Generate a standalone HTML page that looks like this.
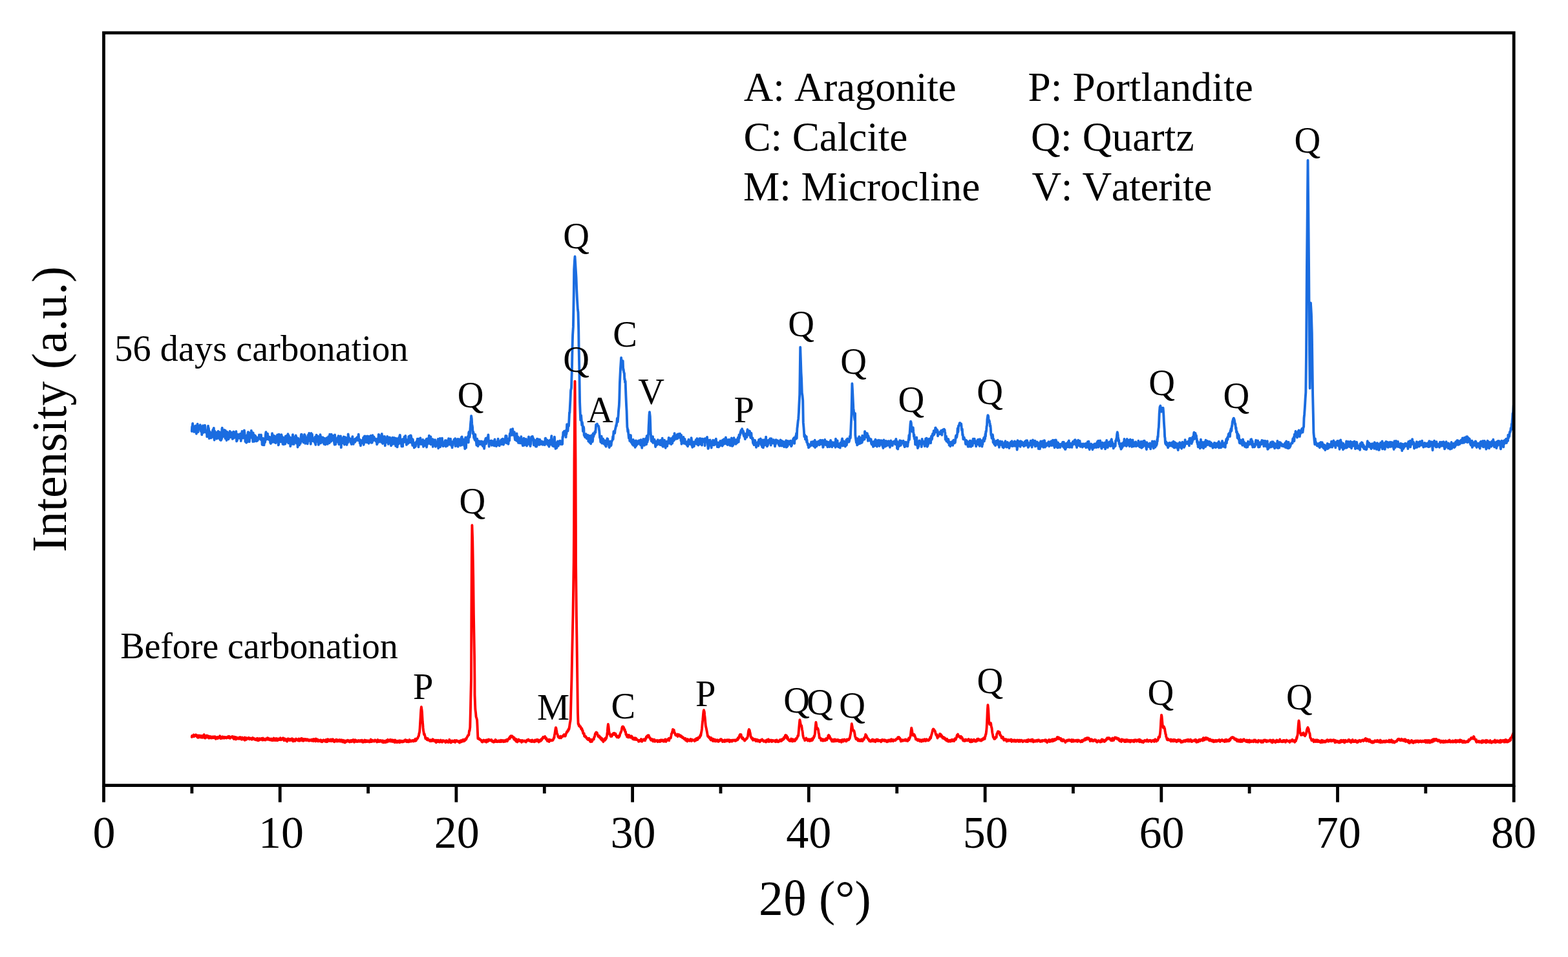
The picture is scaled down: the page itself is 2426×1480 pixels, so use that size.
<!DOCTYPE html>
<html lang="en">
<head>
<meta charset="utf-8">
<title>XRD patterns before and after carbonation</title>
<style>
html,body{margin:0;padding:0;background:#fff;}
body{width:2426px;height:1480px;overflow:hidden;}
svg{display:block;}
text{font-family:"Liberation Serif",serif;fill:#000;font-kerning:none;font-variant-ligatures:none;}
.frame line{stroke:#000;stroke-width:4.8;stroke-linecap:butt;}
.curve{fill:none;stroke-linejoin:round;stroke-linecap:round;}
</style>
</head>
<body>
<svg width="2426" height="1480" viewBox="0 0 2426 1480">
<rect x="0" y="0" width="2426" height="1480" fill="#ffffff"/>
<g class="curves">
<path class="curve" stroke="#1a6ce0" stroke-width="3.9" d="M296.8 667.0L297.2 659.8L297.6 660.3L298.1 655.0L298.5 662.9L298.9 660.0L299.3 658.9L299.7 665.3L300.2 667.8L300.6 660.8L301.0 661.8L301.4 662.8L301.8 664.6L302.3 664.3L302.7 658.4L303.1 659.8L303.5 668.1L303.9 670.7L304.4 661.7L304.8 658.2L305.2 664.0L305.6 655.6L306.0 661.2L306.5 668.0L306.9 664.1L307.3 660.3L307.7 663.5L308.1 658.7L308.6 661.5L309.0 661.1L309.4 660.4L309.8 657.3L310.2 662.1L310.7 665.0L311.1 667.3L311.5 666.0L311.9 666.7L312.3 672.3L312.8 659.7L313.2 669.8L313.6 663.0L314.0 658.2L314.4 661.7L314.9 662.1L315.3 668.7L315.7 662.5L316.1 665.4L316.5 663.7L317.0 657.8L317.4 659.9L317.8 665.6L318.2 666.0L318.6 668.7L319.1 666.3L319.5 666.4L319.9 668.5L320.3 675.4L320.7 667.5L321.2 668.2L321.6 667.4L322.0 658.8L322.4 670.5L322.8 662.0L323.3 667.1L323.7 678.0L324.1 667.0L324.5 667.6L324.9 677.2L325.4 668.6L325.8 671.3L326.2 676.7L326.6 677.3L327.0 674.7L327.5 672.8L327.9 676.0L328.3 672.6L328.7 670.6L329.1 665.3L329.6 666.4L330.0 663.7L330.4 672.5L330.8 661.9L331.2 676.3L331.7 680.5L332.1 666.5L332.5 668.3L332.9 670.0L333.3 674.9L333.8 669.2L334.2 673.3L334.6 671.3L335.0 672.3L335.4 678.5L335.9 668.4L336.3 672.6L336.7 674.5L337.1 676.5L337.5 666.9L338.0 676.1L338.4 675.0L338.8 677.9L339.2 673.7L339.6 668.2L340.1 675.2L340.5 680.2L340.9 674.6L341.3 673.9L341.7 680.9L342.2 680.4L342.6 670.8L343.0 678.6L343.4 663.1L343.8 661.8L344.3 674.2L344.7 671.7L345.1 675.2L345.5 675.1L345.9 672.1L346.4 674.8L346.8 672.8L347.2 665.0L347.6 673.0L348.0 673.4L348.5 678.0L348.9 665.9L349.3 672.1L349.7 671.9L350.1 674.3L350.6 681.0L351.0 673.0L351.4 667.9L351.8 672.6L352.2 676.6L352.7 669.6L353.1 672.1L353.5 679.2L353.9 677.6L354.3 673.0L354.8 669.1L355.2 671.3L355.6 667.0L356.0 676.4L356.4 674.2L356.9 674.5L357.3 668.5L357.7 670.4L358.1 675.7L358.5 674.5L359.0 671.0L359.4 675.7L359.8 678.9L360.2 672.4L360.6 670.7L361.1 667.6L361.5 667.8L361.9 677.6L362.3 675.9L362.7 674.0L363.2 669.4L363.6 671.5L364.0 676.3L364.4 673.0L364.8 670.6L365.3 667.1L365.7 675.5L366.1 682.3L366.5 681.5L366.9 681.1L367.4 673.8L367.8 676.2L368.2 671.6L368.6 677.7L369.0 672.3L369.5 672.8L369.9 673.6L370.3 677.6L370.7 673.7L371.1 673.3L371.6 671.0L372.0 678.3L372.4 670.6L372.8 682.0L373.2 675.6L373.7 675.2L374.1 673.1L374.5 666.9L374.9 668.6L375.3 673.4L375.8 677.6L376.2 667.3L376.6 669.6L377.0 673.5L377.4 667.6L377.9 665.6L378.3 668.9L378.7 671.6L379.1 673.7L379.5 682.9L380.0 675.8L380.4 677.1L380.8 682.3L381.2 684.6L381.6 673.5L382.1 679.2L382.5 683.4L382.9 672.5L383.3 673.4L383.7 668.3L384.2 668.3L384.6 671.9L385.0 676.6L385.4 680.4L385.8 683.1L386.3 677.9L386.7 669.8L387.1 677.3L387.5 673.8L387.9 674.2L388.4 672.5L388.8 665.9L389.2 675.0L389.6 668.1L390.0 675.0L390.5 677.7L390.9 676.9L391.3 683.0L391.7 669.5L392.1 678.5L392.6 682.5L393.0 680.9L393.4 682.7L393.8 673.0L394.2 680.3L394.7 681.0L395.1 674.0L395.5 675.9L395.9 679.1L396.3 675.9L396.8 682.3L397.2 678.6L397.6 681.3L398.0 681.7L398.4 681.0L398.9 680.5L399.3 676.9L399.7 678.1L400.1 675.9L400.5 677.9L401.0 672.5L401.4 677.3L401.8 678.0L402.2 674.0L402.6 674.0L403.1 679.5L403.5 679.9L403.9 672.4L404.3 677.3L404.7 677.1L405.2 678.3L405.6 687.6L406.0 684.7L406.4 686.5L406.8 688.1L407.3 677.9L407.7 679.7L408.1 683.7L408.5 688.3L408.9 682.6L409.4 684.4L409.8 684.4L410.2 682.9L410.6 678.4L411.0 671.2L411.5 668.1L411.9 679.8L412.3 677.2L412.7 673.4L413.1 677.5L413.6 676.7L414.0 670.7L414.4 679.2L414.8 674.8L415.2 674.8L415.7 678.7L416.1 677.4L416.5 680.1L416.9 677.8L417.3 676.0L417.8 677.3L418.2 684.7L418.6 677.4L419.0 686.0L419.4 676.5L419.9 684.2L420.3 682.0L420.7 676.4L421.1 670.2L421.5 683.8L422.0 672.6L422.4 673.2L422.8 676.5L423.2 675.2L423.6 676.5L424.1 676.7L424.5 674.1L424.9 684.1L425.3 676.3L425.7 679.4L426.2 680.6L426.6 685.0L427.0 681.0L427.4 679.9L427.8 680.1L428.3 674.0L428.7 675.8L429.1 672.4L429.5 672.6L429.9 679.3L430.4 679.3L430.8 688.3L431.2 686.8L431.6 671.7L432.0 677.6L432.5 672.5L432.9 680.6L433.3 678.3L433.7 679.2L434.1 678.6L434.6 683.3L435.0 680.2L435.4 672.2L435.8 674.3L436.2 676.9L436.7 678.9L437.1 676.0L437.5 686.9L437.9 679.8L438.3 684.0L438.8 677.2L439.2 687.2L439.6 678.3L440.0 686.2L440.4 677.2L440.9 682.0L441.3 686.6L441.7 674.7L442.1 678.0L442.5 682.9L443.0 680.8L443.4 674.0L443.8 680.9L444.2 676.1L444.6 683.3L445.1 678.3L445.5 671.2L445.9 676.7L446.3 685.3L446.7 673.5L447.2 676.5L447.6 680.9L448.0 684.2L448.4 684.9L448.8 676.5L449.3 690.1L449.7 680.5L450.1 681.4L450.5 683.0L450.9 683.4L451.4 680.7L451.8 682.0L452.2 686.9L452.6 675.5L453.0 672.1L453.5 682.1L453.9 682.3L454.3 684.2L454.7 687.0L455.1 676.7L455.6 679.5L456.0 680.0L456.4 684.3L456.8 683.7L457.2 674.7L457.7 673.4L458.1 680.2L458.5 675.5L458.9 685.6L459.3 678.4L459.8 678.0L460.2 679.8L460.6 691.5L461.0 682.8L461.4 677.9L461.9 684.7L462.3 683.6L462.7 685.4L463.1 688.4L463.5 681.4L464.0 683.0L464.4 683.2L464.8 685.8L465.2 681.4L465.6 676.0L466.1 671.6L466.5 674.8L466.9 671.9L467.3 682.6L467.7 680.6L468.2 681.3L468.6 677.6L469.0 676.1L469.4 676.2L469.8 684.4L470.3 678.3L470.7 677.9L471.1 672.0L471.5 680.2L471.9 673.4L472.4 685.9L472.8 679.6L473.2 681.6L473.6 677.1L474.0 676.5L474.5 681.6L474.9 679.7L475.3 682.8L475.7 686.4L476.1 683.2L476.6 672.9L477.0 677.4L477.4 675.6L477.8 674.6L478.2 669.9L478.7 670.9L479.1 677.0L479.5 677.0L479.9 682.5L480.3 681.3L480.8 686.7L481.2 670.4L481.6 670.1L482.0 678.0L482.4 677.0L482.9 671.8L483.3 677.0L483.7 679.1L484.1 682.0L484.5 677.9L485.0 680.3L485.4 680.3L485.8 678.5L486.2 683.0L486.6 679.7L487.1 684.8L487.5 675.8L487.9 685.1L488.3 687.8L488.7 680.8L489.2 683.5L489.6 672.6L490.0 678.5L490.4 673.9L490.8 679.5L491.3 680.1L491.7 674.6L492.1 677.4L492.5 678.2L492.9 687.9L493.4 678.3L493.8 677.7L494.2 680.0L494.6 680.8L495.0 677.4L495.5 672.3L495.9 675.6L496.3 685.3L496.7 679.2L497.1 676.7L497.6 676.4L498.0 682.8L498.4 680.3L498.8 676.7L499.2 683.7L499.7 676.5L500.1 678.3L500.5 684.9L500.9 683.1L501.3 686.7L501.8 680.7L502.2 678.0L502.6 681.2L503.0 681.6L503.4 687.6L503.9 685.6L504.3 682.8L504.7 683.7L505.1 684.2L505.5 677.3L506.0 682.7L506.4 682.4L506.8 686.9L507.2 679.4L507.6 684.3L508.1 675.3L508.5 680.6L508.9 684.0L509.3 679.6L509.7 685.1L510.2 671.6L510.6 678.9L511.0 679.1L511.4 678.0L511.8 672.8L512.3 682.7L512.7 671.6L513.1 679.9L513.5 677.2L513.9 681.0L514.4 676.7L514.8 673.6L515.2 676.4L515.6 676.4L516.0 679.7L516.5 676.7L516.9 682.7L517.3 685.8L517.7 687.6L518.1 672.5L518.6 680.7L519.0 687.4L519.4 686.8L519.8 680.6L520.2 680.6L520.7 679.5L521.1 681.1L521.5 679.1L521.9 678.3L522.3 677.0L522.8 678.9L523.2 683.9L523.6 674.2L524.0 682.3L524.4 687.2L524.9 680.0L525.3 685.7L525.7 677.9L526.1 685.7L526.5 679.4L527.0 674.4L527.4 682.2L527.8 692.1L528.2 681.9L528.6 683.4L529.1 677.9L529.5 677.8L529.9 682.8L530.3 680.7L530.7 682.9L531.2 685.0L531.6 675.5L532.0 678.5L532.4 682.7L532.8 687.6L533.3 676.0L533.7 677.0L534.1 679.8L534.5 683.3L534.9 676.7L535.4 681.8L535.8 683.8L536.2 684.5L536.6 687.9L537.0 678.0L537.5 678.3L537.9 684.7L538.3 684.2L538.7 671.4L539.1 675.2L539.6 681.2L540.0 676.7L540.4 681.0L540.8 679.5L541.2 680.0L541.7 678.5L542.1 679.0L542.5 684.4L542.9 679.9L543.3 683.7L543.8 687.0L544.2 680.1L544.6 680.3L545.0 677.3L545.4 675.1L545.9 686.1L546.3 681.2L546.7 686.9L547.1 684.1L547.5 682.0L548.0 680.0L548.4 681.4L548.8 679.4L549.2 683.8L549.6 678.6L550.1 682.4L550.5 681.9L550.9 678.3L551.3 677.6L551.7 679.5L552.2 679.0L552.6 676.1L553.0 677.6L553.4 677.7L553.8 681.1L554.3 676.7L554.7 671.6L555.1 677.2L555.5 680.7L555.9 681.5L556.4 679.4L556.8 685.7L557.2 685.1L557.6 685.4L558.0 689.2L558.5 681.3L558.9 684.6L559.3 681.7L559.7 685.0L560.1 684.8L560.6 682.8L561.0 684.2L561.4 679.6L561.8 685.4L562.2 676.7L562.7 687.8L563.1 684.8L563.5 675.8L563.9 674.7L564.3 684.3L564.8 674.5L565.2 683.0L565.6 678.1L566.0 681.4L566.4 676.9L566.9 681.9L567.3 679.0L567.7 684.4L568.1 674.5L568.5 683.2L569.0 679.8L569.4 682.2L569.8 674.9L570.2 675.7L570.6 685.7L571.1 675.1L571.5 678.6L571.9 679.1L572.3 675.7L572.7 679.8L573.2 674.3L573.6 673.9L574.0 683.7L574.4 680.0L574.8 684.8L575.3 683.1L575.7 684.6L576.1 680.1L576.5 673.1L576.9 677.5L577.4 676.3L577.8 681.2L578.2 678.4L578.6 675.6L579.0 679.7L579.5 677.9L579.9 680.6L580.3 678.1L580.7 681.1L581.1 678.7L581.6 682.5L582.0 679.2L582.4 682.6L582.8 681.8L583.2 687.3L583.7 686.2L584.1 682.6L584.5 678.1L584.9 678.8L585.3 682.4L585.8 671.9L586.2 683.6L586.6 672.4L587.0 679.9L587.4 678.2L587.9 682.5L588.3 682.1L588.7 678.6L589.1 677.1L589.5 680.9L590.0 683.9L590.4 677.6L590.8 671.0L591.2 677.3L591.6 679.7L592.1 686.0L592.5 675.0L592.9 678.0L593.3 684.4L593.7 683.0L594.2 675.2L594.6 683.7L595.0 675.0L595.4 679.3L595.8 689.2L596.3 680.9L596.7 680.2L597.1 684.7L597.5 678.8L597.9 677.7L598.4 679.2L598.8 683.7L599.2 674.9L599.6 677.4L600.0 675.8L600.5 679.1L600.9 686.8L601.3 680.7L601.7 679.8L602.1 683.1L602.6 678.8L603.0 676.4L603.4 684.3L603.8 684.3L604.2 679.2L604.7 684.5L605.1 689.4L605.5 688.4L605.9 686.5L606.3 677.6L606.8 682.6L607.2 676.8L607.6 686.9L608.0 681.3L608.4 684.7L608.9 677.4L609.3 685.5L609.7 677.0L610.1 682.7L610.5 686.5L611.0 685.7L611.4 683.7L611.8 677.6L612.2 689.7L612.6 687.8L613.1 688.5L613.5 685.1L613.9 678.3L614.3 683.8L614.7 691.4L615.2 681.2L615.6 686.5L616.0 681.5L616.4 686.8L616.8 680.0L617.3 676.5L617.7 679.1L618.1 676.6L618.5 673.4L618.9 672.8L619.4 679.9L619.8 680.1L620.2 686.0L620.6 684.0L621.0 686.9L621.5 690.4L621.9 679.7L622.3 680.6L622.7 687.9L623.1 690.3L623.6 679.7L624.0 678.8L624.4 684.0L624.8 680.0L625.2 682.2L625.7 675.4L626.1 680.0L626.5 683.6L626.9 678.3L627.3 674.0L627.8 681.2L628.2 683.7L628.6 679.6L629.0 687.9L629.4 685.4L629.9 683.4L630.3 682.9L630.7 682.2L631.1 684.4L631.5 685.8L632.0 683.5L632.4 675.0L632.8 680.7L633.2 679.2L633.6 678.3L634.1 682.6L634.5 673.8L634.9 684.1L635.3 676.3L635.7 673.5L636.2 675.7L636.6 684.3L637.0 682.1L637.4 678.6L637.8 685.7L638.3 688.9L638.7 679.4L639.1 682.3L639.5 686.2L639.9 684.6L640.4 684.8L640.8 692.4L641.2 685.6L641.6 686.0L642.0 691.3L642.5 686.0L642.9 690.4L643.3 684.4L643.7 683.9L644.1 683.3L644.6 683.0L645.0 681.9L645.4 682.9L645.8 678.8L646.2 680.5L646.7 682.7L647.1 687.8L647.5 691.4L647.9 678.7L648.3 683.8L648.8 679.9L649.2 681.0L649.6 683.3L650.0 678.6L650.4 677.4L650.9 686.9L651.3 685.9L651.7 683.1L652.1 686.2L652.5 684.7L653.0 680.7L653.4 687.2L653.8 681.9L654.2 680.0L654.6 682.5L655.1 690.9L655.5 687.2L655.9 687.4L656.3 685.7L656.7 687.9L657.2 689.0L657.6 681.4L658.0 684.0L658.4 683.9L658.8 688.7L659.3 686.5L659.7 679.0L660.1 691.6L660.5 688.2L660.9 678.5L661.4 686.8L661.8 682.4L662.2 684.6L662.6 685.0L663.0 685.3L663.5 679.9L663.9 673.7L664.3 679.8L664.7 686.1L665.1 685.8L665.6 685.0L666.0 680.2L666.4 675.4L666.8 687.4L667.2 682.7L667.7 680.4L668.1 684.5L668.5 681.1L668.9 685.3L669.3 679.2L669.8 690.9L670.2 686.2L670.6 687.4L671.0 685.7L671.4 680.4L671.9 685.2L672.3 684.6L672.7 685.2L673.1 680.1L673.5 687.1L674.0 690.7L674.4 685.0L674.8 687.4L675.2 688.7L675.6 684.0L676.1 684.6L676.5 688.7L676.9 686.4L677.3 681.1L677.7 679.0L678.2 693.2L678.6 688.4L679.0 681.7L679.4 687.6L679.8 689.5L680.3 686.6L680.7 678.0L681.1 691.2L681.5 687.6L681.9 684.5L682.4 687.1L682.8 684.1L683.2 683.8L683.6 688.1L684.0 677.8L684.5 687.7L684.9 686.2L685.3 690.0L685.7 690.1L686.1 689.8L686.6 688.5L687.0 687.7L687.4 683.9L687.8 687.2L688.2 683.3L688.7 681.2L689.1 684.9L689.5 684.9L689.9 690.5L690.3 681.1L690.8 689.2L691.2 686.5L691.6 683.0L692.0 689.6L692.4 681.9L692.9 685.2L693.3 682.7L693.7 683.1L694.1 678.2L694.5 682.4L695.0 687.6L695.4 684.5L695.8 683.5L696.2 679.2L696.6 686.9L697.1 678.7L697.5 683.2L697.9 688.4L698.3 686.8L698.7 689.4L699.2 687.1L699.6 692.3L700.0 689.1L700.4 688.8L700.8 683.0L701.3 684.5L701.7 684.3L702.1 683.5L702.5 679.7L702.9 681.6L703.4 683.4L703.8 683.6L704.2 678.1L704.6 690.0L705.0 682.5L705.5 683.0L705.9 681.9L706.3 682.6L706.7 689.6L707.1 680.7L707.6 681.9L708.0 679.0L708.4 680.5L708.8 690.7L709.2 685.8L709.7 685.7L710.1 679.2L710.5 683.8L710.9 685.5L711.3 681.0L711.8 680.8L712.2 687.7L712.6 688.9L713.0 685.3L713.4 679.6L713.9 676.2L714.3 688.2L714.7 675.5L715.1 683.0L715.5 682.4L716.0 680.5L716.4 684.6L716.8 679.4L717.2 687.7L717.6 679.8L718.1 685.9L718.5 690.1L718.9 683.6L719.3 694.0L719.7 688.4L720.2 676.5L720.6 689.3L721.0 692.6L721.4 683.2L721.8 681.1L722.3 683.6L722.7 677.6L723.1 683.8L723.5 682.6L723.9 674.9L724.4 680.8L724.8 684.3L725.2 669.4L725.6 667.9L726.0 671.2L726.5 676.1L726.9 673.7L727.3 666.0L727.7 660.8L728.1 655.2L728.6 650.0L729.1 643.1L729.8 647.9L730.2 655.4L730.7 659.0L731.1 660.8L731.5 670.3L731.9 669.7L732.3 668.0L732.8 670.3L733.2 677.1L733.6 674.2L734.0 677.4L734.4 679.9L734.9 680.6L735.3 672.0L735.7 677.6L736.1 678.8L736.5 681.3L737.0 685.0L737.4 688.5L737.8 682.6L738.2 678.8L738.6 684.0L739.1 681.5L739.5 690.0L739.9 685.6L740.3 683.1L740.7 686.4L741.2 682.3L741.6 683.4L742.0 682.7L742.4 685.1L742.8 687.0L743.3 684.6L743.7 685.7L744.1 682.5L744.5 684.3L744.9 683.0L745.4 687.9L745.8 682.6L746.2 685.8L746.6 687.8L747.0 690.0L747.5 683.9L747.9 685.3L748.3 684.7L748.7 685.6L749.1 693.7L749.6 688.8L750.0 681.6L750.4 683.1L750.8 685.5L751.2 678.8L751.7 677.7L752.1 686.3L752.5 679.7L752.9 679.8L753.3 682.4L753.8 676.9L754.2 678.9L754.6 677.5L755.0 676.5L755.4 672.4L755.9 683.1L756.3 684.3L756.7 690.6L757.1 685.5L757.5 684.2L758.0 685.0L758.4 681.9L758.8 685.3L759.2 683.8L759.6 684.9L760.1 683.1L760.5 681.6L760.9 688.7L761.3 683.9L761.7 684.9L762.2 687.7L762.6 687.9L763.0 682.2L763.4 683.5L763.8 688.4L764.3 689.1L764.7 688.7L765.1 689.2L765.5 679.4L765.9 686.4L766.4 683.0L766.8 685.7L767.2 686.4L767.6 688.1L768.0 690.0L768.5 688.2L768.9 685.1L769.3 682.9L769.7 688.3L770.1 684.5L770.6 678.8L771.0 685.0L771.4 685.7L771.8 682.2L772.2 687.2L772.7 689.3L773.1 684.3L773.5 686.9L773.9 686.9L774.3 683.6L774.8 683.6L775.2 680.5L775.6 681.9L776.0 679.8L776.4 687.1L776.9 682.7L777.3 684.5L777.7 678.6L778.1 684.7L778.5 687.3L779.0 687.6L779.4 683.3L779.8 684.0L780.2 681.7L780.6 679.1L781.1 680.5L781.5 684.6L781.9 677.7L782.3 674.0L782.7 679.0L783.2 682.2L783.6 674.1L784.0 685.2L784.4 681.1L784.8 683.5L785.3 679.7L785.7 680.8L786.1 686.1L786.5 686.7L786.9 682.1L787.4 678.2L787.8 677.6L788.2 681.4L788.6 673.0L789.0 670.2L789.5 670.7L789.9 671.1L790.3 664.2L790.7 672.4L791.1 673.0L791.6 668.6L792.0 667.0L792.4 672.2L792.8 671.1L793.2 663.3L793.7 672.9L794.1 670.1L794.5 671.3L794.9 670.8L795.3 672.3L795.8 668.1L796.2 674.1L796.6 677.9L797.0 680.2L797.4 676.6L797.9 673.9L798.3 678.2L798.7 679.1L799.1 681.3L799.5 670.5L800.0 678.2L800.4 682.4L800.8 682.5L801.2 680.3L801.6 675.7L802.1 684.9L802.5 683.1L802.9 683.6L803.3 677.8L803.7 678.7L804.2 685.2L804.6 681.9L805.0 683.8L805.4 680.4L805.8 685.3L806.3 675.3L806.7 679.5L807.1 682.5L807.5 682.2L807.9 686.3L808.4 684.6L808.8 689.2L809.2 683.3L809.6 683.4L810.0 685.4L810.5 677.6L810.9 688.7L811.3 681.2L811.7 687.5L812.1 687.9L812.6 685.6L813.0 683.0L813.4 681.3L813.8 678.9L814.2 687.5L814.7 683.5L815.1 689.5L815.5 681.8L815.9 684.8L816.3 683.0L816.8 686.3L817.2 682.4L817.6 681.4L818.0 675.5L818.4 681.2L818.9 683.8L819.3 687.7L819.7 684.0L820.1 679.7L820.5 690.0L821.0 685.6L821.4 686.8L821.8 679.5L822.2 675.6L822.6 677.8L823.1 675.3L823.5 679.3L823.9 674.9L824.3 679.4L824.7 677.2L825.2 680.9L825.6 678.8L826.0 688.4L826.4 686.0L826.8 685.0L827.3 680.7L827.7 681.3L828.1 685.0L828.5 682.4L828.9 690.5L829.4 685.1L829.8 689.1L830.2 690.6L830.6 686.9L831.0 678.6L831.5 688.2L831.9 681.8L832.3 679.3L832.7 681.4L833.1 679.5L833.6 682.7L834.0 680.4L834.4 687.9L834.8 685.6L835.2 679.7L835.7 683.1L836.1 682.6L836.5 684.9L836.9 685.4L837.3 686.9L837.8 685.1L838.2 682.5L838.6 686.1L839.0 686.4L839.4 683.6L839.9 687.7L840.3 686.2L840.7 683.5L841.1 684.2L841.5 685.2L842.0 685.3L842.4 684.3L842.8 688.1L843.2 686.9L843.6 678.0L844.1 677.7L844.5 681.7L844.9 683.7L845.3 685.2L845.7 684.3L846.2 684.3L846.6 680.4L847.0 687.1L847.4 684.7L847.8 687.6L848.3 688.6L848.7 683.2L849.1 684.4L849.5 690.7L849.9 681.4L850.4 683.3L850.8 682.1L851.2 680.6L851.6 687.6L852.0 682.0L852.5 681.3L852.9 678.2L853.3 674.1L853.7 685.1L854.1 681.9L854.6 683.9L855.0 689.5L855.4 684.9L855.8 686.0L856.2 687.2L856.7 690.4L857.1 679.4L857.5 680.1L857.9 675.6L858.3 681.9L858.8 684.4L859.2 683.8L859.6 693.9L860.0 689.5L860.4 691.7L860.9 686.8L861.3 692.8L861.7 685.6L862.1 687.7L862.5 684.9L863.0 682.5L863.4 689.8L863.8 689.6L864.2 683.2L864.6 687.6L865.1 685.4L865.5 684.9L865.9 685.7L866.3 681.6L866.7 684.9L867.5 686.9L868.0 683.1L868.4 683.2L868.8 686.9L869.3 681.9L869.7 687.2L870.1 686.6L870.5 675.6L870.9 676.7L871.4 668.5L871.8 672.8L872.2 670.6L872.6 670.2L873.0 666.6L873.5 672.6L873.9 671.6L874.3 669.0L874.7 669.9L875.1 672.8L875.6 676.1L876.0 665.2L876.5 671.1L877.2 656.2L877.7 658.6L878.1 660.9L878.5 666.6L878.9 660.4L879.3 658.0L880.0 659.0L880.6 646.5L881.0 637.9L881.4 638.4L881.9 628.7L882.5 617.7L883.1 603.6L883.5 602.3L884.0 599.9L884.4 585.5L884.9 572.9L885.6 535.6L886.1 517.9L886.9 505.4L887.8 451.9L888.2 417.1L889.0 403.1L889.5 396.8L890.3 409.1L890.8 417.7L891.5 428.8L892.1 445.6L892.9 462.1L893.9 478.6L894.5 483.0L895.2 509.3L895.6 537.1L896.4 577.1L897.1 622.5L898.2 649.6L898.7 644.9L899.1 642.4L899.5 647.6L899.9 652.6L900.3 657.6L900.8 653.0L901.4 657.4L902.0 667.1L902.4 659.7L902.9 660.4L903.3 662.2L903.7 673.1L904.1 673.3L904.7 674.8L905.4 676.3L905.8 673.4L906.2 673.4L906.6 671.2L907.1 675.8L907.5 676.5L907.9 678.2L908.3 674.6L908.7 677.3L909.2 674.8L909.6 672.9L910.0 675.5L910.4 682.3L910.8 679.4L911.3 677.9L911.7 681.1L912.1 684.1L912.5 674.0L912.9 679.5L913.5 685.2L914.2 686.1L914.6 682.8L915.0 681.4L915.5 673.1L915.9 675.9L916.3 680.5L916.7 683.1L917.1 681.0L917.6 670.5L918.0 673.4L918.4 675.1L918.8 670.0L919.2 670.6L919.7 671.7L920.1 669.2L920.5 667.1L920.9 667.8L921.3 668.9L921.8 662.4L922.2 656.6L922.6 656.9L923.0 657.7L923.4 658.0L923.9 655.6L924.3 658.4L924.7 658.3L925.4 658.3L926.0 659.0L926.4 660.3L926.8 664.1L927.2 666.1L927.6 670.9L928.1 677.1L928.5 677.0L928.9 678.8L929.3 683.7L929.7 681.4L930.2 681.8L930.6 674.6L931.0 681.1L931.4 685.6L931.8 678.0L932.3 682.3L932.7 682.2L933.1 678.8L933.5 683.5L933.9 682.6L934.4 686.6L934.8 680.9L935.2 684.4L935.6 686.1L936.0 686.8L936.5 688.9L936.9 681.6L937.3 682.3L937.7 690.6L938.1 683.4L938.6 682.2L939.0 684.0L939.4 678.3L939.8 681.9L940.2 678.6L940.7 681.9L941.1 681.9L941.5 687.7L941.9 685.6L942.3 690.8L942.8 691.9L943.2 685.2L943.6 687.4L944.0 682.6L944.4 682.8L945.1 689.4L945.7 688.0L946.1 683.2L946.5 682.8L947.0 681.6L947.4 680.7L947.8 679.3L948.2 674.9L948.6 679.3L949.1 671.9L949.5 667.2L950.1 669.4L950.7 670.0L951.2 669.9L951.6 665.2L952.4 662.1L953.3 657.3L953.7 658.7L954.1 654.9L954.5 652.3L954.9 647.0L955.7 652.5L956.2 646.6L956.6 642.6L957.0 635.7L957.8 627.5L958.3 616.5L958.9 592.7L960.0 570.1L961.1 553.3L961.7 559.4L962.4 565.6L962.9 567.6L963.7 558.1L964.2 572.1L964.6 570.9L965.4 576.5L965.9 576.9L966.3 586.8L966.7 586.0L967.1 591.5L967.6 589.4L968.4 611.6L969.1 627.4L969.6 635.7L970.4 660.5L970.9 662.5L971.3 667.5L971.7 664.7L972.2 670.0L973.0 677.9L973.8 672.7L974.3 681.9L974.7 677.9L975.1 677.8L975.5 674.5L975.9 673.2L976.4 684.0L976.8 681.7L977.2 680.1L977.6 684.6L978.0 685.9L978.5 687.2L979.1 683.3L979.7 680.0L980.1 688.8L980.6 685.2L981.0 682.2L981.4 688.4L981.8 682.1L982.2 685.8L982.7 691.9L983.1 687.2L983.5 682.4L983.9 681.4L984.3 689.5L984.8 682.6L985.2 686.3L985.6 687.6L986.0 683.2L986.4 685.6L986.9 682.2L987.3 686.5L987.7 685.0L988.1 682.7L988.5 683.1L989.0 681.2L989.4 681.2L989.8 685.3L990.2 684.1L990.6 684.8L991.1 688.4L991.5 680.3L991.9 686.6L992.3 686.7L992.7 686.2L993.2 692.7L993.6 689.7L994.0 684.6L994.4 685.9L994.8 687.1L995.3 679.0L995.7 684.2L996.1 681.6L996.5 682.4L996.9 688.9L997.4 680.7L997.8 680.0L998.2 679.1L998.6 685.3L999.0 686.6L999.5 677.8L999.9 687.4L1000.3 686.5L1000.7 674.1L1001.1 676.3L1001.6 683.5L1002.0 680.6L1002.4 680.6L1002.8 672.6L1003.2 671.2L1003.7 658.7L1004.1 651.4L1004.5 641.7L1005.0 637.2L1005.8 644.2L1006.2 654.8L1006.6 668.7L1007.0 672.5L1007.4 678.4L1007.9 682.2L1008.3 679.2L1008.7 682.5L1009.1 683.2L1009.5 681.0L1010.0 675.3L1010.4 684.8L1010.8 681.1L1011.2 682.5L1011.6 683.7L1012.1 683.0L1012.5 679.7L1012.9 684.1L1013.3 682.8L1013.7 686.9L1014.2 691.0L1014.6 682.4L1015.0 688.9L1015.4 685.7L1015.8 688.6L1016.3 684.3L1016.7 687.7L1017.1 682.3L1017.5 687.1L1017.9 680.2L1018.4 682.3L1018.8 681.4L1019.2 685.5L1019.6 685.8L1020.0 685.5L1020.5 684.1L1020.9 687.7L1021.3 684.6L1021.7 681.0L1022.1 688.1L1022.6 684.7L1023.0 686.6L1023.4 685.0L1023.8 683.1L1024.2 684.5L1024.7 677.7L1025.1 690.0L1025.5 682.0L1025.9 690.7L1026.3 687.7L1026.8 681.5L1027.2 686.7L1027.6 683.0L1028.0 680.7L1028.4 689.4L1028.9 689.1L1029.3 687.4L1029.7 692.7L1030.1 688.9L1030.5 687.1L1031.0 690.3L1031.4 682.6L1031.8 688.1L1032.2 690.0L1032.6 685.5L1033.1 683.4L1033.5 685.2L1033.9 685.5L1034.3 682.3L1034.7 676.9L1035.2 681.7L1035.6 679.4L1036.0 685.7L1036.4 678.3L1036.8 678.2L1037.3 680.3L1037.7 683.9L1038.1 678.9L1038.5 687.0L1038.9 682.9L1039.4 681.2L1039.8 677.4L1040.2 685.6L1040.6 680.8L1041.0 680.7L1041.5 674.9L1041.9 681.8L1042.3 681.4L1042.7 676.5L1043.1 680.7L1043.6 670.1L1044.0 676.2L1044.4 676.2L1044.8 677.6L1045.2 673.4L1045.7 673.9L1046.1 678.9L1046.5 678.3L1046.9 673.5L1047.3 673.0L1047.8 672.1L1048.2 678.2L1048.6 674.5L1049.0 674.2L1049.4 671.3L1049.9 672.4L1050.3 673.9L1050.7 671.1L1051.1 676.7L1051.5 675.4L1052.0 670.7L1052.4 672.8L1052.8 676.5L1053.2 674.0L1053.6 681.7L1054.1 672.9L1054.5 686.6L1054.9 676.8L1055.3 681.3L1055.7 680.9L1056.2 683.2L1056.6 678.0L1057.0 681.1L1057.4 675.9L1057.8 684.8L1058.3 683.6L1058.7 685.9L1059.1 685.8L1059.5 678.9L1059.9 682.6L1060.4 683.0L1060.8 683.7L1061.2 683.6L1061.6 687.0L1062.0 685.3L1062.5 683.6L1062.9 687.7L1063.3 689.1L1063.7 687.3L1064.1 690.2L1064.6 682.0L1065.0 684.3L1065.4 679.8L1065.8 682.1L1066.2 685.2L1066.7 686.7L1067.1 682.1L1067.5 686.2L1067.9 685.7L1068.3 686.7L1068.8 685.7L1069.2 682.7L1069.6 677.1L1070.0 680.6L1070.4 689.1L1070.9 687.5L1071.3 691.7L1071.7 685.3L1072.1 690.3L1072.5 685.7L1073.0 683.4L1073.4 686.5L1073.8 690.2L1074.2 685.3L1074.6 683.4L1075.1 685.2L1075.5 685.8L1075.9 686.3L1076.3 683.7L1076.7 680.2L1077.2 680.4L1077.6 681.4L1078.0 682.2L1078.4 678.3L1078.8 687.2L1079.3 686.0L1079.7 684.3L1080.1 687.4L1080.5 688.5L1080.9 682.5L1081.4 683.1L1081.8 684.9L1082.2 678.3L1082.6 681.7L1083.0 681.7L1083.5 686.9L1083.9 678.1L1084.3 684.1L1084.7 682.2L1085.1 682.6L1085.6 682.2L1086.0 688.6L1086.4 680.7L1086.8 678.6L1087.2 683.0L1087.7 679.9L1088.1 683.1L1088.5 681.0L1088.9 680.5L1089.3 683.3L1089.8 680.3L1090.2 678.4L1090.6 689.2L1091.0 678.2L1091.4 683.5L1091.9 679.9L1092.3 682.2L1092.7 679.1L1093.1 683.0L1093.5 677.9L1094.0 675.9L1094.4 679.6L1094.8 686.0L1095.2 688.6L1095.6 693.8L1096.1 693.0L1096.5 680.9L1096.9 685.6L1097.3 683.2L1097.7 687.8L1098.2 688.7L1098.6 680.4L1099.0 689.0L1099.4 687.8L1099.8 685.5L1100.3 685.7L1100.7 692.5L1101.1 686.1L1101.5 682.9L1101.9 686.4L1102.4 688.2L1102.8 687.4L1103.2 680.7L1103.6 683.0L1104.0 686.2L1104.5 688.3L1104.9 687.8L1105.3 682.3L1105.7 687.8L1106.1 686.4L1106.6 680.6L1107.0 682.3L1107.4 684.3L1107.8 678.8L1108.2 683.5L1108.7 685.6L1109.1 685.4L1109.5 688.3L1109.9 691.1L1110.3 684.4L1110.8 688.4L1111.2 684.6L1111.6 690.7L1112.0 691.2L1112.4 688.0L1112.9 685.6L1113.3 689.7L1113.7 687.4L1114.1 682.8L1114.5 682.0L1115.0 683.0L1115.4 688.6L1115.8 686.0L1116.2 686.6L1116.6 686.0L1117.1 688.9L1117.5 689.6L1117.9 680.7L1118.3 686.2L1118.7 688.0L1119.2 687.0L1119.6 685.8L1120.0 679.1L1120.4 685.4L1120.8 680.0L1121.3 686.2L1121.7 681.1L1122.1 681.0L1122.5 680.8L1122.9 676.4L1123.4 683.0L1123.8 679.1L1124.2 686.6L1124.6 682.8L1125.0 680.1L1125.5 688.0L1125.9 684.5L1126.3 682.0L1126.7 684.2L1127.1 684.7L1127.6 685.6L1128.0 679.8L1128.4 685.5L1128.8 684.3L1129.2 688.8L1129.7 686.2L1130.1 683.1L1130.5 689.1L1130.9 682.7L1131.3 683.0L1131.8 677.5L1132.2 679.1L1132.6 687.7L1133.0 689.9L1133.4 683.5L1133.9 689.0L1134.3 686.4L1134.7 687.6L1135.1 679.7L1135.5 677.1L1136.0 684.5L1136.4 683.8L1136.8 684.1L1137.2 680.9L1137.6 685.7L1138.1 680.1L1138.5 686.7L1138.9 685.1L1139.3 680.2L1139.7 684.6L1140.2 685.0L1140.6 681.6L1141.0 678.9L1141.4 681.4L1141.8 676.7L1142.3 680.0L1142.7 683.6L1143.1 675.4L1143.5 672.4L1143.9 677.6L1144.4 672.3L1144.8 673.2L1145.2 672.4L1145.6 668.3L1146.0 669.9L1146.5 665.5L1146.9 665.6L1147.3 665.8L1147.7 667.1L1148.1 663.2L1148.6 666.2L1149.0 668.9L1149.4 668.6L1149.8 666.5L1150.2 672.4L1150.7 668.8L1151.1 674.9L1151.5 674.4L1151.9 675.4L1152.3 673.6L1152.8 679.1L1153.2 676.9L1153.6 672.1L1154.0 674.8L1154.4 670.6L1154.9 674.0L1155.3 676.2L1155.7 674.7L1156.1 667.3L1156.5 664.3L1157.0 665.7L1157.4 666.1L1157.8 668.5L1158.2 666.2L1158.6 672.0L1159.1 667.4L1159.5 673.0L1159.9 666.6L1160.3 669.4L1160.7 672.2L1161.2 676.6L1161.6 677.0L1162.0 671.9L1162.4 669.8L1162.8 675.7L1163.3 677.7L1163.7 677.7L1164.1 679.8L1164.5 677.4L1164.9 684.0L1165.4 685.9L1165.8 680.2L1166.2 680.7L1166.6 688.1L1167.0 687.8L1167.5 681.2L1167.9 682.1L1168.3 681.0L1168.7 688.0L1169.1 686.4L1169.6 686.0L1170.0 691.8L1170.4 685.2L1170.8 685.5L1171.2 686.1L1171.7 684.6L1172.1 688.8L1172.5 683.7L1172.9 683.5L1173.3 689.5L1173.8 682.0L1174.2 680.0L1174.6 684.4L1175.0 682.8L1175.4 682.6L1175.9 684.5L1176.3 686.0L1176.7 678.4L1177.1 683.3L1177.5 680.0L1178.0 688.5L1178.4 681.1L1178.8 686.7L1179.2 691.3L1179.6 689.7L1180.1 686.7L1180.5 680.4L1180.9 692.4L1181.3 685.0L1181.7 689.5L1182.2 686.5L1182.6 684.7L1183.0 688.6L1183.4 680.0L1183.8 681.3L1184.3 683.5L1184.7 686.4L1185.1 675.6L1185.5 685.4L1185.9 682.6L1186.4 687.0L1186.8 690.2L1187.2 686.3L1187.6 689.2L1188.0 688.0L1188.5 681.0L1188.9 683.7L1189.3 683.6L1189.7 684.8L1190.1 684.2L1190.6 682.0L1191.0 679.0L1191.4 682.8L1191.8 678.1L1192.2 684.2L1192.7 688.6L1193.1 680.0L1193.5 678.4L1193.9 685.2L1194.3 681.5L1194.8 681.7L1195.2 685.4L1195.6 685.1L1196.0 682.6L1196.4 683.8L1196.9 680.2L1197.3 682.5L1197.7 684.0L1198.1 686.3L1198.5 687.0L1199.0 690.3L1199.4 685.2L1199.8 687.6L1200.2 684.2L1200.6 680.1L1201.1 684.0L1201.5 684.3L1201.9 684.7L1202.3 683.7L1202.7 683.2L1203.2 681.3L1203.6 682.9L1204.0 683.5L1204.4 684.9L1204.8 687.6L1205.3 687.1L1205.7 687.4L1206.1 689.6L1206.5 685.5L1206.9 682.6L1207.4 680.5L1207.8 686.1L1208.2 688.7L1208.6 685.6L1209.0 689.5L1209.5 681.8L1209.9 685.1L1210.3 686.9L1210.7 682.7L1211.1 689.2L1211.6 685.2L1212.0 685.4L1212.4 683.1L1212.8 689.8L1213.2 691.1L1213.7 685.4L1214.1 683.8L1214.5 687.1L1214.9 689.7L1215.3 687.4L1215.8 687.3L1216.2 681.2L1216.6 691.6L1217.0 688.5L1217.4 691.2L1217.9 686.5L1218.3 689.0L1218.7 689.8L1219.1 682.0L1219.5 683.8L1220.0 686.0L1220.4 686.3L1220.8 684.9L1221.2 685.5L1221.6 687.0L1222.1 684.6L1222.5 682.0L1222.9 687.3L1223.3 681.7L1223.7 687.9L1224.2 690.1L1225.0 688.6L1225.4 683.8L1225.8 685.1L1226.3 685.0L1226.7 683.2L1227.1 679.8L1227.5 678.2L1227.9 680.5L1228.4 678.6L1228.8 677.1L1229.2 685.8L1229.6 677.4L1230.2 678.2L1230.9 676.6L1231.3 673.8L1231.7 678.7L1232.1 670.1L1232.7 677.9L1233.4 662.5L1233.8 659.9L1234.2 655.7L1234.7 650.9L1235.2 648.0L1235.9 637.6L1236.3 627.8L1237.2 610.3L1237.7 575.5L1238.2 537.0L1238.9 557.2L1239.5 575.9L1240.1 586.2L1240.8 607.5L1241.5 611.8L1242.2 619.1L1242.8 653.4L1243.5 661.2L1243.9 666.3L1244.4 675.1L1245.2 672.5L1245.6 674.8L1246.0 679.6L1246.4 674.4L1247.2 675.6L1247.7 675.2L1248.1 683.7L1248.5 680.2L1248.9 684.7L1249.4 685.7L1249.8 688.2L1250.2 688.1L1250.6 686.3L1251.0 692.4L1251.5 690.1L1252.2 691.3L1252.7 688.0L1253.1 687.7L1253.6 688.7L1254.0 689.2L1254.4 689.3L1254.8 687.7L1255.2 683.5L1255.7 683.7L1256.1 686.9L1256.5 687.7L1256.9 688.5L1257.3 686.0L1257.8 682.9L1258.2 688.0L1258.6 689.3L1259.0 689.9L1259.4 689.4L1259.9 683.6L1260.3 685.6L1260.7 680.8L1261.1 692.0L1261.5 686.6L1262.0 685.4L1262.4 687.2L1262.8 683.9L1263.2 683.5L1263.6 690.0L1264.1 686.9L1264.5 683.9L1264.9 688.2L1265.3 686.4L1265.7 684.9L1266.2 682.6L1266.6 687.0L1267.0 682.4L1267.4 687.3L1267.8 688.1L1268.3 682.5L1268.7 686.7L1269.1 680.8L1269.5 687.1L1269.9 681.8L1270.4 681.6L1270.8 684.4L1271.2 686.7L1271.6 685.9L1272.0 683.6L1272.5 680.8L1272.9 683.6L1273.3 691.7L1273.7 691.4L1274.1 684.0L1274.6 685.5L1275.0 682.3L1275.4 687.8L1275.8 684.3L1276.2 680.0L1276.7 685.2L1277.1 684.8L1277.5 683.1L1277.9 685.5L1278.3 688.4L1278.8 682.8L1279.2 685.8L1279.6 683.1L1280.0 685.3L1280.4 691.3L1280.9 689.6L1281.3 685.4L1281.7 684.1L1282.1 688.4L1282.5 685.2L1283.0 685.8L1283.4 691.1L1283.8 685.1L1284.2 682.9L1284.6 685.6L1285.1 681.0L1285.5 684.5L1285.9 682.9L1286.3 685.4L1286.7 685.5L1287.2 691.4L1287.6 688.0L1288.0 686.0L1288.4 687.3L1288.8 684.3L1289.3 684.7L1289.7 684.8L1290.1 685.1L1290.5 689.2L1290.9 687.7L1291.4 684.9L1291.8 687.7L1292.2 683.3L1292.6 691.7L1293.0 678.7L1293.5 682.4L1293.9 684.7L1294.3 680.9L1294.7 682.9L1295.1 687.3L1295.6 681.4L1296.0 690.4L1296.4 688.1L1296.8 685.9L1297.2 691.4L1297.7 688.3L1298.1 687.9L1298.5 687.0L1298.9 688.0L1299.3 686.4L1299.8 692.6L1300.2 687.7L1300.6 684.4L1301.0 685.2L1301.4 688.4L1301.9 683.7L1302.3 683.1L1302.7 679.7L1303.1 678.4L1303.5 689.5L1304.0 683.3L1304.4 689.2L1304.8 686.6L1305.2 687.2L1305.6 682.4L1306.1 685.6L1306.5 687.3L1306.9 683.8L1307.3 688.3L1307.7 690.5L1308.4 689.2L1309.0 688.2L1309.4 680.1L1309.8 688.5L1310.3 685.9L1310.7 680.1L1311.1 678.4L1311.5 680.3L1311.9 680.7L1312.4 683.3L1312.8 679.5L1313.4 683.5L1314.0 681.8L1314.5 679.4L1314.9 674.6L1315.3 677.9L1315.8 677.1L1316.6 659.4L1317.4 641.4L1317.9 618.3L1318.4 593.3L1319.1 605.4L1319.7 618.4L1320.3 631.2L1320.8 634.5L1321.6 643.6L1322.4 649.8L1323.0 639.3L1323.3 672.7L1324.1 678.7L1324.9 684.4L1325.4 677.9L1325.8 680.9L1326.2 688.3L1326.6 687.3L1327.1 681.0L1327.5 684.2L1327.9 686.8L1328.4 681.4L1329.2 675.1L1329.6 682.2L1330.0 686.0L1330.4 678.9L1330.8 685.7L1331.3 682.4L1331.7 677.7L1332.1 681.8L1332.5 676.9L1332.9 684.9L1333.4 680.9L1333.8 684.1L1334.2 673.7L1334.6 678.5L1335.0 681.1L1335.5 679.7L1335.9 677.4L1336.3 674.8L1336.7 675.0L1337.1 677.2L1337.6 679.4L1338.0 667.2L1338.4 668.4L1338.8 669.1L1339.2 670.4L1339.7 671.2L1340.1 669.9L1340.5 672.3L1340.9 676.3L1341.3 676.3L1341.8 670.2L1342.2 673.2L1342.6 675.0L1343.0 681.9L1343.4 674.0L1343.9 676.0L1344.3 677.6L1344.7 677.9L1345.1 681.0L1345.5 678.1L1346.0 678.8L1346.4 681.6L1346.8 681.9L1347.2 679.1L1347.6 679.4L1348.1 686.2L1348.5 682.2L1348.9 687.6L1349.3 686.6L1349.7 685.8L1350.2 685.4L1350.6 683.9L1351.0 690.8L1351.4 690.7L1351.8 686.5L1352.3 682.8L1352.7 684.0L1353.1 686.6L1353.5 689.4L1353.9 683.3L1354.4 679.7L1354.8 685.7L1355.2 685.3L1355.6 684.3L1356.0 681.6L1356.5 688.7L1356.9 690.6L1357.3 682.2L1357.7 681.2L1358.1 686.3L1358.6 686.7L1359.0 687.2L1359.4 685.2L1359.8 680.8L1360.2 688.8L1360.7 689.7L1361.1 685.1L1361.5 685.7L1361.9 681.7L1362.3 685.4L1362.8 681.2L1363.2 684.6L1363.6 687.5L1364.0 681.5L1364.4 687.2L1364.9 687.3L1365.3 685.5L1365.7 690.9L1366.1 687.1L1366.5 693.0L1367.0 684.7L1367.4 680.4L1367.8 685.1L1368.2 683.2L1368.6 688.3L1369.1 690.5L1369.5 690.6L1369.9 687.2L1370.3 683.6L1370.7 682.0L1371.2 682.8L1371.6 689.6L1372.0 682.8L1372.4 685.5L1372.8 687.0L1373.3 686.9L1373.7 682.4L1374.1 683.4L1374.5 682.3L1374.9 688.8L1375.4 683.9L1375.8 682.7L1376.2 685.9L1376.6 687.7L1377.0 691.7L1377.5 686.1L1377.9 688.9L1378.3 681.5L1378.7 685.8L1379.1 684.4L1379.6 686.4L1380.0 683.4L1380.4 688.5L1380.8 689.0L1381.2 683.9L1381.7 683.9L1382.1 683.3L1382.5 683.6L1382.9 685.3L1383.3 682.8L1383.8 682.3L1384.2 683.7L1384.6 682.2L1385.0 687.1L1385.4 684.4L1385.9 681.6L1386.3 678.9L1386.7 684.0L1387.1 683.3L1387.5 682.2L1388.0 693.4L1388.4 683.3L1388.8 694.0L1389.2 694.4L1389.6 687.9L1390.1 686.3L1390.5 690.5L1390.9 686.1L1391.3 689.4L1391.7 689.6L1392.2 681.3L1392.6 687.6L1393.0 682.8L1393.4 684.2L1393.8 688.7L1394.3 682.0L1394.7 682.6L1395.1 685.9L1395.5 684.4L1395.9 683.5L1396.4 684.3L1396.8 683.0L1397.2 681.9L1397.6 681.8L1398.0 683.2L1398.5 686.6L1398.9 689.2L1399.3 683.9L1399.7 691.1L1400.1 690.7L1400.6 685.8L1401.0 683.6L1401.4 685.0L1401.8 687.3L1402.2 684.1L1402.7 689.9L1403.1 684.2L1403.5 687.1L1403.9 685.9L1404.3 690.2L1404.8 684.4L1405.2 684.4L1405.6 679.8L1406.0 679.1L1406.4 673.0L1406.9 680.0L1407.3 673.8L1407.7 668.0L1408.1 661.8L1408.5 656.1L1409.1 651.6L1409.8 654.1L1410.2 661.2L1410.6 662.1L1411.1 662.8L1411.5 667.6L1411.9 663.7L1412.3 661.1L1412.7 661.1L1413.2 667.7L1413.6 671.0L1414.0 675.3L1414.4 672.4L1414.8 678.9L1415.3 678.8L1415.7 679.5L1416.1 687.3L1416.5 684.3L1416.9 681.7L1417.4 685.8L1417.8 688.0L1418.2 676.5L1418.6 684.0L1419.0 686.2L1419.5 688.6L1419.9 693.1L1420.3 691.2L1420.7 686.5L1421.1 690.9L1421.6 686.1L1422.0 685.5L1422.4 681.4L1422.8 685.2L1423.2 685.8L1423.7 682.9L1424.1 683.5L1424.5 686.4L1424.9 683.7L1425.3 683.9L1425.8 691.0L1426.2 683.2L1426.6 678.9L1427.0 681.3L1427.4 685.0L1427.9 682.7L1428.3 682.5L1428.7 684.6L1429.1 686.1L1429.5 686.1L1430.0 686.6L1430.4 688.7L1430.8 690.1L1431.2 686.3L1431.6 683.4L1432.1 678.4L1432.5 680.3L1432.9 677.9L1433.3 680.9L1433.7 677.7L1434.2 685.7L1434.6 690.8L1435.0 687.9L1435.4 689.4L1435.8 680.6L1436.3 686.9L1436.7 683.9L1437.1 683.3L1437.5 678.6L1437.9 682.4L1438.4 683.4L1438.8 680.7L1439.2 684.9L1439.6 684.8L1440.0 685.2L1440.5 676.8L1440.9 675.0L1441.3 674.2L1441.7 679.8L1442.1 678.3L1442.6 673.1L1443.0 670.7L1443.4 673.1L1443.8 673.6L1444.2 671.7L1444.7 666.3L1445.1 670.3L1445.5 671.9L1445.9 666.2L1446.3 669.3L1446.8 667.5L1447.2 661.7L1447.6 661.6L1448.0 664.3L1448.4 668.4L1448.9 663.8L1449.3 664.7L1449.7 664.8L1450.1 665.7L1450.5 665.5L1451.0 674.2L1451.4 670.3L1451.8 670.5L1452.2 672.0L1452.6 669.5L1453.1 668.7L1453.5 670.1L1453.9 669.8L1454.3 669.1L1454.7 671.1L1455.2 667.4L1455.6 668.4L1456.0 666.0L1456.4 667.6L1456.8 668.7L1457.3 672.8L1457.7 668.7L1458.1 665.6L1458.5 664.8L1458.9 665.6L1459.4 666.4L1459.8 665.0L1460.2 665.9L1460.6 663.6L1461.0 667.2L1461.5 664.6L1461.9 667.6L1462.3 669.3L1462.7 679.8L1463.1 676.1L1463.6 678.6L1464.0 674.6L1464.4 682.3L1464.8 679.3L1465.2 682.0L1465.7 679.3L1466.1 678.5L1466.5 684.4L1466.9 682.5L1467.3 679.2L1467.8 684.5L1468.2 683.5L1468.6 688.6L1469.0 686.9L1469.4 687.5L1469.9 683.8L1470.3 690.2L1470.7 684.4L1471.1 688.6L1471.5 688.5L1472.0 688.1L1472.4 683.7L1472.8 687.7L1473.2 687.9L1473.6 682.4L1474.1 688.9L1474.5 682.3L1474.9 682.0L1475.3 680.7L1475.7 685.6L1476.2 681.7L1476.6 683.7L1477.0 685.3L1477.4 682.0L1477.8 684.2L1478.3 679.2L1478.7 675.6L1479.1 673.6L1479.5 673.7L1479.9 676.7L1480.4 675.3L1480.8 672.1L1481.2 670.7L1481.6 662.5L1482.0 668.6L1482.5 666.9L1482.9 658.6L1483.3 658.8L1483.7 657.6L1484.1 657.9L1484.6 654.6L1485.2 654.1L1485.8 655.6L1486.2 656.2L1486.7 655.4L1487.1 655.5L1487.5 658.8L1487.9 664.2L1488.3 666.0L1488.8 663.6L1489.2 672.8L1489.6 671.4L1490.0 674.4L1490.4 679.3L1490.9 678.2L1491.3 677.1L1491.7 676.5L1492.1 679.2L1492.5 679.9L1493.0 680.1L1493.4 680.7L1493.8 685.4L1494.2 686.9L1494.6 680.8L1495.1 685.4L1495.5 681.4L1495.9 682.0L1496.3 687.5L1496.7 682.7L1497.2 685.3L1497.6 690.7L1498.0 690.1L1498.4 684.4L1498.8 684.2L1499.3 690.6L1499.7 686.2L1500.1 686.5L1500.5 681.8L1500.9 686.6L1501.4 681.6L1501.8 684.8L1502.2 690.9L1502.6 689.4L1503.0 689.9L1503.5 684.5L1503.9 686.1L1504.3 684.3L1504.7 689.3L1505.1 682.0L1505.6 678.8L1506.0 681.0L1506.4 685.7L1506.8 681.0L1507.2 682.7L1507.7 678.6L1508.1 682.7L1508.5 681.7L1508.9 682.7L1509.3 684.7L1509.8 685.9L1510.2 690.4L1510.6 686.8L1511.0 682.4L1511.4 683.6L1511.9 682.0L1512.3 684.3L1512.7 680.1L1513.1 681.8L1513.5 679.7L1514.0 687.6L1514.4 682.0L1514.8 685.8L1515.2 684.0L1515.6 689.8L1516.1 679.1L1516.5 685.0L1516.9 688.0L1517.3 683.8L1517.7 685.9L1518.2 682.5L1518.6 686.5L1519.0 684.7L1519.4 690.6L1519.8 681.0L1520.3 687.4L1520.7 682.4L1521.1 681.4L1521.5 682.8L1521.9 677.6L1522.4 678.0L1522.8 682.4L1523.2 675.7L1523.6 676.3L1524.0 679.0L1524.5 671.0L1524.9 674.9L1525.3 667.1L1525.7 668.1L1526.1 664.7L1526.6 659.0L1527.0 658.3L1527.4 648.8L1527.8 645.8L1528.4 642.1L1529.1 643.4L1529.5 647.8L1529.9 651.1L1530.3 649.9L1530.8 651.0L1531.2 653.6L1531.6 654.8L1532.0 659.9L1532.4 658.3L1532.9 663.9L1533.3 671.6L1533.7 673.7L1534.1 673.4L1534.5 677.7L1535.0 676.3L1535.4 677.1L1535.8 672.3L1536.2 675.1L1536.6 684.1L1537.1 679.5L1537.5 679.3L1537.9 684.6L1538.3 687.0L1538.7 684.4L1539.2 684.5L1539.6 684.0L1540.0 689.0L1540.4 688.7L1540.8 684.4L1541.3 681.9L1541.7 682.8L1542.1 685.7L1542.5 685.6L1542.9 684.9L1543.4 683.6L1543.8 680.6L1544.2 685.6L1544.6 688.2L1545.0 682.7L1545.5 685.0L1545.9 691.7L1546.3 685.4L1546.7 688.8L1547.1 685.2L1547.6 682.4L1548.0 687.7L1548.4 687.8L1548.8 686.3L1549.2 683.9L1549.7 687.9L1550.1 683.4L1550.5 683.1L1550.9 688.0L1551.3 691.4L1551.8 689.4L1552.2 691.2L1552.6 692.5L1553.0 686.3L1553.4 688.4L1553.9 688.1L1554.3 690.7L1554.7 683.9L1555.1 690.4L1555.5 682.3L1556.0 687.2L1556.4 686.5L1556.8 687.9L1557.2 691.6L1557.6 685.8L1558.1 690.9L1558.5 688.2L1558.9 684.0L1559.3 690.6L1559.7 685.3L1560.2 691.6L1560.6 688.6L1561.0 687.6L1561.4 693.0L1561.8 690.4L1562.3 687.6L1562.7 689.9L1563.1 684.8L1563.5 688.3L1563.9 683.4L1564.4 689.5L1564.8 685.4L1565.2 686.9L1565.6 682.1L1566.0 686.0L1566.5 690.1L1566.9 684.3L1567.3 685.8L1567.7 686.9L1568.1 684.7L1568.6 685.7L1569.0 689.5L1569.4 689.6L1569.8 682.4L1570.2 684.9L1570.7 683.1L1571.1 689.0L1571.5 689.6L1571.9 685.1L1572.3 684.8L1572.8 689.7L1573.2 687.9L1573.6 695.5L1574.0 692.5L1574.4 681.2L1574.9 687.5L1575.3 686.8L1575.7 686.0L1576.1 685.2L1576.5 682.6L1577.0 686.9L1577.4 684.4L1577.8 690.0L1578.2 687.9L1578.6 690.8L1579.1 682.2L1579.5 685.0L1579.9 686.6L1580.3 684.4L1580.7 684.7L1581.2 683.4L1581.6 688.4L1582.0 684.6L1582.4 687.5L1582.8 688.6L1583.3 687.6L1583.7 686.7L1584.1 690.2L1584.5 688.4L1584.9 684.2L1585.4 689.4L1585.8 682.7L1586.2 689.0L1586.6 688.2L1587.0 685.5L1587.5 681.5L1587.9 686.6L1588.3 688.4L1588.7 686.2L1589.1 681.2L1589.6 683.2L1590.0 688.0L1590.4 689.0L1590.8 691.9L1591.2 688.2L1591.7 690.7L1592.1 688.3L1592.5 687.5L1592.9 685.0L1593.3 687.6L1593.8 688.3L1594.2 686.1L1594.6 681.6L1595.0 688.3L1595.4 683.7L1595.9 688.2L1596.3 684.4L1596.7 691.6L1597.1 685.6L1597.5 688.1L1598.0 680.4L1598.4 683.4L1598.8 685.7L1599.2 682.6L1599.6 685.1L1600.1 686.4L1600.5 688.0L1600.9 686.6L1601.3 681.8L1601.7 690.3L1602.2 688.7L1602.6 685.4L1603.0 689.7L1603.4 684.8L1603.8 683.6L1604.3 683.9L1604.7 683.5L1605.1 688.2L1605.5 689.8L1605.9 688.7L1606.4 688.9L1606.8 694.0L1607.2 685.2L1607.6 690.8L1608.0 693.8L1608.5 688.4L1608.9 694.2L1609.3 687.4L1609.7 687.5L1610.1 682.5L1610.6 688.8L1611.0 690.6L1611.4 688.6L1611.8 686.7L1612.2 689.3L1612.7 686.2L1613.1 682.2L1613.5 688.6L1613.9 688.5L1614.3 691.7L1614.8 684.8L1615.2 686.8L1615.6 681.1L1616.0 681.4L1616.4 683.9L1616.9 691.6L1617.3 688.4L1617.7 688.2L1618.1 685.9L1618.5 687.9L1619.0 689.6L1619.4 687.5L1619.8 685.5L1620.2 686.5L1620.6 687.0L1621.1 688.0L1621.5 687.0L1621.9 685.9L1622.3 683.2L1622.7 688.7L1623.2 690.2L1623.6 689.4L1624.0 687.1L1624.4 683.6L1624.8 688.1L1625.3 683.3L1625.7 685.8L1626.1 684.3L1626.5 682.3L1626.9 689.0L1627.4 683.1L1627.8 686.4L1628.2 683.9L1628.6 684.3L1629.0 680.7L1629.5 687.2L1629.9 688.9L1630.3 687.0L1630.7 684.1L1631.1 682.5L1631.6 692.2L1632.0 680.6L1632.4 681.6L1632.8 685.7L1633.2 686.6L1633.7 680.4L1634.1 685.3L1634.5 682.6L1634.9 690.6L1635.3 691.4L1635.8 690.2L1636.2 692.3L1636.6 690.8L1637.0 684.5L1637.4 692.1L1637.9 690.7L1638.3 691.2L1638.7 686.7L1639.1 690.1L1639.5 687.6L1640.0 689.9L1640.4 691.9L1640.8 688.3L1641.2 686.8L1641.6 686.7L1642.1 688.2L1642.5 687.6L1642.9 686.2L1643.3 686.8L1643.7 686.8L1644.2 683.8L1644.6 690.6L1645.0 690.4L1645.4 690.5L1645.8 683.8L1646.3 692.5L1646.7 685.7L1647.1 688.9L1647.5 688.7L1647.9 694.8L1648.4 694.9L1648.8 693.1L1649.2 693.1L1649.6 688.0L1650.0 685.6L1650.5 690.9L1650.9 691.1L1651.3 687.7L1651.7 691.1L1652.1 690.6L1652.6 683.4L1653.0 687.2L1653.4 688.9L1653.8 681.5L1654.2 691.6L1654.7 691.7L1655.1 688.8L1655.5 688.3L1655.9 687.5L1656.3 691.3L1656.8 685.6L1657.2 690.1L1657.6 689.3L1658.0 691.6L1658.4 691.7L1658.9 688.0L1659.3 687.1L1659.7 683.4L1660.1 682.9L1660.5 686.6L1661.0 687.1L1661.4 686.8L1661.8 684.8L1662.2 685.4L1662.6 680.7L1663.1 685.2L1663.5 680.3L1663.9 680.9L1664.3 683.0L1664.7 688.3L1665.2 682.9L1665.6 688.3L1666.0 692.0L1666.4 689.2L1666.8 688.9L1667.3 683.2L1667.7 685.1L1668.1 680.8L1668.5 687.5L1668.9 687.3L1669.4 688.9L1669.8 684.9L1670.2 685.6L1670.6 681.9L1671.0 687.1L1671.5 690.8L1671.9 687.8L1672.3 688.5L1672.7 687.3L1673.1 688.5L1673.6 688.1L1674.0 686.6L1674.4 689.9L1674.8 691.5L1675.2 688.9L1675.7 687.7L1676.1 686.4L1676.5 690.3L1676.9 686.9L1677.3 687.3L1677.8 688.4L1678.2 689.7L1678.6 686.4L1679.0 686.7L1679.4 688.8L1679.9 685.9L1680.3 692.4L1680.7 690.8L1681.1 690.0L1681.5 687.1L1682.0 691.0L1682.4 688.4L1682.8 683.2L1683.2 685.8L1683.6 690.0L1684.1 692.4L1684.5 682.8L1684.9 687.5L1685.3 689.3L1685.7 695.2L1686.2 688.5L1686.6 687.6L1687.0 687.4L1687.4 687.8L1687.8 688.1L1688.3 686.6L1688.7 688.8L1689.1 692.2L1689.5 687.6L1689.9 691.5L1690.4 695.2L1690.8 689.0L1691.2 691.6L1691.6 688.0L1692.0 691.1L1692.5 692.6L1692.9 689.5L1693.3 686.4L1693.7 687.8L1694.1 689.5L1694.6 691.2L1695.0 688.4L1695.4 691.0L1695.8 691.9L1696.2 685.7L1696.7 691.9L1697.1 691.4L1697.5 687.6L1697.9 683.0L1698.3 687.7L1698.8 691.2L1699.2 681.8L1699.6 691.6L1700.0 684.7L1700.4 686.1L1700.9 684.8L1701.3 686.6L1701.7 687.1L1702.1 681.4L1702.5 684.0L1703.0 685.2L1703.4 690.6L1703.8 685.2L1704.2 693.4L1704.6 693.6L1705.1 686.2L1705.5 684.6L1705.9 685.3L1706.3 688.7L1706.7 690.1L1707.2 690.0L1707.6 691.0L1708.0 688.8L1708.4 685.2L1708.8 685.4L1709.3 686.0L1709.7 684.6L1710.1 694.4L1710.5 687.7L1710.9 691.9L1711.4 690.8L1711.8 685.0L1712.2 681.0L1712.6 683.1L1713.0 685.2L1713.5 684.3L1713.9 692.1L1714.3 689.1L1714.7 685.6L1715.1 684.7L1715.6 689.2L1716.0 685.5L1716.4 688.7L1716.8 683.2L1717.2 687.3L1717.7 685.3L1718.1 690.0L1718.5 684.4L1718.9 685.3L1719.3 680.3L1719.8 679.3L1720.2 686.4L1720.6 687.1L1721.0 683.8L1721.4 690.1L1721.9 686.4L1722.3 686.5L1722.7 693.4L1723.1 690.3L1723.5 689.9L1724.0 691.3L1724.4 688.8L1724.8 686.5L1725.2 689.6L1725.6 689.8L1726.1 681.4L1726.5 682.6L1726.9 680.9L1727.3 678.2L1727.7 677.3L1728.2 671.3L1728.8 668.3L1729.4 671.3L1729.8 675.5L1730.3 678.5L1730.7 682.6L1731.1 680.7L1731.5 686.6L1731.9 685.2L1732.4 687.3L1732.8 690.9L1733.2 688.3L1733.6 687.3L1734.0 691.8L1734.5 694.6L1734.9 691.5L1735.3 686.0L1735.7 693.1L1736.1 691.3L1736.6 687.6L1737.0 690.8L1737.4 687.3L1737.8 686.9L1738.2 684.3L1738.7 683.4L1739.1 686.5L1739.5 679.0L1739.9 687.4L1740.3 688.9L1740.8 688.4L1741.2 685.2L1741.6 681.8L1742.0 685.2L1742.4 687.6L1742.9 689.9L1743.3 685.4L1743.7 679.0L1744.1 683.0L1744.5 682.7L1745.0 687.9L1745.4 687.2L1745.8 686.7L1746.2 685.6L1746.6 680.7L1747.1 685.7L1747.5 690.2L1747.9 683.3L1748.3 681.5L1748.7 679.7L1749.2 683.5L1749.6 686.4L1750.0 680.6L1750.4 686.1L1750.8 681.5L1751.3 691.0L1751.7 684.1L1752.1 686.0L1752.5 680.4L1752.9 688.3L1753.4 686.3L1753.8 685.3L1754.2 690.4L1754.6 686.2L1755.0 684.4L1755.5 688.6L1755.9 684.6L1756.3 688.5L1756.7 684.9L1757.1 683.4L1757.6 690.2L1758.0 686.2L1758.4 688.4L1758.8 688.7L1759.2 686.8L1759.7 688.7L1760.1 685.7L1760.5 686.1L1760.9 689.5L1761.3 681.8L1761.8 686.2L1762.2 684.5L1762.6 688.5L1763.0 685.3L1763.4 691.3L1763.9 690.3L1764.3 687.8L1764.7 691.8L1765.1 683.4L1765.5 682.9L1766.0 688.0L1766.4 692.7L1766.8 688.1L1767.2 689.2L1767.6 687.7L1768.1 691.3L1768.5 684.8L1768.9 682.2L1769.3 683.8L1769.7 685.1L1770.2 685.4L1770.6 681.7L1771.0 688.4L1771.4 683.2L1771.8 689.8L1772.3 686.9L1772.7 687.4L1773.1 687.0L1773.5 693.5L1773.9 695.0L1774.4 684.3L1774.8 688.9L1775.2 690.8L1775.6 686.3L1776.0 687.4L1776.5 687.6L1776.9 690.5L1777.3 686.6L1777.7 691.1L1778.1 687.2L1778.6 687.4L1779.0 685.5L1779.4 688.0L1779.8 689.6L1780.2 694.3L1780.7 690.8L1781.1 690.3L1781.5 690.7L1781.9 686.3L1782.3 689.0L1782.8 682.5L1783.2 685.2L1783.6 690.4L1784.0 685.4L1784.4 683.9L1784.9 693.4L1785.3 686.2L1785.7 687.7L1786.1 682.5L1786.5 684.3L1787.0 687.6L1787.4 691.5L1787.8 688.2L1788.2 685.6L1788.6 685.2L1789.1 689.0L1789.5 685.0L1789.9 686.8L1790.3 679.8L1790.7 682.5L1791.2 675.0L1791.6 675.9L1792.0 668.7L1792.4 663.5L1792.8 660.9L1793.3 649.9L1793.7 639.4L1794.5 629.6L1795.4 627.6L1795.8 631.8L1796.2 631.7L1796.6 636.1L1797.0 636.6L1797.5 633.5L1797.9 632.7L1798.3 631.1L1798.7 631.6L1799.5 630.8L1800.0 636.3L1800.4 642.9L1800.8 651.8L1801.2 658.3L1801.7 665.1L1802.1 675.5L1802.5 677.1L1802.9 684.3L1803.3 686.4L1803.8 683.0L1804.2 683.3L1804.6 688.2L1805.0 687.8L1805.4 688.5L1805.9 685.2L1806.3 689.8L1806.7 686.1L1807.1 692.3L1807.5 685.8L1808.0 686.6L1808.4 686.2L1808.8 685.7L1809.2 689.9L1809.6 684.8L1810.1 685.4L1810.5 687.4L1810.9 687.0L1811.3 686.0L1811.7 689.4L1812.2 688.9L1812.6 686.6L1813.0 684.6L1813.4 685.4L1813.8 687.8L1814.3 690.6L1814.7 684.5L1815.1 686.8L1815.5 682.7L1815.9 688.0L1816.4 692.3L1816.8 683.8L1817.2 684.8L1817.6 692.3L1818.0 686.8L1818.5 684.6L1818.9 686.8L1819.3 688.8L1819.7 688.2L1820.1 688.7L1820.6 691.0L1821.0 686.0L1821.4 692.9L1821.8 687.3L1822.2 692.6L1822.7 696.0L1823.1 692.9L1823.5 689.5L1823.9 686.3L1824.3 685.5L1824.8 691.9L1825.2 684.2L1825.6 688.2L1826.0 687.5L1826.4 691.9L1826.9 687.0L1827.3 691.3L1827.7 687.3L1828.1 693.7L1828.5 685.5L1829.0 684.5L1829.4 683.8L1829.8 690.6L1830.2 685.6L1830.6 689.1L1831.1 686.1L1831.5 684.5L1831.9 691.9L1832.3 691.0L1832.7 686.2L1833.2 689.5L1833.6 680.3L1834.0 686.2L1834.4 683.3L1834.8 685.8L1835.3 683.8L1835.7 685.0L1836.1 686.1L1836.5 685.7L1836.9 684.1L1837.4 683.3L1837.8 686.3L1838.2 685.9L1838.6 682.5L1839.0 683.1L1839.5 683.6L1839.9 689.4L1840.3 678.3L1840.7 681.1L1841.1 677.6L1841.6 681.5L1842.0 677.8L1842.4 680.8L1842.8 680.3L1843.2 685.1L1843.7 686.0L1844.1 683.9L1844.5 683.9L1844.9 682.0L1845.3 675.8L1845.8 678.0L1846.2 679.9L1846.6 675.6L1847.0 670.9L1847.4 668.7L1847.9 672.1L1848.3 678.7L1848.7 670.8L1849.1 675.8L1849.5 669.9L1850.0 674.3L1850.4 674.7L1850.8 673.4L1851.2 676.6L1851.6 678.4L1852.1 684.4L1852.5 681.7L1852.9 687.0L1853.3 684.4L1853.7 691.2L1854.2 684.1L1854.6 689.5L1855.0 688.5L1855.4 691.2L1855.8 690.7L1856.3 684.2L1856.7 693.3L1857.1 686.3L1857.5 686.9L1857.9 679.7L1858.4 691.2L1858.8 688.7L1859.2 689.0L1859.6 687.0L1860.0 691.9L1860.5 684.0L1860.9 689.0L1861.3 686.3L1861.7 688.8L1862.1 693.2L1862.6 685.9L1863.0 688.5L1863.4 683.8L1863.8 688.2L1864.2 685.9L1864.7 688.6L1865.1 690.8L1865.5 680.7L1865.9 680.9L1866.3 685.4L1866.8 687.7L1867.2 684.5L1867.6 688.3L1868.0 686.1L1868.4 682.3L1868.9 686.9L1869.3 684.4L1869.7 683.3L1870.1 687.2L1870.5 687.1L1871.0 688.4L1871.4 683.0L1871.8 683.4L1872.2 689.6L1872.6 688.4L1873.1 689.7L1873.5 688.9L1873.9 684.6L1874.3 685.6L1874.7 689.7L1875.2 688.8L1875.6 687.7L1876.0 690.9L1876.4 692.5L1876.8 687.4L1877.3 688.8L1877.7 688.7L1878.1 686.1L1878.5 687.0L1878.9 684.8L1879.4 691.5L1879.8 689.9L1880.2 688.4L1880.6 685.5L1881.0 692.0L1881.5 686.0L1881.9 691.3L1882.3 690.7L1882.7 687.0L1883.1 685.7L1883.6 686.3L1884.0 690.7L1884.4 688.4L1884.8 690.2L1885.2 684.1L1885.7 682.9L1886.1 692.6L1886.5 684.7L1886.9 690.4L1887.3 691.2L1887.8 687.4L1888.2 687.9L1888.6 688.5L1889.0 692.4L1889.4 686.1L1889.9 686.9L1890.3 690.9L1890.7 683.4L1891.1 682.1L1891.5 686.2L1892.0 685.6L1892.4 689.6L1892.8 690.5L1893.2 687.7L1893.6 688.7L1894.1 685.4L1894.5 691.1L1894.9 690.9L1895.3 688.6L1895.7 691.8L1896.2 683.7L1896.6 685.3L1897.0 681.3L1897.4 679.0L1897.8 685.3L1898.3 679.7L1898.7 677.8L1899.1 676.6L1899.5 679.9L1899.9 675.5L1900.4 674.2L1900.8 671.1L1901.2 674.0L1901.6 673.8L1902.0 669.8L1902.5 669.3L1902.9 675.0L1903.3 669.7L1903.7 665.7L1904.1 667.9L1904.6 662.6L1905.0 665.5L1905.4 666.2L1905.8 658.9L1906.2 659.5L1906.7 653.1L1907.1 651.0L1907.5 650.9L1907.9 648.3L1908.3 647.4L1908.8 646.7L1909.6 648.8L1910.0 650.5L1910.4 653.0L1910.9 656.6L1911.3 655.4L1911.7 659.5L1912.1 663.3L1912.5 661.4L1913.0 668.5L1913.4 668.1L1913.8 667.6L1914.2 671.0L1914.6 677.4L1915.1 672.8L1915.5 671.1L1915.9 676.0L1916.3 679.2L1916.7 673.3L1917.2 679.7L1917.6 684.3L1918.0 685.2L1918.4 684.2L1918.8 684.6L1919.3 680.4L1919.7 685.9L1920.1 681.3L1920.5 681.5L1920.9 686.4L1921.4 683.8L1921.8 683.1L1922.2 688.7L1922.6 686.4L1923.0 679.5L1923.5 682.5L1923.9 683.6L1924.3 688.2L1924.7 683.5L1925.1 686.3L1925.6 687.9L1926.0 690.7L1926.4 689.7L1926.8 689.0L1927.2 687.7L1927.7 685.6L1928.1 691.7L1928.5 689.6L1928.9 687.5L1929.3 686.2L1929.8 689.2L1930.2 691.4L1930.6 688.7L1931.0 682.8L1931.4 685.1L1931.9 684.2L1932.3 685.5L1932.7 687.5L1933.1 684.2L1933.5 683.7L1934.0 683.6L1934.4 683.3L1934.8 684.5L1935.2 679.6L1935.6 683.4L1936.1 679.2L1936.5 687.7L1936.9 681.5L1937.3 687.6L1937.7 682.4L1938.2 691.5L1938.6 688.4L1939.0 687.2L1939.4 686.9L1939.8 687.8L1940.3 687.2L1940.7 691.3L1941.1 690.8L1941.5 690.7L1941.9 686.6L1942.4 687.4L1942.8 682.8L1943.2 680.8L1943.6 685.9L1944.0 684.4L1944.5 687.5L1944.9 685.9L1945.3 685.3L1945.7 686.7L1946.1 681.5L1946.6 687.9L1947.0 691.5L1947.4 690.7L1947.8 690.9L1948.2 684.2L1948.7 691.2L1949.1 689.5L1949.5 688.3L1949.9 687.3L1950.3 687.0L1950.8 686.3L1951.2 683.3L1951.6 685.5L1952.0 686.9L1952.4 681.0L1952.9 685.7L1953.3 682.6L1953.7 685.0L1954.1 683.8L1954.5 684.5L1955.0 681.6L1955.4 690.2L1955.8 685.2L1956.2 683.8L1956.6 689.1L1957.1 684.9L1957.5 681.9L1957.9 687.5L1958.3 689.6L1958.7 690.2L1959.2 687.3L1959.6 684.7L1960.0 691.1L1960.4 684.9L1960.8 682.3L1961.3 694.7L1961.7 694.6L1962.1 692.4L1962.5 693.5L1962.9 691.1L1963.4 689.0L1963.8 689.2L1964.2 687.2L1964.6 691.7L1965.0 687.2L1965.5 686.3L1965.9 684.3L1966.3 688.3L1966.7 691.2L1967.1 689.8L1967.6 685.0L1968.0 683.3L1968.4 684.8L1968.8 686.1L1969.2 685.7L1969.7 683.3L1970.1 690.8L1970.5 688.0L1970.9 690.2L1971.3 688.9L1971.8 685.5L1972.2 693.4L1972.6 688.8L1973.0 688.8L1973.4 687.5L1973.9 686.7L1974.3 690.5L1974.7 688.2L1975.1 691.0L1975.5 691.0L1976.0 692.4L1976.4 681.9L1976.8 690.7L1977.2 692.8L1977.6 687.2L1978.1 689.6L1978.5 692.7L1978.9 686.0L1979.3 692.3L1979.7 684.0L1980.2 689.0L1980.6 686.7L1981.0 684.4L1981.4 685.0L1981.8 688.1L1982.3 688.7L1982.7 688.4L1983.1 686.4L1983.5 689.8L1983.9 688.5L1984.4 688.1L1984.8 689.4L1985.2 688.0L1985.6 690.1L1986.0 689.4L1986.5 690.4L1986.9 688.1L1987.3 686.5L1987.7 687.0L1988.1 687.6L1988.6 684.6L1989.0 692.0L1989.4 686.8L1989.8 687.6L1990.2 682.4L1990.7 685.3L1991.1 690.0L1991.5 692.7L1991.9 684.9L1992.3 692.2L1992.8 689.3L1993.2 693.3L1993.6 683.8L1994.0 687.6L1994.4 690.7L1994.9 692.5L1995.3 688.1L1995.7 691.6L1996.1 689.7L1996.5 689.9L1997.0 687.1L1997.4 686.6L1997.8 686.1L1998.2 685.1L1998.6 684.7L1999.5 685.5L2000.3 678.5L2000.7 678.0L2001.2 679.0L2001.6 678.9L2002.0 675.4L2002.4 682.3L2002.8 671.8L2003.5 673.4L2004.1 674.5L2004.5 667.0L2004.9 670.4L2005.4 670.8L2005.8 668.6L2006.2 673.3L2006.6 674.0L2007.0 676.6L2007.5 674.6L2007.9 669.1L2008.3 674.5L2008.7 666.6L2009.1 670.5L2009.6 665.5L2010.0 672.3L2010.4 670.0L2010.8 675.1L2011.2 672.6L2011.7 668.2L2012.1 669.0L2012.5 670.1L2012.9 666.1L2013.3 665.1L2013.8 667.6L2014.2 663.2L2014.6 662.7L2015.0 667.3L2015.5 668.4L2016.5 661.0L2017.1 660.1L2017.5 646.7L2018.1 641.0L2018.8 631.1L2019.2 624.3L2019.6 616.8L2020.3 606.9L2021.0 547.7L2021.9 418.8L2022.6 348.0L2023.0 301.6L2023.5 248.0L2024.3 329.5L2025.1 415.5L2026.0 544.5L2026.7 600.6L2027.2 545.1L2027.9 468.4L2028.9 485.4L2029.8 515.3L2030.6 575.8L2031.1 610.7L2031.8 640.1L2032.4 669.2L2033.1 676.0L2033.7 682.2L2034.3 687.2L2034.8 678.4L2035.2 684.9L2035.6 682.8L2036.0 684.7L2036.4 685.8L2036.9 686.5L2037.5 689.2L2038.1 686.8L2038.5 686.2L2039.0 689.7L2039.4 688.7L2039.8 688.2L2040.2 686.1L2040.6 688.7L2041.1 685.5L2041.5 691.9L2041.9 692.2L2042.3 688.0L2042.7 684.6L2043.2 690.8L2043.6 684.0L2044.0 688.6L2044.4 686.3L2044.8 690.4L2045.3 684.4L2045.7 684.3L2046.1 687.9L2046.5 686.4L2046.9 692.1L2047.4 687.5L2047.8 688.3L2048.2 693.5L2048.6 687.9L2049.0 689.0L2049.5 688.4L2049.9 688.8L2050.3 696.0L2050.7 694.3L2051.1 690.1L2051.6 690.3L2052.0 690.3L2052.4 691.7L2052.8 690.2L2053.2 690.1L2053.7 686.0L2054.1 694.1L2054.5 686.5L2054.9 688.9L2055.3 688.6L2055.8 692.7L2056.2 689.2L2056.6 689.7L2057.0 687.2L2057.4 687.7L2057.9 690.9L2058.3 691.3L2058.7 691.0L2059.1 691.2L2059.5 691.3L2060.0 682.6L2060.4 688.9L2060.8 690.1L2061.2 691.6L2061.6 687.1L2062.1 685.3L2062.5 684.7L2062.9 685.2L2063.3 681.5L2063.7 685.0L2064.2 689.0L2064.6 683.8L2065.0 684.6L2065.4 685.9L2065.8 686.1L2066.3 692.4L2066.7 684.6L2067.1 687.8L2067.5 684.7L2067.9 683.4L2068.4 686.9L2068.8 685.8L2069.2 681.9L2069.6 683.8L2070.0 689.1L2070.5 687.7L2070.9 682.3L2071.3 689.9L2071.7 689.1L2072.1 689.5L2072.6 694.8L2073.0 681.7L2073.4 685.8L2073.8 687.9L2074.2 680.5L2074.7 688.2L2075.1 686.0L2075.5 683.8L2075.9 691.9L2076.3 690.2L2076.8 686.2L2077.2 690.6L2077.6 686.8L2078.0 695.2L2078.4 685.8L2078.9 690.8L2079.3 689.1L2079.7 693.5L2080.1 688.8L2080.5 688.4L2081.0 691.3L2081.4 689.0L2081.8 690.6L2082.2 692.4L2082.6 692.6L2083.1 682.5L2083.5 689.3L2083.9 692.2L2084.3 690.8L2084.7 691.2L2085.2 685.5L2085.6 688.1L2086.0 682.9L2086.4 684.7L2086.8 684.3L2087.3 688.9L2087.7 686.8L2088.1 691.0L2088.5 688.2L2088.9 686.9L2089.4 682.7L2089.8 690.2L2090.2 689.6L2090.6 689.8L2091.0 693.2L2091.5 683.9L2091.9 688.7L2092.3 688.6L2092.7 689.0L2093.1 688.0L2093.6 689.7L2094.0 683.5L2094.4 687.2L2094.8 684.6L2095.2 687.0L2095.7 682.8L2096.1 688.5L2096.5 689.2L2096.9 694.1L2097.3 685.6L2097.8 688.5L2098.2 690.3L2098.6 688.7L2099.0 683.6L2099.4 685.6L2099.9 689.0L2100.3 693.2L2100.7 691.8L2101.1 689.3L2101.5 693.6L2102.0 693.6L2102.4 692.3L2102.8 691.0L2103.2 693.2L2103.6 691.8L2104.1 695.7L2104.5 686.1L2104.9 688.7L2105.3 688.9L2105.7 689.1L2106.2 686.8L2106.6 684.2L2107.0 687.1L2107.4 690.5L2107.8 684.6L2108.3 689.5L2108.7 691.7L2109.1 689.8L2109.5 687.9L2109.9 688.9L2110.4 694.0L2110.8 691.8L2111.2 691.2L2111.6 691.1L2112.0 692.7L2112.5 694.7L2112.9 693.7L2113.3 691.3L2113.7 691.7L2114.1 695.2L2114.6 694.2L2115.0 689.7L2115.4 685.7L2115.8 682.2L2116.2 684.6L2116.7 687.6L2117.1 688.1L2117.5 685.4L2117.9 684.7L2118.3 691.0L2118.8 687.7L2119.2 686.3L2119.6 686.5L2120.0 691.1L2120.4 686.8L2120.9 690.6L2121.3 693.7L2121.7 693.9L2122.1 691.2L2122.5 690.8L2123.0 686.1L2123.4 692.0L2123.8 690.2L2124.2 687.8L2124.6 687.2L2125.1 686.4L2125.5 688.2L2125.9 686.8L2126.3 693.8L2126.7 684.3L2127.2 690.3L2127.6 687.7L2128.0 685.5L2128.4 690.3L2128.8 693.2L2129.3 688.3L2129.7 694.8L2130.1 688.4L2130.5 690.8L2130.9 685.2L2131.4 685.7L2131.8 689.5L2132.2 689.6L2132.6 692.5L2133.0 695.8L2133.5 693.1L2133.9 695.7L2134.3 690.1L2134.7 686.6L2135.1 691.4L2135.6 691.5L2136.0 684.6L2136.4 686.4L2136.8 689.1L2137.2 687.3L2137.7 684.3L2138.1 688.7L2138.5 682.4L2138.9 694.4L2139.3 691.7L2139.8 685.7L2140.2 691.4L2140.6 693.4L2141.0 692.7L2141.4 688.9L2141.9 685.1L2142.3 686.8L2142.7 694.9L2143.1 689.5L2143.5 686.7L2144.0 686.2L2144.4 682.9L2144.8 686.6L2145.2 688.4L2145.6 684.6L2146.1 690.0L2146.5 683.7L2146.9 691.5L2147.3 689.5L2147.7 691.8L2148.2 689.4L2148.6 684.4L2149.0 685.1L2149.4 687.8L2149.8 684.5L2150.3 690.9L2150.7 683.7L2151.1 690.7L2151.5 686.8L2151.9 688.6L2152.4 690.7L2152.8 684.0L2153.2 687.3L2153.6 688.1L2154.0 687.0L2154.5 684.6L2154.9 687.4L2155.3 688.7L2155.7 689.1L2156.1 692.9L2156.6 694.9L2157.0 689.4L2157.4 682.3L2157.8 683.7L2158.2 690.1L2158.7 692.1L2159.1 687.2L2159.5 686.8L2159.9 681.9L2160.3 689.8L2160.8 685.5L2161.2 685.3L2161.6 690.3L2162.0 689.7L2162.4 690.6L2162.9 683.0L2163.3 687.5L2163.7 686.3L2164.1 691.1L2164.5 691.0L2165.0 688.0L2165.4 687.7L2165.8 691.2L2166.2 689.2L2166.6 692.4L2167.1 685.7L2167.5 691.8L2167.9 686.2L2168.3 689.1L2168.7 690.4L2169.2 697.1L2169.6 691.8L2170.0 686.7L2170.4 687.9L2170.8 692.5L2171.3 694.0L2171.7 690.4L2172.1 692.3L2172.5 691.4L2172.9 686.7L2173.4 689.2L2173.8 690.4L2174.2 685.7L2174.6 686.7L2175.0 688.8L2175.5 686.6L2175.9 688.1L2176.3 687.6L2176.7 686.3L2177.1 690.4L2177.6 687.4L2178.0 690.0L2178.4 694.0L2178.8 686.1L2179.2 683.0L2179.7 690.6L2180.1 685.9L2180.5 684.6L2180.9 690.2L2181.3 686.9L2181.8 681.8L2182.2 691.3L2182.6 687.8L2183.0 685.8L2183.4 687.8L2183.9 686.7L2184.3 683.3L2184.7 685.9L2185.1 679.1L2185.5 684.2L2186.0 683.6L2186.4 686.9L2186.8 687.0L2187.2 684.0L2187.6 686.8L2188.1 693.5L2188.5 688.8L2188.9 687.7L2189.3 691.0L2189.7 692.1L2190.2 686.9L2190.6 687.3L2191.0 686.2L2191.4 688.2L2191.8 683.2L2192.3 691.9L2192.7 684.9L2193.1 690.1L2193.5 684.2L2193.9 689.8L2194.4 684.7L2194.8 690.2L2195.2 684.0L2195.6 689.1L2196.0 690.4L2196.5 684.1L2196.9 682.9L2197.3 682.9L2197.7 685.3L2198.1 687.0L2198.6 685.5L2199.0 688.6L2199.4 687.9L2199.8 687.0L2200.2 681.7L2200.7 685.4L2201.1 686.3L2201.5 688.3L2201.9 685.7L2202.3 691.6L2202.8 690.9L2203.2 688.5L2203.6 688.2L2204.0 688.6L2204.4 684.9L2204.9 686.7L2205.3 690.5L2205.7 687.1L2206.1 686.6L2206.5 686.3L2207.0 687.3L2207.4 689.4L2207.8 689.9L2208.2 685.4L2208.6 689.6L2209.1 688.1L2209.5 690.5L2209.9 691.0L2210.3 685.7L2210.7 685.5L2211.2 682.2L2211.6 690.1L2212.0 690.7L2212.4 688.9L2212.8 683.5L2213.3 684.8L2213.7 683.3L2214.1 684.2L2214.5 687.3L2214.9 683.5L2215.4 685.5L2215.8 683.7L2216.2 692.1L2216.6 696.3L2217.0 684.7L2217.5 689.6L2217.9 687.4L2218.3 686.5L2218.7 688.9L2219.1 681.8L2219.6 687.6L2220.0 686.7L2220.4 687.9L2220.8 684.9L2221.2 690.6L2221.7 691.3L2222.1 688.4L2222.5 683.2L2222.9 691.4L2223.3 688.7L2223.8 688.5L2224.2 690.4L2224.6 686.7L2225.0 690.4L2225.4 688.8L2225.9 687.4L2226.3 686.7L2226.7 687.9L2227.1 691.8L2227.5 686.8L2228.0 683.7L2228.4 688.8L2228.8 685.5L2229.2 687.1L2229.6 686.2L2230.1 689.8L2230.5 688.3L2230.9 683.6L2231.3 684.0L2231.7 684.0L2232.2 686.0L2232.6 686.0L2233.0 689.4L2233.4 683.2L2233.8 690.3L2234.3 684.1L2234.7 688.8L2235.1 694.3L2235.5 689.4L2235.9 693.0L2236.4 689.9L2236.8 687.8L2237.2 691.2L2237.6 683.1L2238.0 690.0L2238.5 686.6L2238.9 688.2L2239.3 689.4L2239.7 689.7L2240.1 689.4L2240.6 693.2L2241.0 685.4L2241.4 689.8L2241.8 691.0L2242.2 687.6L2242.7 690.5L2243.1 692.4L2243.5 694.5L2243.9 689.8L2244.3 688.3L2244.8 687.9L2245.2 685.6L2245.6 684.0L2246.0 693.9L2246.4 692.1L2246.9 690.2L2247.3 685.9L2247.7 689.6L2248.1 691.5L2248.5 688.6L2249.0 690.9L2249.4 685.7L2249.8 689.4L2250.2 692.0L2250.6 689.7L2251.1 690.8L2251.5 690.2L2251.9 685.4L2252.3 683.1L2252.7 684.2L2253.2 685.9L2253.6 685.5L2254.0 687.8L2254.4 681.3L2254.8 686.7L2255.3 681.2L2255.7 685.8L2256.1 685.4L2256.5 687.9L2256.9 685.2L2257.4 686.6L2257.8 686.7L2258.2 682.1L2258.6 686.8L2259.0 682.6L2259.5 682.1L2259.9 685.3L2260.3 682.9L2260.7 680.4L2261.1 683.8L2261.6 683.4L2262.0 680.8L2262.4 685.1L2262.8 677.5L2263.2 682.6L2263.7 682.0L2264.1 679.5L2264.5 680.0L2264.9 684.8L2265.3 677.3L2265.8 676.9L2266.2 682.9L2266.6 677.9L2267.0 683.0L2267.4 683.3L2267.9 677.2L2268.3 682.6L2268.7 675.4L2269.1 678.3L2269.5 679.0L2270.0 675.3L2270.4 684.1L2270.8 676.2L2271.2 678.2L2271.6 683.6L2272.1 677.4L2272.5 682.5L2272.9 681.1L2273.3 680.0L2273.7 678.8L2274.2 681.8L2274.6 684.9L2275.0 687.0L2275.4 683.7L2275.8 688.5L2276.3 685.5L2276.7 687.3L2277.1 683.2L2277.5 681.7L2277.9 691.8L2278.4 683.8L2278.8 690.1L2279.2 688.6L2279.6 685.9L2280.0 684.3L2280.5 684.6L2280.9 688.8L2281.3 684.5L2281.7 688.9L2282.1 684.5L2282.6 682.4L2283.0 683.1L2283.4 682.9L2283.8 688.7L2284.2 690.6L2284.7 691.9L2285.1 687.7L2285.5 686.5L2285.9 685.7L2286.3 690.2L2286.8 685.9L2287.2 685.8L2287.6 689.0L2288.0 690.2L2288.4 690.1L2288.9 691.9L2289.3 688.0L2289.7 693.6L2290.1 685.2L2290.5 683.5L2291.0 689.9L2291.4 682.6L2291.8 685.3L2292.2 683.3L2292.6 689.2L2293.1 686.0L2293.5 689.8L2293.9 685.9L2294.3 681.9L2294.7 691.2L2295.2 691.3L2295.6 686.8L2296.0 685.7L2296.4 683.7L2296.8 681.9L2297.3 685.7L2297.7 683.4L2298.1 686.9L2298.5 687.1L2298.9 691.1L2299.4 694.6L2299.8 691.1L2300.2 687.8L2300.6 686.9L2301.0 691.9L2301.5 681.8L2301.9 682.2L2302.3 682.6L2302.7 692.5L2303.1 683.2L2303.6 689.1L2304.0 693.2L2304.4 689.1L2304.8 684.0L2305.2 688.7L2305.7 686.3L2306.1 688.7L2306.5 687.4L2306.9 688.1L2307.3 690.6L2307.8 686.1L2308.2 682.5L2308.6 685.3L2309.0 686.2L2309.4 687.7L2309.9 688.6L2310.3 679.8L2310.7 685.1L2311.1 682.8L2311.5 687.5L2312.0 691.2L2312.4 684.0L2312.8 685.1L2313.2 684.8L2313.6 687.0L2314.1 689.5L2314.5 688.7L2314.9 687.0L2315.3 693.1L2315.7 683.4L2316.2 690.3L2316.6 682.8L2317.0 689.2L2317.4 684.6L2317.8 682.0L2318.3 685.3L2318.7 683.2L2319.1 686.8L2319.5 682.1L2319.9 688.0L2320.4 686.2L2320.8 685.2L2321.2 688.3L2321.6 692.1L2322.0 694.4L2322.5 689.7L2322.9 687.7L2323.3 681.8L2323.7 686.0L2324.1 689.0L2324.6 686.5L2325.0 682.8L2325.4 685.3L2325.8 690.5L2326.2 691.3L2326.7 681.8L2327.1 686.9L2327.5 682.9L2327.9 685.4L2328.3 680.8L2328.8 682.8L2329.2 685.0L2329.6 682.2L2330.0 679.0L2330.4 678.8L2330.9 685.1L2331.3 680.5L2331.7 680.6L2332.1 682.5L2332.5 680.7L2333.0 681.7L2333.4 672.6L2333.8 677.8L2334.2 673.1L2334.6 672.2L2335.1 675.1L2335.5 671.3L2335.9 667.9L2336.3 668.7L2336.7 667.4L2337.2 665.6L2337.6 662.0L2338.0 663.9L2338.4 664.1L2338.8 655.8L2339.3 658.1L2339.7 650.4L2340.1 646.6L2340.5 639.2L2340.9 641.9L2341.4 634.7L2341.8 626.5"/>
<path class="curve" stroke="#ff0000" stroke-width="3.9" d="M296.8 1139.9L297.2 1137.7L297.6 1137.8L298.1 1138.6L298.5 1138.0L298.9 1138.8L299.3 1138.3L299.7 1136.3L300.2 1139.1L300.6 1138.4L301.0 1137.0L301.4 1137.4L301.8 1138.0L302.3 1137.3L302.7 1137.4L303.1 1136.3L303.5 1138.3L303.9 1138.1L304.4 1138.9L304.8 1137.2L305.2 1140.0L305.6 1138.4L306.0 1138.3L306.5 1140.8L306.9 1138.8L307.3 1137.5L307.7 1138.8L308.1 1137.4L308.6 1140.0L309.0 1138.4L309.4 1138.4L309.8 1140.3L310.2 1137.8L310.7 1140.3L311.1 1137.9L311.5 1139.0L311.9 1137.9L312.3 1140.3L312.8 1140.8L313.2 1138.9L313.6 1139.7L314.0 1138.1L314.4 1139.0L314.9 1138.0L315.3 1136.5L315.7 1136.1L316.1 1139.2L316.5 1141.4L317.0 1139.9L317.4 1139.3L317.8 1141.5L318.2 1139.6L318.6 1139.2L319.1 1138.7L319.5 1137.6L319.9 1137.7L320.3 1137.6L320.7 1140.1L321.2 1139.3L321.6 1140.6L322.0 1139.6L322.4 1138.3L322.8 1140.0L323.3 1141.6L323.7 1139.3L324.1 1138.9L324.5 1139.3L324.9 1140.1L325.4 1140.6L325.8 1139.1L326.2 1141.4L326.6 1139.5L327.0 1139.8L327.5 1141.4L327.9 1141.3L328.3 1139.6L328.7 1140.6L329.1 1140.9L329.6 1140.1L330.0 1139.2L330.4 1141.2L330.8 1141.1L331.2 1140.9L331.7 1139.4L332.1 1139.5L332.5 1139.1L332.9 1139.7L333.3 1142.0L333.8 1142.8L334.2 1141.3L334.6 1140.7L335.0 1141.4L335.4 1141.1L335.9 1140.5L336.3 1139.7L336.7 1140.4L337.1 1142.0L337.5 1140.8L338.0 1140.0L338.4 1140.2L338.8 1139.9L339.2 1140.7L339.6 1140.1L340.1 1138.2L340.5 1140.5L340.9 1140.0L341.3 1142.1L341.7 1140.5L342.2 1141.6L342.6 1139.7L343.0 1140.2L343.4 1141.0L343.8 1141.6L344.3 1140.8L344.7 1139.3L345.1 1141.0L345.5 1141.2L345.9 1141.2L346.4 1140.4L346.8 1141.7L347.2 1139.7L347.6 1139.7L348.0 1141.2L348.5 1140.6L348.9 1140.0L349.3 1140.3L349.7 1140.2L350.1 1140.8L350.6 1141.5L351.0 1141.1L351.4 1140.1L351.8 1139.6L352.2 1139.4L352.7 1140.7L353.1 1139.5L353.5 1138.9L353.9 1141.1L354.3 1139.5L354.8 1138.9L355.2 1141.0L355.6 1139.9L356.0 1141.8L356.4 1140.8L356.9 1140.0L357.3 1139.9L357.7 1140.1L358.1 1140.0L358.5 1139.4L359.0 1140.1L359.4 1139.1L359.8 1140.8L360.2 1139.1L360.6 1140.9L361.1 1141.9L361.5 1142.3L361.9 1142.9L362.3 1139.5L362.7 1141.1L363.2 1141.5L363.6 1141.6L364.0 1140.0L364.4 1141.7L364.8 1143.4L365.3 1140.3L365.7 1142.4L366.1 1142.9L366.5 1140.9L366.9 1142.4L367.4 1141.1L367.8 1141.3L368.2 1141.0L368.6 1141.4L369.0 1141.2L369.5 1142.7L369.9 1140.7L370.3 1141.4L370.7 1142.4L371.1 1141.7L371.6 1140.1L372.0 1142.4L372.4 1141.6L372.8 1142.9L373.2 1142.9L373.7 1143.6L374.1 1142.3L374.5 1140.4L374.9 1141.1L375.3 1143.3L375.8 1142.3L376.2 1143.5L376.6 1142.9L377.0 1142.1L377.4 1143.3L377.9 1141.2L378.3 1140.6L378.7 1144.8L379.1 1140.8L379.5 1142.9L380.0 1142.7L380.4 1142.2L380.8 1141.0L381.2 1143.9L381.6 1141.5L382.1 1141.4L382.5 1141.9L382.9 1142.5L383.3 1141.8L383.7 1142.2L384.2 1141.4L384.6 1142.0L385.0 1140.8L385.4 1141.9L385.8 1143.3L386.3 1142.4L386.7 1143.0L387.1 1142.0L387.5 1141.6L387.9 1142.0L388.4 1142.3L388.8 1143.1L389.2 1142.3L389.6 1143.8L390.0 1142.2L390.5 1142.2L390.9 1140.9L391.3 1141.6L391.7 1142.7L392.1 1141.8L392.6 1142.5L393.0 1143.2L393.4 1142.4L393.8 1142.2L394.2 1143.7L394.7 1143.1L395.1 1143.7L395.5 1144.2L395.9 1144.2L396.3 1143.2L396.8 1142.4L397.2 1142.5L397.6 1142.5L398.0 1141.7L398.4 1145.0L398.9 1143.8L399.3 1144.7L399.7 1142.7L400.1 1145.3L400.5 1143.6L401.0 1143.7L401.4 1142.1L401.8 1143.1L402.2 1143.1L402.6 1143.4L403.1 1143.9L403.5 1143.0L403.9 1143.3L404.3 1142.0L404.7 1141.9L405.2 1143.2L405.6 1144.0L406.0 1144.5L406.4 1143.9L406.8 1141.4L407.3 1143.6L407.7 1144.3L408.1 1142.7L408.5 1142.8L408.9 1144.3L409.4 1143.2L409.8 1143.6L410.2 1142.8L410.6 1144.6L411.0 1144.3L411.5 1142.6L411.9 1142.7L412.3 1142.8L412.7 1142.7L413.1 1143.5L413.6 1141.2L414.0 1143.7L414.4 1142.7L414.8 1141.6L415.2 1141.7L415.7 1142.7L416.1 1143.7L416.5 1143.2L416.9 1144.1L417.3 1143.0L417.8 1142.6L418.2 1144.2L418.6 1143.6L419.0 1143.4L419.4 1144.7L419.9 1142.5L420.3 1142.8L420.7 1144.1L421.1 1145.1L421.5 1143.7L422.0 1145.1L422.4 1142.5L422.8 1143.4L423.2 1142.8L423.6 1141.6L424.1 1143.7L424.5 1144.7L424.9 1143.5L425.3 1143.3L425.7 1145.0L426.2 1142.8L426.6 1142.1L427.0 1142.2L427.4 1142.0L427.8 1145.1L428.3 1144.2L428.7 1142.8L429.1 1142.9L429.5 1145.2L429.9 1142.4L430.4 1142.5L430.8 1144.0L431.2 1144.2L431.6 1143.7L432.0 1142.7L432.5 1142.5L432.9 1144.1L433.3 1143.1L433.7 1141.2L434.1 1144.1L434.6 1144.3L435.0 1143.4L435.4 1143.3L435.8 1143.8L436.2 1143.1L436.7 1142.3L437.1 1143.4L437.5 1141.4L437.9 1142.9L438.3 1141.4L438.8 1143.3L439.2 1143.5L439.6 1145.2L440.0 1142.4L440.4 1142.3L440.9 1143.3L441.3 1142.9L441.7 1144.0L442.1 1144.9L442.5 1144.6L443.0 1145.4L443.4 1143.4L443.8 1146.4L444.2 1146.6L444.6 1144.6L445.1 1142.5L445.5 1143.9L445.9 1144.1L446.3 1142.5L446.7 1144.6L447.2 1144.3L447.6 1143.8L448.0 1145.1L448.4 1145.1L448.8 1143.3L449.3 1143.7L449.7 1143.0L450.1 1143.2L450.5 1144.5L450.9 1144.9L451.4 1143.6L451.8 1142.2L452.2 1144.8L452.6 1142.8L453.0 1144.4L453.5 1146.4L453.9 1144.9L454.3 1143.7L454.7 1143.3L455.1 1145.5L455.6 1144.6L456.0 1145.4L456.4 1145.9L456.8 1145.2L457.2 1145.0L457.7 1143.9L458.1 1142.6L458.5 1143.0L458.9 1144.1L459.3 1143.9L459.8 1144.6L460.2 1143.9L460.6 1144.4L461.0 1145.2L461.4 1143.2L461.9 1143.3L462.3 1142.5L462.7 1145.7L463.1 1144.4L463.5 1144.4L464.0 1145.6L464.4 1145.2L464.8 1143.7L465.2 1144.2L465.6 1142.2L466.1 1143.9L466.5 1143.4L466.9 1141.9L467.3 1145.2L467.7 1143.9L468.2 1145.4L468.6 1144.1L469.0 1145.4L469.4 1145.8L469.8 1143.4L470.3 1142.8L470.7 1143.9L471.1 1144.8L471.5 1144.1L471.9 1143.9L472.4 1144.8L472.8 1142.9L473.2 1144.8L473.6 1144.0L474.0 1145.1L474.5 1143.8L474.9 1143.6L475.3 1144.4L475.7 1143.3L476.1 1144.9L476.6 1144.1L477.0 1144.0L477.4 1143.9L477.8 1145.7L478.2 1144.5L478.7 1145.2L479.1 1145.5L479.5 1144.2L479.9 1145.1L480.3 1144.8L480.8 1144.7L481.2 1144.1L481.6 1144.0L482.0 1144.6L482.4 1145.7L482.9 1143.4L483.3 1144.9L483.7 1144.3L484.1 1145.7L484.5 1145.5L485.0 1146.2L485.4 1143.0L485.8 1143.9L486.2 1144.2L486.6 1145.6L487.1 1144.8L487.5 1144.3L487.9 1145.3L488.3 1146.5L488.7 1142.4L489.2 1143.9L489.6 1145.1L490.0 1145.1L490.4 1144.5L490.8 1143.4L491.3 1144.1L491.7 1146.2L492.1 1146.4L492.5 1145.2L492.9 1144.4L493.4 1145.7L493.8 1145.7L494.2 1146.1L494.6 1145.6L495.0 1145.2L495.5 1145.9L495.9 1144.3L496.3 1146.3L496.7 1146.8L497.1 1144.6L497.6 1146.1L498.0 1145.1L498.4 1147.3L498.8 1146.9L499.2 1145.5L499.7 1146.2L500.1 1144.7L500.5 1144.3L500.9 1144.6L501.3 1145.8L501.8 1146.1L502.2 1146.3L502.6 1145.3L503.0 1146.6L503.4 1146.8L503.9 1145.1L504.3 1144.1L504.7 1146.5L505.1 1147.1L505.5 1145.2L506.0 1143.8L506.4 1145.7L506.8 1146.9L507.2 1143.3L507.6 1144.9L508.1 1143.7L508.5 1143.7L508.9 1145.6L509.3 1144.1L509.7 1145.4L510.2 1146.0L510.6 1145.1L511.0 1144.5L511.4 1143.9L511.8 1144.4L512.3 1143.5L512.7 1146.2L513.1 1144.7L513.5 1144.1L513.9 1143.7L514.4 1144.0L514.8 1144.5L515.2 1143.3L515.6 1146.3L516.0 1144.7L516.5 1145.2L516.9 1146.3L517.3 1147.3L517.7 1146.8L518.1 1144.7L518.6 1145.3L519.0 1145.7L519.4 1146.3L519.8 1145.4L520.2 1143.8L520.7 1143.8L521.1 1145.6L521.5 1144.4L521.9 1146.7L522.3 1145.6L522.8 1144.6L523.2 1144.9L523.6 1144.9L524.0 1145.7L524.4 1146.5L524.9 1144.3L525.3 1144.0L525.7 1145.5L526.1 1145.0L526.5 1146.1L527.0 1146.6L527.4 1145.4L527.8 1145.8L528.2 1144.2L528.6 1145.5L529.1 1145.3L529.5 1145.7L529.9 1147.4L530.3 1147.1L530.7 1144.6L531.2 1145.5L531.6 1147.1L532.0 1147.7L532.4 1145.7L532.8 1146.1L533.3 1145.4L533.7 1148.5L534.1 1146.5L534.5 1146.8L534.9 1146.8L535.4 1147.3L535.8 1146.8L536.2 1145.6L536.6 1146.4L537.0 1145.1L537.5 1145.9L537.9 1144.7L538.3 1145.1L538.7 1146.0L539.1 1146.8L539.6 1146.1L540.0 1145.3L540.4 1146.0L540.8 1145.7L541.2 1147.5L541.7 1146.3L542.1 1146.9L542.5 1146.0L542.9 1145.0L543.3 1146.8L543.8 1147.1L544.2 1145.6L544.6 1144.9L545.0 1146.0L545.4 1145.0L545.9 1146.5L546.3 1145.1L546.7 1144.0L547.1 1145.4L547.5 1146.0L548.0 1147.8L548.4 1145.8L548.8 1146.0L549.2 1145.0L549.6 1144.3L550.1 1144.5L550.5 1146.8L550.9 1144.9L551.3 1146.3L551.7 1146.6L552.2 1145.4L552.6 1147.1L553.0 1145.6L553.4 1146.7L553.8 1145.5L554.3 1146.7L554.7 1145.0L555.1 1146.4L555.5 1145.6L555.9 1146.0L556.4 1146.8L556.8 1146.3L557.2 1145.3L557.6 1145.7L558.0 1146.3L558.5 1144.9L558.9 1146.7L559.3 1146.4L559.7 1144.7L560.1 1145.9L560.6 1144.9L561.0 1147.7L561.4 1146.3L561.8 1146.6L562.2 1147.7L562.7 1146.4L563.1 1146.8L563.5 1145.4L563.9 1145.6L564.3 1144.5L564.8 1146.0L565.2 1147.4L565.6 1146.0L566.0 1146.4L566.4 1144.9L566.9 1145.3L567.3 1146.0L567.7 1147.1L568.1 1146.5L568.5 1145.9L569.0 1146.1L569.4 1145.2L569.8 1145.5L570.2 1147.0L570.6 1145.7L571.1 1146.4L571.5 1147.5L571.9 1145.9L572.3 1146.4L572.7 1145.3L573.2 1147.2L573.6 1143.5L574.0 1144.6L574.4 1144.6L574.8 1147.0L575.3 1146.1L575.7 1145.7L576.1 1144.7L576.5 1146.2L576.9 1146.4L577.4 1146.0L577.8 1145.3L578.2 1145.6L578.6 1146.6L579.0 1146.7L579.5 1146.6L579.9 1145.9L580.3 1144.3L580.7 1146.0L581.1 1145.0L581.6 1145.6L582.0 1145.7L582.4 1145.2L582.8 1145.5L583.2 1147.6L583.7 1146.8L584.1 1145.4L584.5 1144.0L584.9 1145.7L585.3 1146.3L585.8 1147.0L586.2 1145.8L586.6 1145.9L587.0 1145.9L587.4 1146.9L587.9 1145.1L588.3 1146.1L588.7 1145.3L589.1 1146.6L589.5 1145.1L590.0 1146.5L590.4 1145.6L590.8 1146.0L591.2 1147.2L591.6 1147.9L592.1 1145.1L592.5 1147.1L592.9 1146.4L593.3 1146.1L593.7 1148.3L594.2 1147.4L594.6 1148.0L595.0 1146.0L595.4 1145.9L595.8 1147.7L596.3 1148.1L596.7 1146.8L597.1 1146.9L597.5 1145.7L597.9 1145.1L598.4 1145.9L598.8 1147.5L599.2 1144.5L599.6 1145.4L600.0 1143.8L600.5 1145.6L600.9 1146.6L601.3 1144.9L601.7 1145.2L602.1 1146.4L602.6 1145.6L603.0 1144.8L603.4 1144.3L603.8 1143.8L604.2 1146.3L604.7 1144.9L605.1 1146.7L605.5 1146.5L605.9 1144.5L606.3 1144.3L606.8 1146.3L607.2 1146.8L607.6 1147.0L608.0 1144.6L608.4 1146.8L608.9 1145.6L609.3 1144.8L609.7 1146.1L610.1 1147.0L610.5 1148.1L611.0 1145.5L611.4 1144.6L611.8 1147.7L612.2 1146.2L612.6 1146.2L613.1 1145.8L613.5 1146.0L613.9 1148.0L614.3 1146.2L614.7 1145.9L615.2 1146.0L615.6 1147.9L616.0 1146.3L616.4 1147.1L616.8 1145.9L617.3 1145.9L617.7 1145.4L618.1 1147.3L618.5 1148.3L618.9 1146.4L619.4 1145.5L619.8 1145.5L620.2 1147.3L620.6 1147.2L621.0 1146.8L621.5 1146.7L621.9 1145.9L622.3 1147.6L622.7 1146.4L623.1 1146.0L623.6 1146.5L624.0 1147.3L624.4 1146.6L624.8 1145.4L625.2 1146.8L625.7 1145.2L626.1 1145.1L626.5 1144.6L626.9 1145.7L627.3 1144.1L627.8 1144.8L628.2 1146.5L628.6 1146.7L629.0 1147.1L629.4 1145.4L629.9 1144.8L630.3 1145.7L630.7 1145.8L631.1 1147.2L631.5 1146.8L632.0 1146.1L632.4 1147.3L632.8 1146.5L633.2 1145.4L633.6 1144.0L634.1 1146.2L634.5 1146.7L634.9 1146.6L635.3 1146.0L635.7 1145.5L636.2 1145.9L636.6 1146.4L637.0 1145.9L637.4 1145.6L637.8 1145.1L638.3 1145.8L638.7 1145.9L639.1 1145.1L639.5 1146.5L639.9 1146.1L640.4 1145.5L640.8 1144.6L641.2 1145.4L641.6 1145.1L642.0 1145.9L642.5 1142.7L642.9 1144.4L643.3 1144.5L643.7 1145.4L644.1 1144.5L644.6 1143.1L645.0 1142.0L645.4 1142.0L645.8 1142.3L646.2 1141.6L646.7 1140.6L647.1 1139.1L647.5 1138.4L647.9 1138.3L648.3 1134.9L648.8 1133.3L649.2 1131.3L649.6 1126.3L650.0 1119.7L650.4 1113.1L650.9 1104.7L651.3 1098.1L651.9 1093.3L652.5 1097.3L653.0 1101.7L653.4 1109.0L653.8 1116.0L654.2 1119.8L654.6 1125.4L655.1 1130.4L655.5 1131.8L655.9 1135.2L656.3 1136.1L656.7 1135.0L657.2 1137.4L657.6 1138.1L658.0 1140.5L658.4 1142.3L658.8 1141.7L659.3 1141.2L659.7 1142.4L660.1 1142.6L660.5 1144.0L660.9 1142.5L661.4 1143.0L661.8 1142.1L662.2 1144.7L662.6 1144.8L663.0 1144.7L663.5 1144.6L663.9 1144.5L664.3 1144.4L664.7 1144.8L665.1 1144.2L665.6 1146.2L666.0 1145.6L666.4 1144.6L666.8 1144.7L667.2 1146.2L667.7 1145.6L668.1 1145.6L668.5 1145.7L668.9 1145.8L669.3 1143.2L669.8 1144.0L670.2 1143.5L670.6 1145.5L671.0 1144.4L671.4 1144.8L671.9 1145.2L672.3 1146.4L672.7 1145.6L673.1 1145.0L673.5 1146.4L674.0 1144.7L674.4 1145.0L674.8 1148.2L675.2 1145.6L675.6 1145.0L676.1 1144.7L676.5 1145.3L676.9 1146.5L677.3 1147.0L677.7 1146.9L678.2 1146.0L678.6 1144.8L679.0 1146.2L679.4 1147.4L679.8 1147.6L680.3 1146.6L680.7 1147.5L681.1 1146.0L681.5 1145.6L681.9 1144.6L682.4 1146.0L682.8 1146.7L683.2 1146.3L683.6 1147.0L684.0 1147.8L684.5 1146.9L684.9 1145.2L685.3 1145.0L685.7 1145.6L686.1 1145.6L686.6 1146.5L687.0 1146.4L687.4 1145.6L687.8 1146.1L688.2 1146.6L688.7 1146.6L689.1 1146.2L689.5 1148.3L689.9 1147.3L690.3 1145.3L690.8 1145.1L691.2 1145.4L691.6 1146.0L692.0 1147.1L692.4 1146.9L692.9 1147.6L693.3 1148.1L693.7 1147.9L694.1 1147.6L694.5 1146.9L695.0 1145.3L695.4 1143.8L695.8 1145.8L696.2 1147.6L696.6 1146.1L697.1 1147.0L697.5 1148.5L697.9 1146.9L698.3 1145.8L698.7 1147.7L699.2 1146.8L699.6 1146.9L700.0 1145.5L700.4 1146.1L700.8 1146.2L701.3 1146.8L701.7 1147.2L702.1 1146.9L702.5 1145.7L702.9 1146.3L703.4 1145.0L703.8 1147.3L704.2 1148.0L704.6 1146.8L705.0 1145.5L705.5 1145.8L705.9 1145.1L706.3 1146.5L706.7 1146.1L707.1 1145.3L707.6 1146.5L708.0 1146.8L708.4 1146.4L708.8 1147.1L709.2 1146.6L709.7 1146.1L710.1 1146.2L710.5 1147.5L710.9 1148.6L711.3 1147.7L711.8 1147.9L712.2 1147.8L712.6 1145.3L713.0 1146.5L713.4 1145.8L713.9 1147.2L714.4 1147.2L715.1 1144.4L715.5 1145.4L716.0 1145.7L716.4 1144.0L716.8 1143.8L717.2 1144.7L717.6 1146.4L718.1 1144.2L718.5 1145.6L718.9 1144.5L719.3 1144.5L719.7 1145.0L720.2 1142.8L720.6 1142.3L721.4 1143.2L722.3 1140.6L722.7 1139.8L723.1 1139.2L723.5 1139.0L723.9 1137.3L724.4 1137.1L724.8 1136.9L725.3 1136.9L726.0 1129.9L726.5 1130.4L727.3 1124.7L728.0 1095.7L728.5 1071.6L729.0 1049.2L729.4 950.3L729.9 862.1L730.4 812.2L731.2 835.5L732.2 892.2L732.9 950.7L734.0 1013.6L734.4 1051.6L734.5 1074.8L735.4 1097.0L736.1 1102.6L736.6 1108.6L737.4 1110.7L738.1 1113.4L738.6 1123.5L739.4 1142.2L739.9 1141.1L740.3 1141.3L740.7 1141.5L741.2 1142.9L741.6 1143.5L742.0 1142.7L742.4 1143.3L742.8 1144.1L743.3 1143.7L743.7 1144.5L744.4 1145.4L744.9 1144.8L745.4 1147.0L745.8 1145.9L746.2 1147.5L746.6 1147.6L747.0 1145.6L747.5 1146.1L747.9 1145.2L748.3 1144.5L748.7 1145.5L749.1 1145.8L749.6 1146.5L750.0 1146.8L750.4 1145.1L750.8 1145.3L751.2 1145.7L751.7 1146.4L752.1 1144.4L752.5 1147.7L752.9 1146.0L753.3 1147.2L753.8 1144.9L754.2 1144.3L754.6 1145.3L755.0 1146.6L755.4 1145.6L755.9 1143.6L756.3 1145.7L756.7 1143.7L757.1 1144.9L757.5 1145.1L758.0 1144.4L758.4 1144.9L758.8 1145.0L759.2 1144.9L759.6 1145.5L760.1 1145.5L760.5 1144.1L760.9 1144.9L761.3 1146.3L761.7 1146.8L762.2 1145.9L762.6 1146.2L763.0 1146.9L763.4 1147.7L763.8 1147.8L764.3 1146.0L764.7 1146.1L765.1 1147.3L765.5 1146.9L765.9 1146.6L766.4 1144.0L766.8 1146.2L767.2 1144.5L767.6 1147.0L768.0 1146.3L768.5 1146.0L768.9 1145.5L769.3 1146.9L769.7 1145.9L770.1 1147.2L770.6 1146.1L771.0 1145.7L771.4 1146.2L771.8 1146.1L772.2 1145.4L772.7 1147.1L773.1 1147.0L773.5 1146.4L773.9 1147.1L774.3 1146.7L774.8 1144.7L775.2 1146.7L775.6 1146.9L776.0 1146.1L776.4 1146.8L776.9 1145.1L777.3 1145.0L777.7 1145.5L778.1 1145.5L778.5 1145.5L779.0 1147.2L779.4 1145.3L779.8 1146.5L780.2 1145.4L780.6 1146.6L781.1 1147.0L781.5 1146.7L781.9 1144.8L782.3 1145.1L782.7 1146.4L783.2 1145.1L783.6 1145.9L784.0 1143.8L784.4 1146.2L784.8 1146.3L785.3 1145.4L785.7 1143.6L786.1 1143.7L786.5 1143.4L786.9 1143.0L787.4 1142.0L787.8 1141.3L788.2 1141.6L788.6 1142.6L789.0 1139.1L789.5 1139.3L789.9 1138.7L790.3 1139.0L790.7 1138.0L791.1 1139.9L791.6 1139.3L792.0 1138.9L792.4 1138.2L792.8 1139.2L793.2 1139.5L793.7 1140.0L794.1 1139.7L794.5 1141.9L794.9 1140.7L795.3 1143.6L795.8 1140.9L796.2 1142.6L796.6 1142.6L797.0 1144.7L797.4 1142.8L797.9 1145.6L798.3 1142.9L798.7 1146.7L799.1 1145.7L799.5 1145.5L800.0 1146.0L800.4 1147.5L800.8 1146.4L801.2 1143.9L801.6 1146.4L802.1 1145.1L802.5 1143.6L802.9 1146.0L803.3 1144.3L803.7 1145.8L804.2 1146.1L804.6 1145.3L805.0 1146.3L805.4 1145.0L805.8 1146.1L806.3 1145.4L806.7 1145.9L807.1 1147.9L807.5 1146.2L807.9 1145.0L808.4 1146.0L808.8 1145.4L809.2 1146.1L809.6 1146.3L810.0 1146.5L810.5 1146.4L810.9 1145.5L811.3 1145.8L811.7 1146.3L812.1 1145.7L812.6 1146.8L813.0 1146.5L813.4 1147.4L813.8 1147.6L814.2 1145.9L814.7 1146.3L815.1 1144.4L815.5 1144.6L815.9 1145.2L816.3 1145.0L816.8 1145.3L817.2 1144.6L817.6 1143.5L818.0 1145.1L818.4 1145.1L818.9 1145.7L819.3 1145.0L819.7 1145.3L820.1 1145.7L820.5 1146.5L821.0 1145.4L821.4 1146.6L821.8 1144.9L822.2 1145.3L822.6 1147.1L823.1 1145.9L823.5 1144.4L823.9 1146.8L824.3 1146.6L824.7 1146.7L825.2 1145.9L825.6 1146.0L826.0 1145.5L826.4 1145.5L826.8 1147.3L827.3 1144.9L827.7 1144.5L828.1 1144.5L828.5 1146.5L828.9 1145.6L829.4 1144.6L829.8 1144.8L830.2 1145.3L830.6 1146.0L831.0 1143.7L831.5 1145.7L831.9 1144.5L832.3 1144.0L832.7 1144.8L833.1 1146.6L833.6 1147.6L834.0 1145.9L834.4 1146.2L834.8 1145.0L835.2 1145.9L835.7 1146.3L836.1 1144.2L836.5 1144.7L836.9 1145.7L837.3 1143.1L837.8 1143.8L838.2 1144.3L838.6 1141.9L839.0 1142.6L839.4 1142.0L839.9 1141.7L840.3 1139.6L840.7 1141.6L841.1 1139.9L841.5 1140.2L842.0 1140.6L842.4 1140.3L842.8 1140.5L843.2 1139.0L843.6 1140.0L844.1 1140.8L844.5 1142.1L844.9 1143.5L845.3 1141.5L845.7 1143.6L846.2 1143.5L846.6 1143.5L847.0 1146.1L847.4 1144.6L847.8 1145.8L848.3 1145.6L848.7 1144.3L849.1 1143.7L849.5 1147.1L849.9 1144.7L850.4 1143.7L850.8 1145.5L851.2 1145.2L851.6 1144.5L852.0 1145.1L852.5 1145.4L852.9 1144.5L853.5 1145.1L854.1 1144.4L854.6 1144.4L855.0 1145.1L855.4 1144.3L855.8 1144.3L856.2 1142.9L856.7 1142.4L857.1 1140.3L857.5 1140.9L857.9 1136.8L858.3 1135.4L858.8 1131.9L859.2 1129.0L859.9 1125.1L860.4 1126.1L860.9 1128.9L861.3 1130.6L861.7 1134.6L862.1 1134.9L862.5 1135.4L863.0 1137.2L863.4 1139.1L863.8 1139.6L864.2 1140.4L864.6 1139.3L865.1 1139.8L865.5 1141.3L865.9 1139.1L866.5 1139.1L867.2 1138.6L867.6 1139.0L868.0 1141.3L868.4 1140.5L868.8 1140.0L869.3 1139.6L869.7 1139.2L870.1 1139.3L870.5 1138.3L870.9 1138.1L871.4 1137.2L871.8 1138.5L872.2 1136.8L872.6 1136.0L873.0 1137.4L873.5 1137.6L873.9 1138.5L874.7 1138.5L875.6 1135.2L876.0 1134.2L876.4 1133.5L876.8 1132.0L877.2 1132.6L877.7 1132.2L878.1 1130.8L878.5 1129.1L878.9 1129.1L879.3 1130.0L879.8 1127.0L880.4 1127.7L881.0 1124.2L881.4 1121.0L881.9 1117.4L882.3 1116.0L882.8 1112.3L883.8 1072.1L884.4 1051.3L885.2 1011.0L885.6 991.7L886.5 950.7L887.7 868.7L888.1 811.7L888.5 711.8L889.0 650.5L889.5 589.6L890.5 711.8L890.9 811.8L891.0 869.2L891.9 952.3L892.4 985.2L892.8 1015.6L893.3 1053.1L894.0 1102.9L894.6 1119.7L895.3 1119.5L895.7 1122.6L896.1 1121.1L897.0 1123.8L897.8 1123.2L898.2 1124.0L898.7 1125.1L899.1 1127.0L899.5 1127.7L899.9 1128.0L900.3 1126.6L901.0 1130.2L901.6 1129.8L902.0 1133.2L902.4 1134.4L902.9 1134.1L903.3 1135.1L903.7 1134.3L904.1 1138.5L904.5 1137.7L905.1 1139.4L905.8 1138.4L906.2 1139.7L906.6 1139.3L907.1 1140.9L907.5 1141.5L907.9 1141.7L908.3 1142.7L908.7 1141.8L909.2 1141.8L909.6 1141.9L910.0 1144.1L910.4 1142.1L910.8 1144.1L911.3 1141.7L911.7 1142.8L912.1 1144.0L912.5 1143.9L912.9 1146.4L913.5 1147.1L914.2 1143.7L914.6 1143.7L915.0 1144.6L915.5 1146.9L915.9 1146.7L916.3 1145.7L916.7 1143.8L917.1 1144.3L917.6 1143.2L918.0 1143.1L918.4 1143.7L918.8 1143.1L919.2 1140.2L919.7 1139.7L920.1 1139.3L920.5 1136.4L920.9 1134.7L921.3 1134.5L921.8 1133.3L922.2 1132.6L922.6 1132.5L923.0 1132.7L923.4 1133.5L923.9 1133.5L924.3 1135.8L924.7 1136.2L925.1 1137.2L925.5 1139.0L926.0 1139.2L926.4 1139.1L926.8 1138.2L927.2 1138.0L927.6 1140.8L928.1 1139.5L928.5 1139.8L928.9 1140.2L929.3 1142.3L929.7 1143.2L930.2 1143.8L930.6 1142.5L931.0 1141.5L931.4 1144.0L931.8 1145.2L932.3 1144.8L932.7 1144.9L933.1 1146.3L933.5 1147.2L933.9 1145.1L934.4 1143.6L934.8 1144.3L935.2 1144.1L935.6 1142.3L936.0 1144.8L936.5 1143.3L936.9 1143.7L937.3 1142.2L937.7 1140.6L938.1 1141.8L938.6 1139.6L939.0 1137.7L939.4 1135.1L939.8 1131.2L940.2 1125.8L940.9 1120.0L941.5 1123.2L941.9 1127.2L942.3 1131.7L942.8 1133.3L943.2 1135.6L943.6 1135.8L944.0 1135.8L944.4 1138.0L944.9 1138.9L945.3 1136.8L945.7 1136.5L946.1 1136.3L946.5 1138.8L947.0 1136.6L947.4 1137.0L947.8 1135.4L948.2 1136.3L948.6 1135.7L949.1 1133.9L949.5 1135.4L949.9 1135.7L950.3 1133.7L950.7 1136.0L951.2 1136.1L951.6 1135.3L952.0 1136.1L952.4 1134.6L952.8 1136.9L953.3 1138.6L953.7 1137.1L954.1 1138.4L954.5 1140.0L954.9 1139.6L955.4 1139.4L955.8 1139.1L956.2 1140.3L956.6 1140.0L957.0 1140.5L957.5 1137.9L957.9 1139.5L958.3 1137.7L958.7 1138.1L959.1 1136.0L959.6 1134.5L960.0 1133.9L960.4 1132.4L960.8 1132.1L961.2 1131.1L961.7 1129.2L962.1 1126.9L962.5 1125.0L962.9 1124.0L963.6 1123.4L964.2 1123.9L964.6 1124.2L965.0 1125.1L965.4 1125.9L965.9 1127.8L966.3 1129.6L966.7 1128.3L967.1 1131.4L967.5 1131.6L968.0 1131.8L968.4 1135.7L968.8 1136.3L969.2 1137.0L969.6 1135.9L970.1 1139.6L970.5 1138.1L970.9 1137.6L971.3 1139.3L971.7 1139.2L972.2 1140.4L972.6 1140.4L973.0 1136.7L973.4 1140.0L973.8 1138.7L974.3 1139.6L974.7 1140.1L975.1 1138.5L975.5 1140.0L975.9 1140.6L976.4 1139.5L976.8 1139.8L977.2 1138.3L977.6 1139.3L978.0 1139.7L978.5 1141.0L978.9 1142.8L979.3 1141.9L979.7 1141.8L980.1 1142.3L980.6 1143.4L981.0 1142.7L981.4 1141.3L981.8 1143.5L982.2 1142.5L982.7 1143.7L983.1 1141.3L983.5 1141.5L983.9 1143.8L984.3 1142.0L984.8 1143.9L985.2 1143.6L985.6 1143.4L986.0 1144.1L986.4 1144.4L986.9 1144.9L987.3 1144.6L987.7 1144.8L988.1 1146.8L988.5 1146.7L989.0 1146.4L989.4 1146.2L989.8 1145.0L990.2 1145.2L990.6 1144.7L991.1 1146.0L991.5 1143.8L991.9 1143.0L992.3 1144.9L992.7 1145.8L993.2 1146.8L993.6 1146.1L994.0 1144.7L994.4 1145.2L994.8 1144.0L995.3 1144.4L995.7 1144.0L996.1 1143.4L996.5 1144.9L996.9 1144.6L997.4 1144.1L997.8 1144.3L998.2 1145.2L998.6 1142.8L999.0 1141.8L999.5 1142.5L999.9 1139.5L1000.3 1140.9L1000.7 1139.2L1001.1 1138.2L1001.6 1138.1L1002.0 1139.2L1002.4 1137.2L1002.8 1138.7L1003.2 1138.2L1003.7 1137.3L1004.1 1140.3L1004.5 1139.6L1004.9 1139.9L1005.3 1141.4L1005.8 1142.0L1006.2 1143.1L1006.6 1142.1L1007.0 1144.6L1007.4 1143.9L1007.9 1143.5L1008.3 1143.8L1008.7 1145.1L1009.1 1143.1L1009.5 1143.4L1010.0 1145.0L1010.4 1146.5L1010.8 1145.9L1011.2 1145.6L1011.6 1145.3L1012.1 1143.7L1012.5 1145.1L1012.9 1144.0L1013.3 1146.9L1013.7 1146.1L1014.2 1145.6L1014.6 1146.0L1015.0 1146.1L1015.4 1145.9L1015.8 1145.9L1016.3 1145.2L1016.7 1144.7L1017.1 1146.1L1017.5 1147.2L1017.9 1147.1L1018.4 1145.9L1018.8 1146.3L1019.2 1145.3L1019.6 1145.9L1020.0 1144.9L1020.5 1145.7L1020.9 1147.1L1021.3 1145.9L1021.7 1146.8L1022.1 1144.5L1022.6 1144.3L1023.0 1145.0L1023.4 1145.8L1023.8 1145.1L1024.2 1146.0L1024.7 1144.5L1025.1 1146.1L1025.5 1145.9L1025.9 1144.5L1026.3 1146.4L1026.8 1145.9L1027.2 1146.8L1027.6 1145.0L1028.0 1145.8L1028.4 1146.4L1028.9 1143.8L1029.3 1143.3L1029.7 1145.2L1030.1 1145.4L1030.5 1146.9L1031.0 1145.9L1031.4 1143.9L1031.8 1145.4L1032.2 1144.4L1032.6 1144.5L1033.1 1144.0L1033.5 1144.5L1033.9 1142.8L1034.3 1143.0L1034.7 1141.9L1035.2 1145.2L1035.6 1142.0L1036.0 1142.0L1036.4 1141.7L1036.8 1141.5L1037.3 1141.1L1037.7 1141.4L1038.1 1139.3L1038.5 1137.3L1038.9 1134.7L1039.4 1134.0L1039.8 1134.1L1040.2 1131.2L1040.6 1130.2L1041.0 1127.9L1041.5 1130.4L1041.9 1130.2L1042.3 1131.3L1042.7 1128.9L1043.1 1131.5L1043.6 1132.8L1044.0 1133.9L1044.4 1134.0L1044.8 1135.8L1045.2 1136.9L1045.7 1136.7L1046.1 1136.9L1046.5 1137.5L1046.9 1137.3L1047.3 1137.2L1047.8 1136.4L1048.2 1135.6L1048.6 1139.0L1049.0 1136.3L1049.4 1137.4L1049.9 1135.9L1050.3 1136.6L1050.7 1136.2L1051.1 1137.3L1051.5 1136.9L1052.0 1136.9L1052.4 1138.3L1052.8 1139.3L1053.2 1139.2L1053.6 1139.2L1054.1 1138.0L1054.5 1139.2L1054.9 1140.0L1055.3 1139.2L1055.7 1140.9L1056.2 1140.6L1056.6 1141.0L1057.0 1140.3L1057.4 1141.0L1057.8 1142.0L1058.3 1142.6L1058.7 1142.9L1059.1 1142.0L1059.5 1142.7L1059.9 1143.3L1060.4 1141.9L1060.8 1145.1L1061.2 1144.6L1061.6 1144.2L1062.0 1143.4L1062.5 1144.9L1062.9 1144.3L1063.3 1146.5L1063.7 1145.1L1064.1 1143.1L1064.6 1144.9L1065.0 1144.6L1065.4 1145.4L1065.8 1145.3L1066.2 1144.8L1066.7 1145.2L1067.1 1145.7L1067.5 1145.2L1067.9 1144.0L1068.3 1143.1L1068.8 1143.6L1069.2 1144.9L1069.6 1145.3L1070.0 1146.1L1070.4 1143.5L1070.9 1144.9L1071.3 1144.5L1071.7 1144.3L1072.1 1144.8L1072.5 1144.6L1073.0 1144.8L1073.4 1144.6L1073.8 1145.2L1074.2 1145.4L1074.6 1146.2L1075.1 1144.3L1075.5 1143.4L1075.9 1143.5L1076.3 1142.9L1076.7 1145.1L1077.2 1143.7L1077.6 1144.0L1078.0 1141.6L1078.4 1142.0L1078.8 1142.8L1079.3 1144.0L1079.7 1141.7L1080.1 1142.6L1080.5 1140.4L1080.9 1140.8L1081.4 1140.8L1081.8 1140.7L1082.2 1140.9L1082.6 1140.5L1083.0 1138.0L1083.5 1138.8L1083.9 1136.1L1084.3 1137.4L1084.7 1134.4L1085.1 1132.5L1085.6 1130.2L1086.0 1127.0L1086.4 1122.5L1086.8 1117.4L1087.2 1113.9L1087.7 1108.4L1088.1 1103.8L1088.5 1100.0L1089.0 1098.2L1089.8 1101.0L1090.2 1106.0L1090.6 1109.2L1091.0 1113.3L1091.4 1118.3L1091.9 1122.8L1092.3 1124.5L1092.7 1126.1L1093.1 1128.0L1093.5 1130.1L1094.0 1132.6L1094.4 1135.0L1094.8 1137.6L1095.2 1139.0L1095.6 1138.1L1096.1 1139.5L1096.5 1140.0L1096.9 1140.7L1097.3 1139.9L1097.7 1140.1L1098.2 1141.9L1098.6 1142.7L1099.0 1141.0L1099.4 1143.8L1099.8 1144.4L1100.3 1142.6L1100.7 1141.1L1101.1 1142.1L1101.5 1142.8L1101.9 1144.4L1102.4 1142.9L1102.8 1146.1L1103.2 1145.8L1103.6 1143.4L1104.0 1142.9L1104.5 1144.9L1104.9 1145.6L1105.3 1146.2L1105.7 1145.7L1106.1 1145.3L1106.6 1143.8L1107.0 1145.9L1107.4 1146.4L1107.8 1145.3L1108.2 1145.5L1108.7 1145.4L1109.1 1145.4L1109.5 1144.6L1109.9 1145.9L1110.3 1144.3L1110.8 1146.7L1111.2 1145.0L1111.6 1146.9L1112.0 1145.9L1112.4 1146.3L1112.9 1145.5L1113.3 1145.9L1113.7 1144.5L1114.1 1143.8L1114.5 1144.9L1115.0 1144.5L1115.4 1143.2L1115.8 1144.0L1116.2 1143.4L1116.6 1144.9L1117.1 1144.4L1117.5 1145.1L1117.9 1147.1L1118.3 1145.7L1118.7 1146.2L1119.2 1146.1L1119.6 1145.1L1120.0 1144.9L1120.4 1146.4L1120.8 1146.9L1121.3 1144.3L1121.7 1145.7L1122.1 1145.6L1122.5 1145.2L1122.9 1146.5L1123.4 1144.4L1123.8 1145.5L1124.2 1145.0L1124.6 1145.5L1125.0 1146.0L1125.5 1144.3L1125.9 1145.0L1126.3 1144.2L1126.7 1144.3L1127.1 1145.9L1127.6 1146.0L1128.0 1144.3L1128.4 1144.3L1128.8 1147.4L1129.2 1145.2L1129.7 1145.2L1130.1 1146.4L1130.5 1144.9L1130.9 1144.8L1131.3 1146.0L1131.8 1146.4L1132.2 1145.4L1132.6 1146.7L1133.0 1144.9L1133.4 1144.6L1133.9 1145.0L1134.3 1144.9L1134.7 1145.5L1135.1 1145.3L1135.5 1144.6L1136.0 1145.2L1136.4 1144.4L1136.8 1144.5L1137.2 1144.9L1137.6 1145.9L1138.1 1145.0L1138.5 1145.4L1138.9 1145.5L1139.3 1144.1L1139.7 1143.6L1140.2 1143.2L1140.6 1143.9L1141.0 1143.8L1141.4 1144.1L1141.8 1141.0L1142.3 1141.7L1142.7 1141.0L1143.1 1141.7L1143.5 1139.6L1143.9 1138.7L1144.4 1136.7L1144.8 1136.8L1145.2 1135.9L1145.6 1136.1L1146.0 1136.5L1146.5 1136.0L1146.9 1137.8L1147.3 1139.5L1147.7 1141.2L1148.1 1141.0L1148.6 1142.2L1149.0 1142.7L1149.4 1141.0L1149.8 1142.7L1150.2 1142.3L1150.7 1142.6L1151.1 1143.8L1151.5 1144.1L1151.9 1145.6L1152.3 1145.5L1152.8 1144.2L1153.2 1143.9L1153.6 1143.7L1154.0 1143.3L1154.4 1143.5L1154.9 1141.9L1155.3 1142.3L1155.7 1141.2L1156.1 1141.5L1156.5 1140.2L1157.0 1138.8L1157.4 1135.4L1157.8 1132.2L1158.2 1129.9L1158.9 1128.0L1159.5 1128.8L1159.9 1130.2L1160.3 1132.2L1160.7 1133.7L1161.2 1136.9L1161.6 1139.7L1162.0 1139.3L1162.4 1141.1L1162.8 1140.3L1163.3 1142.6L1163.7 1142.6L1164.1 1142.5L1164.5 1141.7L1164.9 1144.8L1165.4 1142.3L1165.8 1143.3L1166.2 1144.4L1166.6 1144.4L1167.0 1144.2L1167.5 1144.0L1167.9 1143.2L1168.3 1144.9L1168.7 1144.7L1169.1 1143.4L1169.6 1146.2L1170.0 1144.6L1170.4 1145.9L1170.8 1143.8L1171.2 1143.8L1171.7 1144.3L1172.1 1144.6L1172.5 1146.4L1172.9 1144.3L1173.3 1146.0L1173.8 1144.9L1174.2 1146.2L1174.6 1145.9L1175.0 1145.2L1175.4 1147.4L1175.9 1145.5L1176.3 1146.7L1176.7 1144.5L1177.1 1145.4L1177.5 1145.4L1178.0 1145.2L1178.4 1144.5L1178.8 1144.1L1179.2 1143.4L1179.6 1145.1L1180.1 1144.6L1180.5 1144.8L1180.9 1145.9L1181.3 1146.7L1181.7 1145.3L1182.2 1146.1L1182.6 1146.3L1183.0 1146.6L1183.4 1146.8L1183.8 1145.9L1184.3 1145.4L1184.7 1146.2L1185.1 1147.6L1185.5 1146.2L1185.9 1146.7L1186.4 1144.3L1186.8 1145.6L1187.2 1146.0L1187.6 1146.4L1188.0 1144.5L1188.5 1143.6L1188.9 1143.2L1189.3 1144.6L1189.7 1147.0L1190.1 1146.0L1190.6 1145.4L1191.0 1146.4L1191.4 1145.0L1191.8 1145.3L1192.2 1145.0L1192.7 1144.5L1193.1 1145.2L1193.5 1146.6L1193.9 1146.3L1194.3 1147.1L1194.8 1144.8L1195.2 1146.4L1195.6 1145.2L1196.0 1145.0L1196.4 1146.0L1196.9 1145.2L1197.3 1146.0L1197.7 1146.2L1198.1 1146.1L1198.5 1146.5L1199.0 1146.6L1199.4 1145.7L1199.8 1144.9L1200.2 1147.3L1200.6 1145.7L1201.1 1145.8L1201.5 1144.9L1201.9 1144.4L1202.3 1145.8L1202.7 1146.7L1203.2 1147.1L1203.6 1146.6L1204.0 1147.3L1204.4 1147.1L1204.8 1146.9L1205.3 1146.1L1205.7 1145.9L1206.1 1145.2L1206.5 1144.3L1206.9 1146.2L1207.4 1144.0L1207.8 1145.1L1208.2 1145.5L1208.6 1143.7L1209.0 1146.0L1209.5 1144.7L1209.9 1145.0L1210.3 1144.5L1210.7 1143.1L1211.1 1143.7L1211.6 1143.0L1212.0 1143.7L1212.4 1142.9L1212.8 1140.4L1213.2 1142.4L1213.7 1141.7L1214.1 1140.7L1214.5 1139.4L1214.9 1137.3L1215.3 1137.6L1215.8 1136.8L1216.2 1139.4L1216.6 1137.5L1217.0 1137.7L1217.4 1139.9L1217.9 1142.2L1218.3 1140.8L1218.7 1140.1L1219.1 1143.9L1219.5 1143.9L1220.0 1143.8L1220.4 1144.7L1220.8 1143.7L1221.2 1144.0L1221.6 1145.8L1222.1 1144.8L1222.5 1145.9L1222.9 1144.9L1223.3 1145.3L1223.7 1144.4L1224.2 1142.6L1224.6 1145.9L1225.0 1145.2L1225.4 1146.3L1225.8 1145.6L1226.3 1146.5L1226.7 1144.7L1227.1 1143.3L1227.5 1144.9L1227.9 1145.8L1228.4 1145.2L1228.8 1144.6L1229.2 1145.9L1229.6 1144.6L1230.0 1145.8L1230.5 1144.9L1230.9 1142.7L1231.3 1142.2L1231.7 1142.7L1232.1 1143.3L1232.6 1141.9L1233.0 1141.2L1233.4 1141.0L1233.8 1139.8L1234.2 1138.2L1234.7 1137.5L1235.1 1137.9L1235.5 1133.9L1235.9 1129.2L1236.3 1124.6L1236.8 1119.2L1237.4 1113.2L1238.0 1115.6L1238.4 1118.5L1238.9 1120.7L1239.3 1122.4L1239.7 1122.8L1240.1 1122.2L1240.5 1124.5L1241.0 1128.6L1241.4 1129.7L1241.8 1132.2L1242.2 1135.7L1242.6 1138.5L1243.1 1140.3L1243.5 1141.6L1243.9 1142.2L1244.3 1142.5L1244.7 1142.6L1245.2 1145.1L1245.6 1144.8L1246.0 1144.0L1246.4 1142.4L1246.8 1143.3L1247.3 1141.4L1247.7 1143.8L1248.1 1142.6L1248.5 1143.5L1248.9 1144.3L1249.4 1143.5L1249.8 1145.6L1250.2 1144.5L1250.6 1144.1L1251.0 1143.2L1251.5 1144.0L1251.9 1143.8L1252.3 1145.1L1252.7 1146.0L1253.1 1145.3L1253.6 1143.3L1254.0 1144.4L1254.4 1145.6L1254.8 1144.8L1255.2 1144.1L1255.7 1144.8L1256.1 1145.2L1256.5 1142.1L1256.9 1144.9L1257.3 1143.8L1257.8 1142.9L1258.2 1141.3L1258.6 1141.3L1259.0 1141.2L1259.4 1138.5L1259.9 1139.0L1260.3 1137.2L1260.7 1136.0L1261.1 1131.6L1261.5 1125.8L1262.4 1116.9L1263.2 1121.9L1263.6 1125.3L1264.1 1127.3L1264.5 1126.7L1264.9 1125.9L1265.3 1126.9L1265.7 1127.5L1266.2 1130.2L1266.6 1133.7L1267.0 1134.4L1267.4 1137.2L1267.8 1141.2L1268.3 1140.7L1268.7 1141.4L1269.1 1141.2L1269.5 1141.8L1269.9 1142.8L1270.4 1145.1L1270.8 1144.4L1271.2 1142.6L1271.6 1144.5L1272.0 1145.3L1272.5 1145.5L1272.9 1143.4L1273.3 1143.9L1273.7 1145.7L1274.1 1143.5L1274.6 1144.9L1275.0 1144.1L1275.4 1143.6L1275.8 1144.1L1276.2 1145.4L1276.7 1145.4L1277.1 1143.4L1277.5 1143.7L1277.9 1143.3L1278.3 1142.0L1278.8 1144.0L1279.2 1144.3L1279.6 1143.7L1280.0 1141.6L1280.4 1142.3L1280.9 1140.6L1281.3 1138.2L1281.7 1137.6L1282.1 1136.8L1282.5 1137.4L1283.0 1139.6L1283.4 1138.4L1283.8 1139.3L1284.2 1142.3L1284.6 1142.4L1285.1 1141.6L1285.5 1143.3L1285.9 1143.9L1286.3 1144.5L1286.7 1145.8L1287.2 1146.4L1287.6 1145.0L1288.0 1144.8L1288.4 1143.9L1288.8 1145.7L1289.3 1146.4L1289.7 1144.6L1290.1 1143.8L1290.5 1146.5L1290.9 1145.7L1291.4 1143.7L1291.8 1143.4L1292.2 1145.1L1292.6 1146.2L1293.0 1144.8L1293.5 1145.6L1293.9 1144.8L1294.3 1145.1L1294.7 1145.9L1295.1 1144.1L1295.6 1145.1L1296.0 1144.6L1296.4 1144.0L1296.8 1144.0L1297.2 1145.9L1297.7 1145.1L1298.1 1145.7L1298.5 1146.9L1298.9 1145.0L1299.3 1145.4L1299.8 1144.7L1300.2 1145.2L1300.6 1145.6L1301.0 1145.6L1301.4 1145.0L1301.9 1147.8L1302.3 1146.5L1302.7 1145.1L1303.1 1143.9L1303.5 1145.3L1304.0 1145.5L1304.4 1146.2L1304.8 1146.5L1305.2 1145.0L1305.6 1145.6L1306.1 1143.4L1306.5 1144.8L1306.9 1145.4L1307.3 1144.3L1307.7 1144.9L1308.2 1145.3L1308.6 1145.4L1309.0 1146.4L1309.4 1143.9L1309.8 1146.0L1310.3 1143.5L1310.7 1144.0L1311.1 1143.7L1311.5 1144.1L1311.9 1143.7L1312.4 1144.3L1312.8 1143.3L1313.2 1144.3L1313.6 1142.5L1314.0 1142.1L1314.5 1142.3L1314.9 1140.9L1315.3 1138.7L1315.7 1136.7L1316.1 1134.7L1316.6 1131.8L1317.0 1127.1L1317.8 1119.3L1318.7 1124.1L1319.1 1127.4L1319.5 1128.4L1319.9 1129.2L1320.3 1129.8L1320.8 1129.4L1321.2 1130.5L1321.6 1130.6L1322.0 1133.2L1322.4 1134.4L1322.9 1138.6L1323.3 1139.6L1323.7 1140.4L1324.1 1142.1L1324.5 1143.0L1325.0 1141.3L1325.4 1141.9L1325.8 1143.7L1326.2 1143.3L1326.6 1143.8L1327.1 1142.6L1327.5 1145.6L1327.9 1145.5L1328.3 1145.2L1328.7 1143.7L1329.2 1145.3L1329.6 1145.7L1330.0 1144.4L1330.4 1144.2L1330.8 1144.1L1331.3 1145.9L1331.7 1145.6L1332.1 1145.3L1332.5 1143.8L1332.9 1143.3L1333.4 1145.4L1333.8 1145.9L1334.2 1145.4L1334.6 1145.9L1335.0 1143.9L1335.5 1143.5L1335.9 1143.3L1336.3 1142.2L1336.7 1143.6L1337.1 1141.2L1337.6 1141.3L1338.0 1140.3L1338.4 1139.0L1338.8 1139.6L1339.2 1135.8L1339.7 1137.3L1340.1 1137.2L1340.5 1137.4L1340.9 1139.0L1341.3 1140.8L1341.8 1140.4L1342.2 1141.5L1342.6 1142.0L1343.0 1142.9L1343.4 1142.7L1343.9 1143.4L1344.3 1144.7L1344.7 1144.0L1345.1 1146.1L1345.5 1146.2L1346.0 1145.2L1346.4 1146.6L1346.8 1146.6L1347.2 1145.9L1347.6 1146.6L1348.1 1145.4L1348.5 1146.0L1348.9 1144.3L1349.3 1146.0L1349.7 1143.5L1350.2 1144.1L1350.6 1145.9L1351.0 1146.3L1351.4 1144.8L1351.8 1144.1L1352.3 1145.3L1352.7 1145.2L1353.1 1146.6L1353.5 1144.9L1353.9 1146.7L1354.4 1147.2L1354.8 1144.2L1355.2 1144.3L1355.6 1144.0L1356.0 1145.4L1356.5 1143.4L1356.9 1145.4L1357.3 1144.3L1357.7 1143.9L1358.1 1145.9L1358.6 1143.9L1359.0 1144.8L1359.4 1145.0L1359.8 1145.9L1360.2 1145.4L1360.7 1145.0L1361.1 1145.5L1361.5 1144.9L1361.9 1145.0L1362.3 1144.8L1362.8 1145.5L1363.2 1147.3L1363.6 1144.9L1364.0 1145.8L1364.4 1144.5L1364.9 1143.9L1365.3 1145.7L1365.7 1145.4L1366.1 1145.4L1366.5 1144.3L1367.0 1144.2L1367.4 1145.6L1367.8 1145.0L1368.2 1144.5L1368.6 1145.9L1369.1 1144.3L1369.5 1144.9L1369.9 1146.3L1370.3 1145.3L1370.7 1146.2L1371.2 1145.2L1371.6 1146.4L1372.0 1145.3L1372.4 1147.4L1372.8 1146.7L1373.3 1145.9L1373.7 1146.3L1374.1 1145.2L1374.5 1144.5L1374.9 1146.5L1375.4 1145.3L1375.8 1145.8L1376.2 1144.8L1376.6 1145.9L1377.0 1144.3L1377.5 1144.7L1377.9 1145.0L1378.3 1146.4L1378.7 1143.4L1379.1 1143.2L1379.6 1143.4L1380.0 1145.2L1380.4 1145.8L1380.8 1144.3L1381.2 1145.4L1381.7 1145.2L1382.1 1146.1L1382.5 1145.8L1382.9 1144.1L1383.3 1144.6L1383.8 1144.4L1384.2 1145.1L1384.6 1144.9L1385.0 1144.7L1385.4 1145.1L1385.9 1144.1L1386.3 1143.8L1386.7 1142.7L1387.1 1142.7L1387.5 1143.4L1388.0 1142.7L1388.4 1142.4L1388.8 1141.2L1389.2 1140.2L1389.6 1141.2L1390.1 1141.8L1390.5 1139.9L1390.9 1139.9L1391.3 1142.6L1391.7 1142.4L1392.2 1141.4L1392.6 1143.5L1393.0 1144.0L1393.4 1143.1L1393.8 1146.5L1394.3 1145.9L1394.7 1145.2L1395.1 1144.7L1395.5 1146.0L1395.9 1145.9L1396.4 1145.0L1396.8 1144.3L1397.2 1144.9L1397.6 1144.5L1398.0 1145.4L1398.5 1144.6L1398.9 1145.1L1399.3 1144.5L1399.7 1144.7L1400.1 1144.7L1400.6 1143.4L1401.0 1145.4L1401.4 1145.0L1401.8 1143.7L1402.2 1145.4L1402.7 1144.5L1403.1 1144.7L1403.5 1145.8L1403.9 1144.9L1404.3 1146.1L1404.8 1144.9L1405.2 1143.2L1405.6 1143.6L1406.0 1141.5L1406.4 1144.4L1406.9 1142.4L1407.3 1142.1L1407.7 1141.1L1408.1 1139.7L1408.5 1138.8L1409.0 1135.6L1409.4 1131.8L1410.2 1125.7L1411.1 1129.8L1411.5 1133.8L1411.9 1134.3L1412.3 1137.1L1412.7 1136.7L1413.2 1136.1L1413.6 1137.5L1414.0 1136.6L1414.4 1135.7L1414.8 1136.7L1415.3 1137.5L1415.7 1139.3L1416.1 1139.8L1416.5 1141.4L1416.9 1143.3L1417.4 1142.3L1417.8 1143.8L1418.2 1143.6L1418.6 1143.1L1419.0 1143.1L1419.5 1144.6L1419.9 1145.3L1420.3 1145.2L1420.7 1143.5L1421.1 1144.9L1421.6 1144.5L1422.0 1144.3L1422.4 1144.0L1422.8 1144.1L1423.2 1146.4L1423.7 1146.2L1424.1 1145.2L1424.5 1144.2L1424.9 1146.4L1425.3 1145.7L1425.8 1146.8L1426.2 1144.5L1426.6 1145.7L1427.0 1144.9L1427.4 1145.1L1427.9 1144.0L1428.3 1146.0L1428.7 1145.1L1429.1 1144.6L1429.5 1145.7L1430.0 1145.3L1430.4 1143.1L1430.8 1144.6L1431.2 1144.4L1431.6 1144.2L1432.1 1146.0L1432.5 1144.2L1432.9 1144.9L1433.3 1143.2L1433.7 1143.3L1434.2 1144.2L1434.6 1144.8L1435.0 1144.9L1435.4 1145.2L1435.8 1144.9L1436.3 1145.3L1436.7 1144.4L1437.1 1144.8L1437.5 1143.2L1437.9 1143.7L1438.4 1143.6L1438.8 1142.1L1439.2 1140.0L1439.6 1140.4L1440.0 1141.7L1440.5 1139.1L1440.9 1137.5L1441.3 1136.0L1441.7 1135.0L1442.1 1133.1L1442.6 1131.3L1443.0 1129.1L1443.4 1128.2L1443.8 1127.5L1444.3 1127.5L1445.1 1128.5L1445.5 1129.2L1445.9 1129.6L1446.3 1130.5L1446.8 1130.8L1447.2 1133.1L1447.6 1134.5L1448.0 1135.9L1448.4 1136.8L1448.9 1136.3L1449.3 1135.8L1449.7 1139.3L1450.1 1138.6L1450.5 1141.5L1451.0 1137.7L1451.4 1138.0L1451.8 1137.8L1452.2 1138.6L1452.6 1139.0L1453.1 1137.7L1453.5 1137.8L1453.9 1135.0L1454.3 1135.5L1454.7 1135.1L1455.2 1135.6L1455.6 1135.8L1456.0 1137.1L1456.4 1139.4L1456.8 1137.1L1457.3 1138.4L1457.7 1139.3L1458.1 1139.5L1458.5 1141.6L1458.9 1139.9L1459.4 1141.2L1459.8 1139.9L1460.2 1142.1L1460.6 1142.3L1461.0 1142.7L1461.5 1142.2L1461.9 1141.2L1462.3 1142.0L1462.7 1143.9L1463.1 1143.5L1463.6 1144.7L1464.0 1143.0L1464.4 1144.9L1464.8 1145.3L1465.2 1142.6L1465.7 1144.6L1466.1 1146.2L1466.5 1144.3L1466.9 1146.4L1467.3 1145.9L1467.8 1146.8L1468.2 1146.0L1468.6 1145.6L1469.0 1145.2L1469.4 1144.7L1469.9 1144.8L1470.3 1144.9L1470.7 1146.7L1471.1 1145.2L1471.5 1144.4L1472.0 1144.6L1472.4 1146.1L1472.8 1143.7L1473.2 1145.6L1473.6 1145.6L1474.1 1145.9L1474.5 1144.3L1474.9 1144.0L1475.3 1145.1L1475.7 1145.5L1476.2 1146.1L1476.6 1144.0L1477.0 1143.1L1477.4 1142.3L1477.8 1143.4L1478.3 1143.3L1478.7 1143.8L1479.1 1141.8L1479.5 1141.7L1479.9 1140.8L1480.4 1138.2L1480.8 1136.9L1481.2 1136.5L1481.6 1136.3L1482.0 1135.5L1482.5 1137.3L1482.9 1138.0L1483.3 1138.9L1483.7 1138.5L1484.1 1138.7L1484.6 1139.8L1485.0 1138.8L1485.4 1140.3L1485.8 1139.7L1486.2 1141.6L1486.7 1138.7L1487.1 1140.5L1487.5 1140.2L1487.9 1139.8L1488.3 1140.8L1488.8 1141.0L1489.2 1142.9L1489.6 1144.5L1490.0 1143.5L1490.4 1145.6L1490.9 1144.4L1491.3 1145.5L1491.7 1145.2L1492.1 1144.0L1492.5 1146.0L1493.0 1145.0L1493.4 1145.8L1493.8 1144.1L1494.2 1143.5L1494.6 1143.9L1495.1 1144.8L1495.5 1145.0L1495.9 1145.0L1496.3 1144.1L1496.7 1145.4L1497.2 1143.9L1497.6 1143.9L1498.0 1145.1L1498.4 1144.4L1498.8 1143.1L1499.3 1144.9L1499.7 1144.3L1500.1 1145.0L1500.5 1146.9L1500.9 1144.9L1501.4 1145.9L1501.8 1145.7L1502.2 1147.4L1502.6 1143.7L1503.0 1145.6L1503.5 1146.4L1503.9 1147.1L1504.3 1145.5L1504.7 1145.2L1505.1 1146.6L1505.6 1144.3L1506.0 1145.0L1506.4 1145.0L1506.8 1145.1L1507.2 1143.8L1507.7 1144.8L1508.1 1144.9L1508.5 1145.2L1508.9 1146.7L1509.3 1146.1L1509.8 1145.6L1510.2 1144.9L1510.6 1146.5L1511.0 1144.8L1511.4 1144.8L1511.9 1142.9L1512.3 1143.2L1512.7 1145.4L1513.1 1144.4L1513.5 1142.6L1514.0 1144.7L1514.4 1144.5L1514.8 1143.3L1515.2 1144.7L1515.6 1144.5L1516.1 1144.7L1516.5 1145.3L1516.9 1144.1L1517.3 1145.4L1517.7 1143.8L1518.2 1143.9L1518.6 1145.5L1519.0 1144.9L1519.4 1143.6L1519.8 1142.9L1520.3 1143.2L1520.7 1142.3L1521.1 1143.9L1521.5 1142.6L1521.9 1141.4L1522.4 1141.5L1522.8 1142.3L1523.2 1140.4L1523.6 1142.9L1524.0 1138.9L1524.5 1139.0L1524.9 1136.0L1525.3 1136.1L1525.7 1133.6L1526.1 1130.8L1526.6 1125.1L1527.0 1117.3L1527.4 1108.8L1527.8 1098.2L1528.4 1090.2L1529.1 1096.8L1529.5 1103.3L1529.9 1110.8L1530.3 1117.0L1530.8 1118.5L1531.2 1120.3L1531.6 1119.2L1532.0 1119.9L1532.4 1118.1L1532.9 1118.2L1533.3 1120.2L1533.7 1122.8L1534.1 1124.9L1534.5 1126.0L1535.0 1130.9L1535.4 1133.6L1535.8 1135.2L1536.2 1137.1L1536.6 1139.8L1537.1 1140.6L1537.5 1141.2L1537.9 1141.5L1538.3 1142.9L1538.7 1142.9L1539.2 1141.9L1539.6 1142.4L1540.0 1141.4L1540.4 1140.0L1540.8 1140.8L1541.3 1140.6L1541.7 1140.2L1542.1 1135.3L1542.5 1135.4L1542.9 1133.8L1543.4 1133.4L1543.8 1131.3L1544.2 1131.8L1544.6 1132.8L1545.0 1131.3L1545.5 1131.9L1545.9 1133.9L1546.3 1133.9L1546.7 1132.4L1547.1 1136.9L1547.6 1135.8L1548.0 1137.6L1548.4 1137.3L1548.8 1138.1L1549.2 1139.2L1549.7 1141.3L1550.1 1140.6L1550.5 1140.4L1550.9 1141.4L1551.3 1141.7L1551.8 1139.8L1552.2 1143.0L1552.6 1142.2L1553.0 1143.8L1553.4 1144.8L1553.9 1144.0L1554.3 1143.8L1554.7 1143.2L1555.1 1144.1L1555.5 1143.3L1556.0 1144.3L1556.4 1143.8L1556.8 1143.4L1557.2 1146.0L1557.6 1146.5L1558.1 1145.1L1558.5 1145.9L1558.9 1145.0L1559.3 1144.1L1559.7 1144.7L1560.2 1144.5L1560.6 1144.1L1561.0 1145.7L1561.4 1145.0L1561.8 1144.6L1562.3 1144.9L1562.7 1144.2L1563.1 1145.0L1563.5 1145.6L1563.9 1143.6L1564.4 1143.5L1564.8 1145.9L1565.2 1146.9L1565.6 1145.2L1566.0 1144.9L1566.5 1144.5L1566.9 1145.7L1567.3 1145.8L1567.7 1145.6L1568.1 1146.4L1568.6 1144.7L1569.0 1145.1L1569.4 1144.4L1569.8 1146.5L1570.2 1146.3L1570.7 1146.4L1571.1 1144.7L1571.5 1146.8L1571.9 1146.0L1572.3 1146.6L1572.8 1146.5L1573.2 1145.4L1573.6 1145.5L1574.0 1144.5L1574.4 1145.4L1574.9 1145.7L1575.3 1144.8L1575.7 1145.8L1576.1 1147.0L1576.5 1145.7L1577.0 1145.2L1577.4 1144.6L1577.8 1145.4L1578.2 1146.8L1578.6 1145.2L1579.1 1145.3L1579.5 1144.7L1579.9 1146.1L1580.3 1145.7L1580.7 1144.7L1581.2 1145.6L1581.6 1145.3L1582.0 1146.3L1582.4 1147.2L1582.8 1146.7L1583.3 1146.7L1583.7 1146.1L1584.1 1145.4L1584.5 1145.2L1584.9 1145.4L1585.4 1145.7L1585.8 1145.4L1586.2 1146.1L1586.6 1145.7L1587.0 1146.6L1587.5 1146.1L1587.9 1145.1L1588.3 1145.9L1588.7 1144.8L1589.1 1147.1L1589.6 1144.5L1590.0 1144.8L1590.4 1147.0L1590.8 1144.2L1591.2 1143.9L1591.7 1144.5L1592.1 1144.6L1592.5 1145.2L1592.9 1145.8L1593.3 1145.9L1593.8 1144.6L1594.2 1145.7L1594.6 1145.1L1595.0 1145.8L1595.4 1146.3L1595.9 1143.8L1596.3 1145.4L1596.7 1146.1L1597.1 1143.8L1597.5 1143.5L1598.0 1146.3L1598.4 1146.0L1598.8 1147.4L1599.2 1146.6L1599.6 1146.8L1600.1 1146.6L1600.5 1146.4L1600.9 1145.2L1601.3 1145.7L1601.7 1146.7L1602.2 1145.6L1602.6 1145.9L1603.0 1145.3L1603.4 1145.3L1603.8 1144.8L1604.3 1146.5L1604.7 1145.3L1605.1 1146.4L1605.5 1144.4L1605.9 1145.7L1606.4 1145.6L1606.8 1144.9L1607.2 1144.2L1607.6 1145.6L1608.0 1145.9L1608.5 1145.4L1608.9 1145.6L1609.3 1146.9L1609.7 1145.7L1610.1 1145.5L1610.6 1146.8L1611.0 1146.2L1611.4 1145.4L1611.8 1146.4L1612.2 1145.2L1612.7 1146.4L1613.1 1144.9L1613.5 1145.3L1613.9 1145.8L1614.3 1145.3L1614.8 1145.3L1615.2 1145.1L1615.6 1145.3L1616.0 1144.7L1616.4 1145.1L1616.9 1144.4L1617.3 1146.5L1617.7 1144.4L1618.1 1146.2L1618.5 1144.4L1619.0 1145.5L1619.4 1147.0L1619.8 1145.6L1620.2 1148.2L1620.6 1145.7L1621.1 1145.7L1621.5 1146.7L1621.9 1145.2L1622.3 1146.5L1622.7 1145.9L1623.2 1144.0L1623.6 1144.9L1624.0 1145.9L1624.4 1147.1L1624.8 1145.5L1625.3 1145.4L1625.7 1146.3L1626.1 1144.4L1626.5 1145.2L1626.9 1144.0L1627.4 1146.2L1627.8 1146.4L1628.2 1144.1L1628.6 1143.4L1629.0 1143.7L1629.5 1146.0L1629.9 1144.6L1630.3 1145.5L1630.7 1143.2L1631.1 1143.8L1631.6 1144.6L1632.0 1145.1L1632.4 1143.5L1632.8 1142.8L1633.2 1143.7L1633.7 1143.3L1634.1 1143.9L1634.5 1143.1L1634.9 1142.1L1635.3 1142.2L1635.8 1139.9L1636.2 1141.6L1636.6 1142.5L1637.0 1142.3L1637.4 1141.1L1637.9 1140.3L1638.3 1142.9L1638.7 1141.8L1639.1 1142.2L1639.5 1142.7L1640.0 1141.8L1640.4 1142.3L1640.8 1143.5L1641.2 1141.9L1641.6 1145.0L1642.1 1144.4L1642.5 1144.6L1642.9 1145.4L1643.3 1146.0L1643.7 1145.9L1644.2 1144.6L1644.6 1143.5L1645.0 1145.9L1645.4 1144.4L1645.8 1144.0L1646.3 1145.8L1646.7 1145.9L1647.1 1145.9L1647.5 1146.2L1647.9 1146.6L1648.4 1148.2L1648.8 1147.0L1649.2 1145.6L1649.6 1145.4L1650.0 1146.2L1650.5 1145.4L1650.9 1144.9L1651.3 1146.1L1651.7 1145.6L1652.1 1144.6L1652.6 1145.5L1653.0 1144.9L1653.4 1144.7L1653.8 1145.0L1654.2 1144.0L1654.7 1145.5L1655.1 1145.5L1655.5 1145.4L1655.9 1145.6L1656.3 1145.2L1656.8 1144.5L1657.2 1145.1L1657.6 1145.1L1658.0 1146.9L1658.4 1144.0L1658.9 1145.6L1659.3 1146.7L1659.7 1144.7L1660.1 1144.7L1660.5 1145.2L1661.0 1144.4L1661.4 1146.7L1661.8 1145.9L1662.2 1145.5L1662.6 1145.3L1663.1 1145.4L1663.5 1145.1L1663.9 1145.0L1664.3 1146.3L1664.7 1144.8L1665.2 1145.4L1665.6 1146.1L1666.0 1145.0L1666.4 1145.5L1666.8 1144.6L1667.3 1146.9L1667.7 1144.8L1668.1 1146.2L1668.5 1145.0L1668.9 1144.5L1669.4 1145.2L1669.8 1145.2L1670.2 1145.5L1670.6 1145.9L1671.0 1146.3L1671.5 1147.0L1671.9 1147.4L1672.3 1145.7L1672.7 1147.1L1673.1 1147.1L1673.6 1144.9L1674.0 1144.7L1674.4 1145.1L1674.8 1146.9L1675.2 1144.8L1675.7 1144.5L1676.1 1145.7L1676.5 1144.3L1676.9 1144.3L1677.3 1145.1L1677.8 1144.5L1678.2 1142.5L1678.6 1143.2L1679.0 1144.6L1679.4 1141.9L1679.9 1144.1L1680.3 1143.2L1680.7 1143.3L1681.1 1143.1L1681.5 1141.2L1682.0 1141.7L1682.4 1141.1L1682.8 1142.2L1683.2 1143.2L1683.6 1141.9L1684.1 1142.6L1684.5 1141.3L1684.9 1142.7L1685.3 1142.6L1685.7 1142.7L1686.2 1144.3L1686.6 1146.2L1687.0 1145.3L1687.4 1145.4L1687.8 1143.4L1688.3 1145.3L1688.7 1144.8L1689.1 1143.3L1689.5 1145.6L1689.9 1144.9L1690.4 1146.0L1690.8 1145.3L1691.2 1144.8L1691.6 1146.2L1692.0 1145.0L1692.5 1145.2L1692.9 1145.5L1693.3 1145.2L1693.7 1143.9L1694.1 1145.0L1694.6 1145.0L1695.0 1144.8L1695.4 1144.3L1695.8 1146.4L1696.2 1146.8L1696.7 1146.7L1697.1 1146.7L1697.5 1147.7L1697.9 1146.1L1698.3 1147.1L1698.8 1145.8L1699.2 1145.4L1699.6 1146.0L1700.0 1145.3L1700.4 1145.4L1700.9 1146.3L1701.3 1145.7L1701.7 1146.8L1702.1 1147.6L1702.5 1147.5L1703.0 1146.2L1703.4 1145.2L1703.8 1147.3L1704.2 1144.4L1704.6 1143.6L1705.1 1143.4L1705.5 1146.5L1705.9 1143.9L1706.3 1144.7L1706.7 1144.9L1707.2 1146.4L1707.6 1144.4L1708.0 1145.9L1708.4 1146.1L1708.8 1146.9L1709.3 1145.1L1709.7 1145.4L1710.1 1144.8L1710.5 1145.7L1710.9 1145.1L1711.4 1143.4L1711.8 1144.3L1712.2 1142.1L1712.6 1142.6L1713.0 1141.2L1713.5 1141.1L1713.9 1141.8L1714.3 1142.7L1714.7 1141.5L1715.1 1141.3L1715.6 1141.0L1716.0 1142.3L1716.4 1141.5L1716.8 1142.3L1717.2 1143.1L1717.7 1143.3L1718.1 1143.5L1718.5 1144.9L1718.9 1143.4L1719.3 1142.5L1719.8 1144.8L1720.2 1145.2L1720.6 1145.4L1721.0 1144.0L1721.4 1141.5L1721.9 1142.5L1722.3 1144.0L1722.7 1143.2L1723.1 1144.9L1723.5 1142.7L1724.0 1143.2L1724.4 1142.5L1724.8 1142.0L1725.2 1140.3L1725.6 1141.5L1726.1 1141.7L1726.5 1141.1L1726.9 1140.7L1727.3 1141.4L1727.7 1141.0L1728.2 1142.4L1728.6 1143.1L1729.0 1142.6L1729.4 1142.3L1729.8 1142.2L1730.3 1143.4L1730.7 1142.0L1731.1 1144.0L1731.5 1145.1L1731.9 1144.5L1732.4 1145.9L1732.8 1143.9L1733.2 1145.4L1733.6 1145.1L1734.0 1145.0L1734.5 1144.7L1734.9 1147.0L1735.3 1143.6L1735.7 1143.3L1736.1 1143.8L1736.6 1145.3L1737.0 1144.9L1737.4 1144.7L1737.8 1144.2L1738.2 1144.5L1738.7 1144.2L1739.1 1146.0L1739.5 1144.3L1739.9 1147.1L1740.3 1146.0L1740.8 1145.0L1741.2 1146.6L1741.6 1147.0L1742.0 1144.7L1742.4 1144.0L1742.9 1146.7L1743.3 1144.6L1743.7 1146.5L1744.1 1146.4L1744.5 1144.2L1745.0 1146.1L1745.4 1146.0L1745.8 1146.8L1746.2 1145.6L1746.6 1145.9L1747.1 1145.5L1747.5 1144.7L1747.9 1146.5L1748.3 1146.5L1748.7 1147.5L1749.2 1146.1L1749.6 1146.3L1750.0 1144.7L1750.4 1145.2L1750.8 1146.5L1751.3 1145.5L1751.7 1145.6L1752.1 1146.4L1752.5 1145.0L1752.9 1146.6L1753.4 1146.4L1753.8 1145.4L1754.2 1144.7L1754.6 1147.2L1755.0 1146.0L1755.5 1144.5L1755.9 1145.0L1756.3 1144.4L1756.7 1144.3L1757.1 1144.2L1757.6 1145.2L1758.0 1146.1L1758.4 1146.5L1758.8 1145.7L1759.2 1146.4L1759.7 1145.9L1760.1 1144.4L1760.5 1144.5L1760.9 1145.4L1761.3 1145.8L1761.8 1146.1L1762.2 1143.9L1762.6 1143.6L1763.0 1147.2L1763.4 1145.5L1763.9 1146.9L1764.3 1145.8L1764.7 1144.3L1765.1 1146.5L1765.5 1145.8L1766.0 1147.6L1766.4 1147.5L1766.8 1146.0L1767.2 1146.2L1767.6 1147.0L1768.1 1146.1L1768.5 1147.5L1768.9 1148.3L1769.3 1145.6L1769.7 1146.2L1770.2 1146.4L1770.6 1146.7L1771.0 1145.6L1771.4 1144.9L1771.8 1146.1L1772.3 1145.3L1772.7 1146.0L1773.1 1145.6L1773.5 1145.3L1773.9 1146.5L1774.4 1146.5L1774.8 1144.0L1775.2 1145.8L1775.6 1145.4L1776.0 1145.3L1776.5 1145.7L1776.9 1146.6L1777.3 1145.5L1777.7 1145.7L1778.1 1145.0L1778.6 1145.9L1779.0 1145.7L1779.4 1144.7L1779.8 1145.1L1780.2 1145.4L1780.7 1146.3L1781.1 1145.3L1781.5 1147.2L1781.9 1145.9L1782.3 1145.8L1782.8 1145.7L1783.2 1145.3L1783.6 1144.9L1784.0 1145.1L1784.4 1144.6L1784.9 1144.6L1785.3 1146.1L1785.7 1146.9L1786.1 1145.7L1786.5 1145.8L1787.0 1144.2L1787.4 1143.3L1787.8 1145.1L1788.2 1145.6L1788.6 1146.4L1789.1 1146.5L1789.5 1144.7L1789.9 1145.6L1790.3 1145.4L1790.7 1144.6L1791.2 1144.9L1791.6 1143.4L1792.0 1143.1L1792.4 1140.4L1792.8 1139.5L1793.3 1140.7L1793.7 1140.6L1794.1 1139.9L1794.5 1136.6L1794.9 1134.4L1795.4 1128.9L1795.8 1123.1L1796.2 1115.1L1797.0 1105.7L1797.5 1108.0L1797.9 1112.1L1798.3 1116.9L1798.7 1122.0L1799.1 1123.7L1799.6 1122.8L1800.0 1125.6L1800.4 1123.3L1800.8 1123.9L1801.2 1124.3L1801.7 1126.7L1802.1 1126.8L1802.5 1130.5L1802.9 1132.2L1803.3 1135.2L1803.8 1135.7L1804.2 1139.0L1804.6 1140.1L1805.0 1140.8L1805.4 1142.8L1805.9 1144.2L1806.3 1144.3L1806.7 1143.7L1807.1 1144.4L1807.5 1142.7L1808.0 1144.0L1808.4 1144.3L1808.8 1144.1L1809.2 1144.1L1809.6 1144.7L1810.1 1144.5L1810.5 1145.0L1810.9 1145.6L1811.3 1143.4L1811.7 1146.6L1812.2 1145.8L1812.6 1145.2L1813.0 1144.1L1813.4 1144.9L1813.8 1144.7L1814.3 1145.8L1814.7 1145.9L1815.1 1146.5L1815.5 1145.4L1815.9 1143.8L1816.4 1144.9L1816.8 1145.4L1817.2 1145.9L1817.6 1143.9L1818.0 1145.1L1818.5 1145.6L1818.9 1144.7L1819.3 1144.7L1819.7 1146.5L1820.1 1145.1L1820.6 1147.2L1821.0 1145.6L1821.4 1144.8L1821.8 1146.0L1822.2 1145.2L1822.7 1145.8L1823.1 1144.0L1823.5 1145.4L1823.9 1144.3L1824.3 1146.0L1824.8 1145.1L1825.2 1144.6L1825.6 1144.3L1826.0 1146.0L1826.4 1146.0L1826.9 1145.5L1827.3 1148.0L1827.7 1146.0L1828.1 1146.7L1828.5 1147.7L1829.0 1147.0L1829.4 1146.7L1829.8 1146.6L1830.2 1147.5L1830.6 1146.6L1831.1 1145.6L1831.5 1145.4L1831.9 1145.1L1832.3 1145.1L1832.7 1145.1L1833.2 1145.6L1833.6 1146.8L1834.0 1145.0L1834.4 1144.8L1834.8 1144.5L1835.3 1145.5L1835.7 1146.0L1836.1 1144.7L1836.5 1145.7L1836.9 1144.1L1837.4 1145.7L1837.8 1146.2L1838.2 1144.9L1838.6 1143.8L1839.0 1146.1L1839.5 1145.5L1839.9 1146.5L1840.3 1144.4L1840.7 1145.0L1841.1 1144.7L1841.6 1145.0L1842.0 1143.7L1842.4 1146.6L1842.8 1146.0L1843.2 1146.2L1843.7 1146.6L1844.1 1147.0L1844.5 1146.2L1844.9 1145.2L1845.3 1145.4L1845.8 1146.0L1846.2 1145.6L1846.6 1145.6L1847.0 1145.6L1847.4 1145.6L1847.9 1144.4L1848.3 1144.5L1848.7 1145.6L1849.1 1146.2L1849.5 1145.7L1850.0 1143.8L1850.4 1144.2L1850.8 1146.2L1851.2 1147.8L1851.6 1147.5L1852.1 1145.9L1852.5 1145.5L1852.9 1145.4L1853.3 1147.4L1853.7 1145.9L1854.2 1144.9L1854.6 1146.8L1855.0 1146.5L1855.4 1143.6L1855.8 1144.6L1856.3 1146.1L1856.7 1146.1L1857.1 1143.7L1857.5 1144.2L1857.9 1145.0L1858.4 1144.9L1858.8 1143.7L1859.2 1144.4L1859.6 1144.7L1860.0 1144.4L1860.5 1143.1L1860.9 1145.5L1861.3 1143.5L1861.7 1141.2L1862.1 1142.2L1862.6 1141.2L1863.0 1142.4L1863.4 1142.8L1863.8 1144.4L1864.2 1142.4L1864.7 1142.2L1865.1 1142.8L1865.5 1142.2L1865.9 1140.8L1866.3 1142.5L1866.8 1142.3L1867.2 1143.4L1867.6 1143.2L1868.0 1141.4L1868.4 1141.6L1868.9 1141.9L1869.3 1142.4L1869.7 1143.6L1870.1 1143.4L1870.5 1143.0L1871.0 1145.3L1871.4 1145.5L1871.8 1144.3L1872.2 1143.2L1872.6 1143.9L1873.1 1144.2L1873.5 1144.7L1873.9 1144.9L1874.3 1146.0L1874.7 1146.1L1875.2 1145.9L1875.6 1144.4L1876.0 1145.3L1876.4 1146.6L1876.8 1145.0L1877.3 1144.8L1877.7 1147.4L1878.1 1146.0L1878.5 1145.1L1878.9 1146.7L1879.4 1145.8L1879.8 1146.1L1880.2 1146.8L1880.6 1145.4L1881.0 1144.8L1881.5 1146.6L1881.9 1146.7L1882.3 1145.1L1882.7 1145.7L1883.1 1146.2L1883.6 1145.3L1884.0 1146.0L1884.4 1145.2L1884.8 1144.9L1885.2 1145.0L1885.7 1145.1L1886.1 1145.4L1886.5 1144.0L1886.9 1144.9L1887.3 1146.5L1887.8 1146.9L1888.2 1145.6L1888.6 1145.9L1889.0 1144.8L1889.4 1144.5L1889.9 1145.3L1890.3 1144.3L1890.7 1144.0L1891.1 1144.2L1891.5 1145.8L1892.0 1145.2L1892.4 1144.7L1892.8 1145.2L1893.2 1145.1L1893.6 1145.5L1894.1 1145.7L1894.5 1147.1L1894.9 1146.2L1895.3 1144.8L1895.7 1144.0L1896.2 1145.8L1896.6 1145.0L1897.0 1146.6L1897.4 1143.6L1897.8 1144.8L1898.3 1146.5L1898.7 1144.7L1899.1 1145.2L1899.5 1145.7L1899.9 1145.2L1900.4 1146.2L1900.8 1144.1L1901.2 1144.2L1901.6 1146.1L1902.0 1144.1L1902.5 1144.2L1902.9 1142.7L1903.3 1144.8L1903.7 1142.4L1904.1 1141.9L1904.6 1141.8L1905.0 1141.2L1905.4 1140.5L1905.8 1141.4L1906.2 1141.1L1906.7 1141.0L1907.1 1140.1L1907.5 1140.2L1907.9 1140.6L1908.3 1141.1L1908.8 1140.8L1909.2 1141.9L1909.6 1142.0L1910.0 1143.4L1910.4 1143.3L1910.9 1143.2L1911.3 1143.5L1911.7 1142.4L1912.1 1144.5L1912.5 1143.5L1913.0 1143.2L1913.4 1144.6L1913.8 1143.9L1914.2 1146.4L1914.6 1145.1L1915.1 1143.8L1915.5 1144.4L1915.9 1144.8L1916.3 1145.3L1916.7 1146.7L1917.2 1146.6L1917.6 1145.9L1918.0 1145.1L1918.4 1144.3L1918.8 1147.0L1919.3 1147.0L1919.7 1143.8L1920.1 1144.9L1920.5 1145.3L1920.9 1145.1L1921.4 1146.9L1921.8 1146.8L1922.2 1146.7L1922.6 1145.2L1923.0 1144.1L1923.5 1145.2L1923.9 1145.2L1924.3 1144.5L1924.7 1143.3L1925.1 1143.8L1925.6 1144.9L1926.0 1145.8L1926.4 1145.0L1926.8 1145.1L1927.2 1145.6L1927.7 1145.7L1928.1 1146.9L1928.5 1145.1L1928.9 1145.8L1929.3 1144.6L1929.8 1147.1L1930.2 1146.9L1930.6 1147.4L1931.0 1146.6L1931.4 1146.1L1931.9 1145.1L1932.3 1146.8L1932.7 1147.6L1933.1 1144.4L1933.5 1147.7L1934.0 1145.8L1934.4 1147.1L1934.8 1146.0L1935.2 1146.4L1935.6 1146.7L1936.1 1145.5L1936.5 1147.1L1936.9 1145.5L1937.3 1146.2L1937.7 1145.7L1938.2 1145.7L1938.6 1145.5L1939.0 1146.3L1939.4 1147.3L1939.8 1145.7L1940.3 1144.4L1940.7 1145.0L1941.1 1144.8L1941.5 1146.5L1941.9 1145.6L1942.4 1144.6L1942.8 1145.8L1943.2 1147.4L1943.6 1147.0L1944.0 1146.1L1944.5 1147.3L1944.9 1146.9L1945.3 1146.1L1945.7 1146.4L1946.1 1147.8L1946.6 1145.3L1947.0 1146.3L1947.4 1144.8L1947.8 1145.9L1948.2 1146.1L1948.7 1145.9L1949.1 1145.7L1949.5 1146.2L1949.9 1146.9L1950.3 1146.8L1950.8 1145.3L1951.2 1147.0L1951.6 1147.9L1952.0 1147.7L1952.4 1147.3L1952.9 1145.5L1953.3 1147.3L1953.7 1147.4L1954.1 1148.0L1954.5 1145.7L1955.0 1145.7L1955.4 1144.9L1955.8 1145.2L1956.2 1144.6L1956.6 1145.5L1957.1 1144.9L1957.5 1144.6L1957.9 1146.2L1958.3 1144.7L1958.7 1145.5L1959.2 1147.0L1959.6 1145.8L1960.0 1147.3L1960.4 1146.0L1960.8 1145.2L1961.3 1145.5L1961.7 1146.3L1962.1 1146.3L1962.5 1146.5L1962.9 1145.5L1963.4 1146.3L1963.8 1145.7L1964.2 1146.0L1964.6 1145.5L1965.0 1144.5L1965.5 1145.5L1965.9 1145.6L1966.3 1144.8L1966.7 1144.9L1967.1 1147.7L1967.6 1146.2L1968.0 1146.6L1968.4 1146.7L1968.8 1148.4L1969.2 1146.1L1969.7 1144.4L1970.1 1146.6L1970.5 1145.6L1970.9 1146.5L1971.3 1145.5L1971.8 1146.7L1972.2 1146.3L1972.6 1145.9L1973.0 1147.7L1973.4 1148.2L1973.9 1145.4L1974.3 1146.2L1974.7 1145.4L1975.1 1145.6L1975.5 1144.5L1976.0 1144.9L1976.4 1147.1L1976.8 1146.2L1977.2 1145.4L1977.6 1147.3L1978.1 1147.2L1978.5 1147.0L1978.9 1145.8L1979.3 1146.8L1979.7 1147.0L1980.2 1143.5L1980.6 1144.3L1981.0 1145.1L1981.4 1146.6L1981.8 1146.4L1982.3 1147.0L1982.7 1146.5L1983.1 1146.4L1983.5 1147.2L1983.9 1147.3L1984.4 1145.8L1984.8 1146.7L1985.2 1145.1L1985.6 1147.0L1986.0 1145.7L1986.5 1145.7L1986.9 1145.0L1987.3 1144.9L1987.7 1145.6L1988.1 1145.6L1988.6 1145.5L1989.0 1147.8L1989.4 1145.8L1989.8 1146.2L1990.2 1146.0L1990.7 1144.6L1991.1 1146.0L1991.5 1145.3L1991.9 1145.6L1992.3 1146.1L1992.8 1146.4L1993.2 1146.5L1993.6 1146.3L1994.0 1145.9L1994.4 1146.4L1994.9 1147.4L1995.3 1147.9L1995.7 1146.8L1996.1 1145.3L1996.5 1145.4L1997.0 1145.5L1997.4 1145.6L1997.8 1146.0L1998.2 1146.2L1998.6 1145.4L1999.1 1144.8L1999.5 1143.9L1999.9 1146.4L2000.3 1146.4L2000.7 1145.5L2001.2 1146.5L2001.6 1146.0L2002.0 1145.3L2002.4 1146.7L2002.8 1145.5L2003.3 1147.8L2003.7 1145.4L2004.1 1144.6L2004.5 1144.9L2004.9 1146.0L2005.4 1143.6L2005.8 1143.4L2006.2 1140.3L2006.6 1141.4L2007.0 1138.5L2007.5 1137.2L2007.9 1134.3L2008.3 1128.0L2008.7 1122.3L2009.5 1114.5L2010.0 1116.6L2010.4 1121.0L2010.8 1126.3L2011.2 1130.2L2011.7 1133.4L2012.1 1134.6L2012.5 1135.1L2012.9 1136.7L2013.3 1135.8L2013.8 1136.3L2014.2 1136.7L2014.6 1135.9L2015.0 1134.3L2015.4 1135.6L2015.9 1135.9L2016.3 1135.0L2016.7 1133.2L2017.1 1134.9L2017.5 1136.2L2018.0 1137.3L2018.4 1136.6L2018.8 1135.7L2019.2 1138.2L2019.6 1137.1L2020.1 1136.3L2020.5 1135.8L2020.9 1134.3L2021.3 1132.0L2021.7 1129.7L2022.2 1127.8L2022.6 1126.7L2023.4 1125.1L2024.3 1126.9L2024.7 1127.5L2025.1 1130.1L2025.5 1132.2L2025.9 1133.8L2026.4 1134.0L2026.8 1136.9L2027.2 1140.9L2027.6 1141.2L2028.0 1141.5L2028.5 1142.8L2028.9 1143.4L2029.3 1145.0L2029.7 1144.1L2030.1 1144.2L2030.6 1145.0L2031.0 1145.3L2031.4 1145.5L2031.8 1143.5L2032.2 1145.0L2032.7 1147.3L2033.1 1144.9L2033.5 1146.4L2033.9 1145.6L2034.3 1146.8L2034.8 1145.4L2035.2 1144.4L2035.6 1144.6L2036.0 1147.1L2036.4 1145.9L2036.9 1145.3L2037.3 1146.8L2037.7 1144.3L2038.1 1145.6L2038.5 1146.9L2039.0 1147.2L2039.4 1146.9L2039.8 1146.4L2040.2 1145.0L2040.6 1146.8L2041.1 1145.9L2041.5 1146.1L2041.9 1147.6L2042.3 1147.8L2042.7 1146.8L2043.2 1147.7L2043.6 1148.3L2044.0 1146.8L2044.4 1146.0L2044.8 1144.8L2045.3 1146.7L2045.7 1145.0L2046.1 1148.0L2046.5 1147.2L2046.9 1145.8L2047.4 1146.9L2047.8 1145.7L2048.2 1145.8L2048.6 1147.6L2049.0 1146.1L2049.5 1147.2L2049.9 1146.4L2050.3 1147.5L2050.7 1146.5L2051.1 1147.4L2051.6 1146.4L2052.0 1145.3L2052.4 1145.5L2052.8 1145.0L2053.2 1146.2L2053.7 1144.1L2054.1 1145.2L2054.5 1144.5L2054.9 1145.8L2055.3 1146.7L2055.8 1145.4L2056.2 1145.6L2056.6 1145.5L2057.0 1146.0L2057.4 1144.5L2057.9 1145.9L2058.3 1145.4L2058.7 1144.4L2059.1 1144.2L2059.5 1146.2L2060.0 1146.2L2060.4 1146.3L2060.8 1145.1L2061.2 1145.4L2061.6 1144.9L2062.1 1144.5L2062.5 1145.4L2062.9 1145.2L2063.3 1144.3L2063.7 1144.5L2064.2 1146.3L2064.6 1145.3L2065.0 1144.7L2065.4 1148.4L2065.8 1145.1L2066.3 1146.7L2066.7 1145.3L2067.1 1146.7L2067.5 1146.6L2067.9 1147.5L2068.4 1146.5L2068.8 1145.9L2069.2 1147.7L2069.6 1146.5L2070.0 1146.5L2070.5 1146.6L2070.9 1146.2L2071.3 1147.2L2071.7 1148.6L2072.1 1148.6L2072.6 1147.4L2073.0 1147.1L2073.4 1146.7L2073.8 1145.6L2074.2 1148.0L2074.7 1146.9L2075.1 1144.6L2075.5 1147.1L2075.9 1145.9L2076.3 1146.7L2076.8 1146.9L2077.2 1146.1L2077.6 1146.5L2078.0 1147.2L2078.4 1144.6L2078.9 1144.6L2079.3 1146.4L2079.7 1146.1L2080.1 1148.5L2080.5 1148.3L2081.0 1147.6L2081.4 1146.3L2081.8 1144.8L2082.2 1145.5L2082.6 1146.2L2083.1 1146.3L2083.5 1145.7L2083.9 1146.4L2084.3 1147.1L2084.7 1146.0L2085.2 1146.2L2085.6 1145.0L2086.0 1146.2L2086.4 1144.0L2086.8 1146.5L2087.3 1146.4L2087.7 1144.2L2088.1 1145.6L2088.5 1146.9L2088.9 1145.2L2089.4 1145.9L2089.8 1147.0L2090.2 1148.3L2090.6 1147.5L2091.0 1146.5L2091.5 1145.7L2091.9 1144.9L2092.3 1146.1L2092.7 1144.0L2093.1 1145.5L2093.6 1147.2L2094.0 1146.1L2094.4 1146.6L2094.8 1146.1L2095.2 1147.0L2095.7 1145.8L2096.1 1147.1L2096.5 1146.4L2096.9 1146.2L2097.3 1144.8L2097.8 1146.9L2098.2 1146.0L2098.6 1146.5L2099.0 1145.7L2099.4 1148.1L2099.9 1146.2L2100.3 1148.2L2100.7 1146.1L2101.1 1146.3L2101.5 1147.4L2102.0 1145.4L2102.4 1145.9L2102.8 1146.3L2103.2 1144.9L2103.6 1144.8L2104.1 1145.5L2104.5 1146.2L2104.9 1145.8L2105.3 1147.0L2105.7 1145.8L2106.2 1145.7L2106.6 1145.0L2107.0 1145.3L2107.4 1144.7L2107.8 1144.7L2108.3 1144.2L2108.7 1144.9L2109.1 1145.0L2109.5 1146.2L2109.9 1145.4L2110.4 1144.4L2110.8 1145.1L2111.2 1145.0L2111.6 1143.1L2112.0 1143.3L2112.5 1142.1L2112.9 1142.0L2113.3 1143.1L2113.7 1145.1L2114.1 1146.1L2114.6 1144.7L2115.0 1143.3L2115.4 1144.5L2115.8 1143.2L2116.2 1144.9L2116.7 1143.8L2117.1 1144.6L2117.5 1146.1L2117.9 1146.7L2118.3 1145.0L2118.8 1145.3L2119.2 1143.8L2119.6 1144.9L2120.0 1147.0L2120.4 1147.2L2120.9 1147.1L2121.3 1146.5L2121.7 1147.9L2122.1 1146.5L2122.5 1146.4L2123.0 1148.6L2123.4 1146.3L2123.8 1147.4L2124.2 1146.8L2124.6 1148.5L2125.1 1146.8L2125.5 1146.8L2125.9 1147.0L2126.3 1147.8L2126.7 1145.7L2127.2 1145.2L2127.6 1146.1L2128.0 1145.7L2128.4 1146.8L2128.8 1145.8L2129.3 1145.5L2129.7 1146.7L2130.1 1146.8L2130.5 1147.2L2130.9 1146.5L2131.4 1144.8L2131.8 1146.4L2132.2 1146.4L2132.6 1146.3L2133.0 1147.0L2133.5 1146.6L2133.9 1147.8L2134.3 1146.4L2134.7 1147.6L2135.1 1145.2L2135.6 1144.5L2136.0 1145.4L2136.4 1148.4L2136.8 1146.2L2137.2 1146.1L2137.7 1146.5L2138.1 1146.1L2138.5 1147.0L2138.9 1146.8L2139.3 1148.0L2139.8 1147.0L2140.2 1146.5L2140.6 1146.9L2141.0 1147.0L2141.4 1145.8L2141.9 1147.5L2142.3 1146.0L2142.7 1147.7L2143.1 1147.0L2143.5 1147.3L2144.0 1147.5L2144.4 1146.5L2144.8 1145.4L2145.2 1145.6L2145.6 1146.9L2146.1 1146.5L2146.5 1146.8L2146.9 1146.6L2147.3 1146.3L2147.7 1147.3L2148.2 1146.5L2148.6 1147.1L2149.0 1145.9L2149.4 1144.6L2149.8 1147.0L2150.3 1147.5L2150.7 1146.3L2151.1 1147.3L2151.5 1146.9L2151.9 1145.5L2152.4 1147.2L2152.8 1144.2L2153.2 1145.8L2153.6 1146.5L2154.0 1145.4L2154.5 1148.1L2154.9 1145.9L2155.3 1147.3L2155.7 1146.1L2156.1 1147.5L2156.6 1146.8L2157.0 1148.4L2157.4 1147.7L2157.8 1148.4L2158.2 1147.4L2158.7 1146.7L2159.1 1146.3L2159.5 1146.7L2159.9 1146.9L2160.3 1146.7L2160.8 1146.7L2161.2 1146.0L2161.6 1146.0L2162.0 1143.9L2162.4 1144.9L2162.9 1142.9L2163.3 1143.8L2163.7 1144.0L2164.1 1142.6L2164.5 1142.6L2165.0 1144.2L2165.4 1143.7L2165.8 1144.6L2166.2 1145.1L2166.6 1144.3L2167.1 1144.0L2167.5 1143.8L2167.9 1145.2L2168.3 1142.7L2168.7 1143.7L2169.2 1144.4L2169.6 1144.3L2170.0 1144.1L2170.4 1143.9L2170.8 1145.4L2171.3 1144.9L2171.7 1143.7L2172.1 1145.7L2172.5 1144.4L2172.9 1145.0L2173.4 1143.5L2173.8 1143.3L2174.2 1145.7L2174.6 1147.0L2175.0 1144.0L2175.5 1145.3L2175.9 1146.1L2176.3 1145.7L2176.7 1146.0L2177.1 1146.2L2177.6 1145.3L2178.0 1147.4L2178.4 1147.4L2178.8 1146.6L2179.2 1144.8L2179.7 1148.8L2180.1 1147.7L2180.5 1148.4L2180.9 1149.1L2181.3 1148.2L2181.8 1146.8L2182.2 1147.6L2182.6 1147.2L2183.0 1146.3L2183.4 1146.8L2183.9 1144.9L2184.3 1145.2L2184.7 1147.2L2185.1 1148.2L2185.5 1145.9L2186.0 1147.7L2186.4 1147.1L2186.8 1148.9L2187.2 1146.5L2187.6 1148.1L2188.1 1146.9L2188.5 1146.7L2188.9 1147.5L2189.3 1145.7L2189.7 1147.9L2190.2 1147.3L2190.6 1147.7L2191.0 1146.9L2191.4 1145.6L2191.8 1145.8L2192.3 1147.0L2192.7 1145.9L2193.1 1147.3L2193.5 1145.5L2193.9 1146.9L2194.4 1146.3L2194.8 1147.8L2195.2 1146.7L2195.6 1147.0L2196.0 1145.8L2196.5 1146.8L2196.9 1146.9L2197.3 1146.0L2197.7 1146.9L2198.1 1145.6L2198.6 1146.3L2199.0 1146.9L2199.4 1146.4L2199.8 1147.5L2200.2 1146.7L2200.7 1145.6L2201.1 1145.7L2201.5 1146.8L2201.9 1146.3L2202.3 1146.6L2202.8 1145.8L2203.2 1147.2L2203.6 1146.3L2204.0 1146.1L2204.4 1146.8L2204.9 1144.9L2205.3 1147.2L2205.7 1147.2L2206.1 1148.1L2206.5 1147.8L2207.0 1147.1L2207.4 1147.2L2207.8 1144.9L2208.2 1146.2L2208.6 1148.2L2209.1 1148.3L2209.5 1146.2L2209.9 1147.7L2210.3 1147.0L2210.7 1145.0L2211.2 1145.9L2211.6 1146.9L2212.0 1146.9L2212.4 1148.6L2212.8 1147.4L2213.3 1147.3L2213.7 1145.4L2214.1 1145.1L2214.5 1146.0L2214.9 1147.3L2215.4 1147.6L2215.8 1145.3L2216.2 1145.3L2216.6 1143.6L2217.0 1146.9L2217.5 1144.9L2217.9 1146.5L2218.3 1146.0L2218.7 1143.0L2219.1 1143.1L2219.6 1144.5L2220.0 1145.0L2220.4 1143.3L2220.8 1143.2L2221.2 1144.4L2221.7 1144.9L2222.1 1142.9L2222.5 1143.4L2222.9 1145.2L2223.3 1144.7L2223.8 1144.1L2224.2 1145.0L2224.6 1145.6L2225.0 1146.3L2225.4 1145.9L2225.9 1146.1L2226.3 1144.4L2226.7 1145.8L2227.1 1145.9L2227.5 1146.1L2228.0 1146.2L2228.4 1146.8L2228.8 1148.1L2229.2 1146.7L2229.6 1145.5L2230.1 1147.4L2230.5 1146.3L2230.9 1146.8L2231.3 1147.5L2231.7 1146.4L2232.2 1146.4L2232.6 1145.8L2233.0 1148.2L2233.4 1145.7L2233.8 1148.0L2234.3 1146.2L2234.7 1146.9L2235.1 1146.8L2235.5 1147.7L2235.9 1147.2L2236.4 1146.6L2236.8 1145.6L2237.2 1147.7L2237.6 1146.8L2238.0 1147.0L2238.5 1146.8L2238.9 1146.6L2239.3 1147.1L2239.7 1146.6L2240.1 1147.5L2240.6 1147.0L2241.0 1145.5L2241.4 1147.2L2241.8 1146.4L2242.2 1146.0L2242.7 1144.6L2243.1 1146.1L2243.5 1147.5L2243.9 1146.4L2244.3 1146.4L2244.8 1147.1L2245.2 1147.4L2245.6 1146.5L2246.0 1147.1L2246.4 1147.4L2246.9 1147.4L2247.3 1145.5L2247.7 1145.9L2248.1 1147.7L2248.5 1146.8L2249.0 1145.8L2249.4 1147.2L2249.8 1147.0L2250.2 1147.4L2250.6 1147.3L2251.1 1147.0L2251.5 1145.6L2251.9 1144.7L2252.3 1145.5L2252.7 1147.8L2253.2 1145.9L2253.6 1147.5L2254.0 1145.1L2254.4 1145.7L2254.8 1147.2L2255.3 1146.4L2255.7 1146.6L2256.1 1145.3L2256.5 1146.2L2256.9 1146.9L2257.4 1145.3L2257.8 1147.5L2258.2 1147.1L2258.6 1146.7L2259.0 1144.1L2259.5 1147.0L2259.9 1145.2L2260.3 1145.9L2260.7 1145.7L2261.1 1145.0L2261.6 1145.4L2262.0 1146.2L2262.4 1147.5L2262.8 1148.1L2263.2 1147.2L2263.7 1148.0L2264.1 1147.4L2264.5 1148.1L2264.9 1145.8L2265.3 1146.6L2265.8 1146.1L2266.2 1146.8L2266.6 1147.8L2267.0 1148.1L2267.4 1147.0L2267.9 1147.3L2268.3 1146.8L2268.7 1147.4L2269.1 1146.8L2269.5 1147.5L2270.0 1146.8L2270.4 1147.3L2270.8 1145.9L2271.2 1146.1L2271.6 1147.3L2272.1 1145.9L2272.5 1143.6L2272.9 1145.6L2273.3 1145.2L2273.7 1144.1L2274.2 1144.2L2274.6 1143.6L2275.0 1143.3L2275.4 1142.5L2275.8 1141.5L2276.3 1141.6L2276.7 1140.9L2277.1 1142.2L2277.5 1142.3L2277.9 1141.1L2278.4 1141.0L2278.8 1141.5L2279.2 1140.5L2279.6 1142.4L2280.0 1139.0L2280.5 1139.3L2280.9 1140.6L2281.3 1142.6L2281.7 1143.3L2282.1 1142.8L2282.6 1144.2L2283.0 1144.1L2283.4 1144.7L2283.8 1146.8L2284.2 1143.9L2284.7 1147.9L2285.1 1147.6L2285.5 1146.5L2285.9 1147.0L2286.3 1146.5L2286.8 1146.9L2287.2 1146.5L2287.6 1146.8L2288.0 1146.0L2288.4 1147.8L2288.9 1146.6L2289.3 1146.9L2289.7 1147.8L2290.1 1146.6L2290.5 1147.2L2291.0 1147.2L2291.4 1147.0L2291.8 1146.4L2292.2 1148.4L2292.6 1147.8L2293.1 1148.5L2293.5 1145.3L2293.9 1147.2L2294.3 1145.8L2294.7 1146.1L2295.2 1147.7L2295.6 1145.5L2296.0 1146.5L2296.4 1146.4L2296.8 1145.8L2297.3 1146.7L2297.7 1146.8L2298.1 1146.9L2298.5 1148.3L2298.9 1146.6L2299.4 1144.8L2299.8 1148.3L2300.2 1147.1L2300.6 1147.6L2301.0 1147.4L2301.5 1145.2L2301.9 1147.1L2302.3 1146.7L2302.7 1146.5L2303.1 1147.0L2303.6 1147.3L2304.0 1148.0L2304.4 1147.6L2304.8 1147.1L2305.2 1147.6L2305.7 1145.1L2306.1 1147.4L2306.5 1147.5L2306.9 1147.5L2307.3 1148.7L2307.8 1147.6L2308.2 1148.6L2308.6 1146.9L2309.0 1147.3L2309.4 1146.8L2309.9 1146.2L2310.3 1146.8L2310.7 1147.3L2311.1 1146.3L2311.5 1147.8L2312.0 1146.2L2312.4 1146.2L2312.8 1144.4L2313.2 1146.6L2313.6 1145.7L2314.1 1148.4L2314.5 1146.5L2314.9 1146.6L2315.3 1147.2L2315.7 1145.9L2316.2 1146.6L2316.6 1145.3L2317.0 1146.3L2317.4 1147.5L2317.8 1147.6L2318.3 1147.7L2318.7 1146.4L2319.1 1145.7L2319.5 1146.9L2319.9 1147.5L2320.4 1145.6L2320.8 1148.3L2321.2 1146.9L2321.6 1144.6L2322.0 1146.0L2322.5 1147.7L2322.9 1147.0L2323.3 1147.4L2323.7 1146.7L2324.1 1145.2L2324.6 1145.5L2325.0 1145.9L2325.4 1145.7L2325.8 1145.1L2326.2 1145.3L2326.7 1146.9L2327.1 1147.7L2327.5 1144.9L2327.9 1145.1L2328.3 1145.7L2328.8 1145.8L2329.2 1144.0L2329.6 1147.5L2330.0 1146.7L2330.4 1146.5L2330.9 1144.4L2331.3 1146.5L2331.7 1145.8L2332.1 1147.5L2332.5 1147.0L2333.0 1146.7L2333.4 1147.1L2333.8 1146.0L2334.2 1146.6L2334.6 1144.4L2335.1 1145.8L2335.5 1144.0L2335.9 1145.9L2336.3 1144.3L2336.7 1142.0L2337.2 1144.6L2337.6 1141.9L2338.0 1140.5L2338.4 1140.2L2338.8 1140.2L2339.3 1140.2L2339.7 1137.7L2340.1 1137.1L2340.5 1136.2L2340.9 1134.8L2341.4 1133.9L2341.8 1133.6"/>
</g>
<g class="frame">
<rect x="160.5" y="50.8" width="2181.7" height="1163.8" fill="none" stroke="#000" stroke-width="4.8"/>
<line x1="160.5" y1="1214.6" x2="160.5" y2="1240.6"/>
<line x1="296.9" y1="1214.6" x2="296.9" y2="1227.1"/>
<line x1="433.2" y1="1214.6" x2="433.2" y2="1240.6"/>
<line x1="569.6" y1="1214.6" x2="569.6" y2="1227.1"/>
<line x1="705.9" y1="1214.6" x2="705.9" y2="1240.6"/>
<line x1="842.3" y1="1214.6" x2="842.3" y2="1227.1"/>
<line x1="978.6" y1="1214.6" x2="978.6" y2="1240.6"/>
<line x1="1115.0" y1="1214.6" x2="1115.0" y2="1227.1"/>
<line x1="1251.3" y1="1214.6" x2="1251.3" y2="1240.6"/>
<line x1="1387.7" y1="1214.6" x2="1387.7" y2="1227.1"/>
<line x1="1524.1" y1="1214.6" x2="1524.1" y2="1240.6"/>
<line x1="1660.4" y1="1214.6" x2="1660.4" y2="1227.1"/>
<line x1="1796.8" y1="1214.6" x2="1796.8" y2="1240.6"/>
<line x1="1933.1" y1="1214.6" x2="1933.1" y2="1227.1"/>
<line x1="2069.5" y1="1214.6" x2="2069.5" y2="1240.6"/>
<line x1="2205.8" y1="1214.6" x2="2205.8" y2="1227.1"/>
<line x1="2342.2" y1="1214.6" x2="2342.2" y2="1240.6"/>
</g>
<g class="ticklabels">
<text x="143.49" y="1310.77" font-size="70">0</text>
<text x="399.99" y="1310.77" font-size="70">10</text>
<text x="671.69" y="1310.77" font-size="70">20</text>
<text x="944.59" y="1310.78" font-size="70">30</text>
<text x="1216.29" y="1310.77" font-size="70">40</text>
<text x="1489.79" y="1310.77" font-size="70">50</text>
<text x="1762.49" y="1310.77" font-size="70">60</text>
<text x="2035.79" y="1310.77" font-size="70">70</text>
<text x="2306.89" y="1310.77" font-size="70">80</text>
</g>
<g class="titles">
<text x="1174.00" y="1414.60" font-size="75.5" letter-spacing="0.058">2θ (°)</text>
<text transform="translate(102.20 853.94) rotate(-90)" font-size="75.5" letter-spacing="-0.016">Intensity (a.u.)</text>
</g>
<g class="legend">
<text x="1150.78" y="155.80" font-size="63.2" letter-spacing="-0.261">A: Aragonite</text>
<text x="1590.47" y="155.80" font-size="63.2" letter-spacing="0.187">P: Portlandite</text>
<text x="1150.49" y="232.60" font-size="63.2" letter-spacing="-0.070">C: Calcite</text>
<text x="1595.08" y="232.60" font-size="63.2" letter-spacing="0.201">Q: Quartz</text>
<text x="1150.07" y="310.30" font-size="63.2" letter-spacing="-0.051">M: Microcline</text>
<text x="1596.49" y="310.30" font-size="63.2" letter-spacing="-0.364">V: Vaterite</text>
</g>
<g class="series-names">
<text x="177.20" y="558.10" font-size="56.2" letter-spacing="0.103">56 days carbonation</text>
<text x="186.17" y="1018.11" font-size="56.2" letter-spacing="-0.145">Before carbonation</text>
</g>
<g class="peak-labels">
<text x="707.65" y="630.30" font-size="56.4">Q</text>
<text x="871.35" y="384.20" font-size="56.4">Q</text>
<text x="871.35" y="574.60" font-size="56.4">Q</text>
<text x="948.21" y="536.30" font-size="56.4">C</text>
<text x="907.92" y="652.90" font-size="56.4">A</text>
<text x="987.13" y="625.30" font-size="56.4">V</text>
<text x="1135.60" y="652.90" font-size="56.4">P</text>
<text x="1219.25" y="520.20" font-size="56.4">Q</text>
<text x="1300.30" y="577.90" font-size="56.4">Q</text>
<text x="1389.45" y="637.00" font-size="56.4">Q</text>
<text x="1511.15" y="625.30" font-size="56.4">Q</text>
<text x="1777.25" y="611.00" font-size="56.4">Q</text>
<text x="1892.50" y="630.80" font-size="56.4">Q</text>
<text x="2002.50" y="235.50" font-size="56.4">Q</text>
<text x="639.00" y="1080.90" font-size="56.4">P</text>
<text x="710.40" y="793.80" font-size="56.4">Q</text>
<text x="831.05" y="1113.10" font-size="56.4">M</text>
<text x="945.56" y="1110.80" font-size="56.4">C</text>
<text x="1076.00" y="1092.10" font-size="56.4">P</text>
<text x="1212.15" y="1102.40" font-size="56.4">Q</text>
<text x="1248.35" y="1104.60" font-size="56.4">Q</text>
<text x="1298.25" y="1109.80" font-size="56.4">Q</text>
<text x="1511.40" y="1072.00" font-size="56.4">Q</text>
<text x="1775.40" y="1090.00" font-size="56.4">Q</text>
<text x="1990.10" y="1096.70" font-size="56.4">Q</text>
</g>
</svg>
</body>
</html>
